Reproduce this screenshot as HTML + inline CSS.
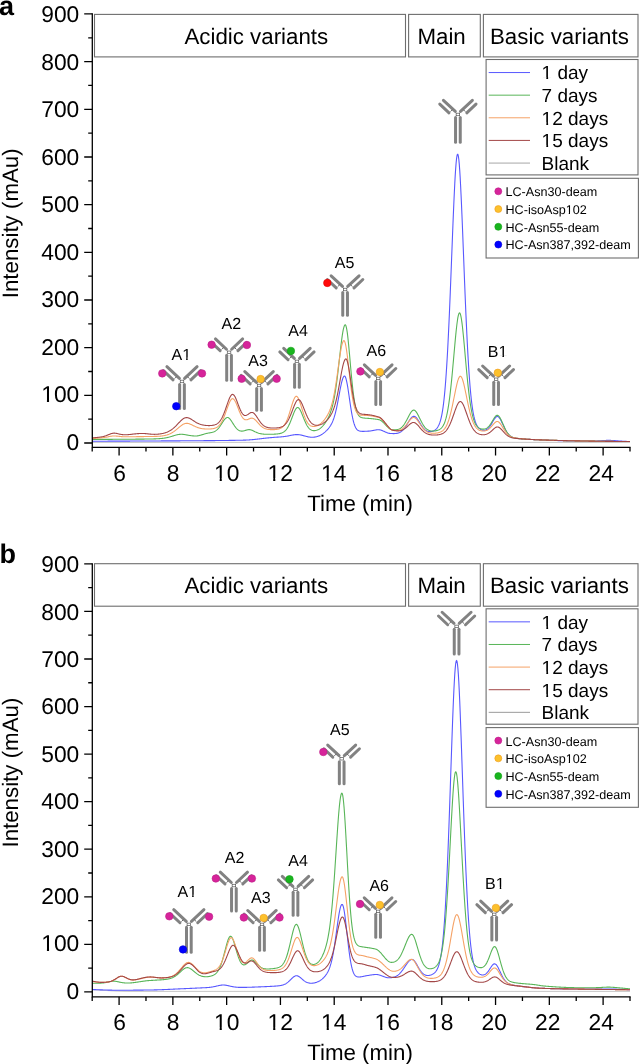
<!DOCTYPE html>
<html><head><meta charset="utf-8"><title>Chromatogram</title>
<style>html,body{margin:0;padding:0;background:#fff;}body{width:640px;height:1064px;overflow:hidden;font-family:"Liberation Sans", sans-serif;}svg{display:block;will-change:transform;}text{text-rendering:geometricPrecision;}</style>
</head><body>
<svg width="640" height="1064" viewBox="0 0 640 1064" font-family='"Liberation Sans", sans-serif'>
<rect width="640" height="1064" fill="#fff"/>
<polyline fill="none" stroke="#b4b4b4" stroke-width="1.0" stroke-linejoin="round" points="92.20,442.38 92.65,442.38 93.10,442.38 93.54,442.38 93.99,442.38 94.44,442.38 94.89,442.38 95.34,442.38 95.79,442.38 96.23,442.38 96.68,442.38 97.13,442.38 97.58,442.38 98.03,442.38 98.47,442.38 98.92,442.38 99.37,442.38 99.82,442.38 100.27,442.38 100.72,442.38 101.16,442.38 101.61,442.38 102.06,442.38 102.51,442.38 102.96,442.38 103.40,442.38 103.85,442.38 104.30,442.38 104.75,442.38 105.20,442.38 105.65,442.38 106.09,442.38 106.54,442.38 106.99,442.38 107.44,442.38 107.89,442.38 108.33,442.38 108.78,442.38 109.23,442.38 109.68,442.38 110.13,442.38 110.57,442.38 111.02,442.38 111.47,442.38 111.92,442.38 112.37,442.38 112.82,442.38 113.26,442.38 113.71,442.38 114.16,442.38 114.61,442.38 115.06,442.38 115.50,442.38 115.95,442.38 116.40,442.38 116.85,442.38 117.30,442.38 117.75,442.38 118.19,442.38 118.64,442.38 119.09,442.38 119.54,442.38 119.99,442.38 120.43,442.38 120.88,442.38 121.33,442.38 121.78,442.38 122.23,442.38 122.68,442.38 123.12,442.38 123.57,442.38 124.02,442.38 124.47,442.38 124.92,442.38 125.36,442.38 125.81,442.38 126.26,442.38 126.71,442.38 127.16,442.38 127.61,442.38 128.05,442.38 128.50,442.38 128.95,442.38 129.40,442.38 129.85,442.38 130.29,442.38 130.74,442.38 131.19,442.38 131.64,442.38 132.09,442.38 132.53,442.38 132.98,442.38 133.43,442.38 133.88,442.38 134.33,442.38 134.78,442.38 135.22,442.38 135.67,442.38 136.12,442.38 136.57,442.38 137.02,442.38 137.46,442.38 137.91,442.38 138.36,442.38 138.81,442.38 139.26,442.38 139.71,442.38 140.15,442.38 140.60,442.38 141.05,442.38 141.50,442.38 141.95,442.38 142.39,442.38 142.84,442.38 143.29,442.38 143.74,442.38 144.19,442.38 144.64,442.38 145.08,442.38 145.53,442.38 145.98,442.38 146.43,442.38 146.88,442.38 147.32,442.38 147.77,442.38 148.22,442.38 148.67,442.38 149.12,442.38 149.57,442.38 150.01,442.38 150.46,442.38 150.91,442.38 151.36,442.38 151.81,442.38 152.25,442.38 152.70,442.38 153.15,442.38 153.60,442.38 154.05,442.38 154.50,442.38 154.94,442.38 155.39,442.38 155.84,442.38 156.29,442.38 156.74,442.38 157.18,442.38 157.63,442.38 158.08,442.38 158.53,442.38 158.98,442.38 159.43,442.38 159.87,442.38 160.32,442.38 160.77,442.38 161.22,442.38 161.67,442.38 162.11,442.38 162.56,442.38 163.01,442.38 163.46,442.38 163.91,442.38 164.35,442.38 164.80,442.38 165.25,442.38 165.70,442.38 166.15,442.38 166.60,442.38 167.04,442.38 167.49,442.38 167.94,442.38 168.39,442.38 168.84,442.38 169.28,442.38 169.73,442.38 170.18,442.38 170.63,442.38 171.08,442.38 171.53,442.38 171.97,442.38 172.42,442.38 172.87,442.38 173.32,442.38 173.77,442.38 174.21,442.38 174.66,442.38 175.11,442.38 175.56,442.38 176.01,442.38 176.46,442.38 176.90,442.38 177.35,442.38 177.80,442.38 178.25,442.38 178.70,442.38 179.14,442.38 179.59,442.38 180.04,442.38 180.49,442.38 180.94,442.38 181.39,442.38 181.83,442.38 182.28,442.38 182.73,442.38 183.18,442.38 183.63,442.38 184.07,442.38 184.52,442.38 184.97,442.38 185.42,442.38 185.87,442.38 186.31,442.38 186.76,442.38 187.21,442.38 187.66,442.38 188.11,442.38 188.56,442.38 189.00,442.38 189.45,442.38 189.90,442.38 190.35,442.38 190.80,442.38 191.24,442.38 191.69,442.38 192.14,442.38 192.59,442.38 193.04,442.38 193.49,442.38 193.93,442.38 194.38,442.38 194.83,442.38 195.28,442.38 195.73,442.38 196.17,442.38 196.62,442.38 197.07,442.38 197.52,442.38 197.97,442.38 198.42,442.38 198.86,442.38 199.31,442.38 199.76,442.38 200.21,442.38 200.66,442.38 201.10,442.38 201.55,442.38 202.00,442.38 202.45,442.38 202.90,442.38 203.35,442.38 203.79,442.38 204.24,442.38 204.69,442.38 205.14,442.38 205.59,442.38 206.03,442.38 206.48,442.38 206.93,442.38 207.38,442.38 207.83,442.38 208.28,442.38 208.72,442.38 209.17,442.38 209.62,442.38 210.07,442.38 210.52,442.38 210.96,442.38 211.41,442.38 211.86,442.38 212.31,442.38 212.76,442.38 213.20,442.38 213.65,442.38 214.10,442.38 214.55,442.38 215.00,442.38 215.45,442.38 215.89,442.38 216.34,442.38 216.79,442.38 217.24,442.38 217.69,442.38 218.13,442.38 218.58,442.38 219.03,442.38 219.48,442.38 219.93,442.38 220.38,442.38 220.82,442.38 221.27,442.38 221.72,442.38 222.17,442.38 222.62,442.38 223.06,442.38 223.51,442.38 223.96,442.38 224.41,442.38 224.86,442.38 225.31,442.38 225.75,442.38 226.20,442.38 226.65,442.38 227.10,442.38 227.55,442.38 227.99,442.38 228.44,442.38 228.89,442.38 229.34,442.38 229.79,442.38 230.24,442.38 230.68,442.38 231.13,442.38 231.58,442.38 232.03,442.38 232.48,442.38 232.92,442.38 233.37,442.38 233.82,442.38 234.27,442.38 234.72,442.38 235.17,442.38 235.61,442.38 236.06,442.38 236.51,442.38 236.96,442.38 237.41,442.38 237.85,442.38 238.30,442.38 238.75,442.38 239.20,442.38 239.65,442.38 240.10,442.38 240.54,442.38 240.99,442.38 241.44,442.38 241.89,442.38 242.34,442.38 242.78,442.38 243.23,442.38 243.68,442.38 244.13,442.38 244.58,442.38 245.02,442.38 245.47,442.38 245.92,442.38 246.37,442.38 246.82,442.38 247.27,442.38 247.71,442.38 248.16,442.38 248.61,442.38 249.06,442.38 249.51,442.38 249.95,442.38 250.40,442.38 250.85,442.38 251.30,442.38 251.75,442.38 252.20,442.38 252.64,442.38 253.09,442.38 253.54,442.38 253.99,442.38 254.44,442.38 254.88,442.38 255.33,442.38 255.78,442.38 256.23,442.38 256.68,442.38 257.13,442.38 257.57,442.38 258.02,442.38 258.47,442.38 258.92,442.38 259.37,442.38 259.81,442.38 260.26,442.38 260.71,442.38 261.16,442.38 261.61,442.38 262.06,442.38 262.50,442.38 262.95,442.38 263.40,442.38 263.85,442.38 264.30,442.38 264.74,442.38 265.19,442.38 265.64,442.38 266.09,442.38 266.54,442.38 266.99,442.38 267.43,442.38 267.88,442.38 268.33,442.38 268.78,442.38 269.23,442.38 269.67,442.38 270.12,442.38 270.57,442.38 271.02,442.38 271.47,442.38 271.91,442.38 272.36,442.38 272.81,442.38 273.26,442.38 273.71,442.38 274.16,442.38 274.60,442.38 275.05,442.38 275.50,442.38 275.95,442.38 276.40,442.38 276.84,442.38 277.29,442.38 277.74,442.38 278.19,442.38 278.64,442.38 279.09,442.38 279.53,442.38 279.98,442.38 280.43,442.38 280.88,442.38 281.33,442.38 281.77,442.38 282.22,442.38 282.67,442.38 283.12,442.38 283.57,442.38 284.02,442.38 284.46,442.38 284.91,442.38 285.36,442.38 285.81,442.38 286.26,442.38 286.70,442.38 287.15,442.38 287.60,442.38 288.05,442.38 288.50,442.38 288.95,442.38 289.39,442.38 289.84,442.38 290.29,442.38 290.74,442.38 291.19,442.38 291.63,442.38 292.08,442.38 292.53,442.38 292.98,442.38 293.43,442.38 293.88,442.38 294.32,442.38 294.77,442.38 295.22,442.38 295.67,442.38 296.12,442.38 296.56,442.38 297.01,442.38 297.46,442.38 297.91,442.38 298.36,442.38 298.80,442.38 299.25,442.38 299.70,442.38 300.15,442.38 300.60,442.38 301.05,442.38 301.49,442.38 301.94,442.38 302.39,442.38 302.84,442.38 303.29,442.38 303.73,442.38 304.18,442.38 304.63,442.38 305.08,442.38 305.53,442.38 305.98,442.38 306.42,442.38 306.87,442.38 307.32,442.38 307.77,442.38 308.22,442.38 308.66,442.38 309.11,442.38 309.56,442.38 310.01,442.38 310.46,442.38 310.91,442.38 311.35,442.38 311.80,442.38 312.25,442.38 312.70,442.38 313.15,442.38 313.59,442.38 314.04,442.38 314.49,442.38 314.94,442.38 315.39,442.38 315.84,442.38 316.28,442.38 316.73,442.38 317.18,442.38 317.63,442.38 318.08,442.38 318.52,442.38 318.97,442.38 319.42,442.38 319.87,442.38 320.32,442.38 320.76,442.38 321.21,442.38 321.66,442.38 322.11,442.38 322.56,442.38 323.01,442.38 323.45,442.38 323.90,442.38 324.35,442.38 324.80,442.38 325.25,442.38 325.69,442.38 326.14,442.38 326.59,442.38 327.04,442.38 327.49,442.38 327.94,442.38 328.38,442.38 328.83,442.38 329.28,442.38 329.73,442.38 330.18,442.38 330.62,442.38 331.07,442.38 331.52,442.38 331.97,442.38 332.42,442.38 332.87,442.38 333.31,442.38 333.76,442.38 334.21,442.38 334.66,442.38 335.11,442.38 335.55,442.38 336.00,442.38 336.45,442.38 336.90,442.38 337.35,442.38 337.80,442.38 338.24,442.38 338.69,442.38 339.14,442.38 339.59,442.38 340.04,442.38 340.48,442.38 340.93,442.38 341.38,442.38 341.83,442.38 342.28,442.38 342.73,442.38 343.17,442.38 343.62,442.38 344.07,442.38 344.52,442.38 344.97,442.38 345.41,442.38 345.86,442.38 346.31,442.38 346.76,442.38 347.21,442.38 347.66,442.38 348.10,442.38 348.55,442.38 349.00,442.38 349.45,442.38 349.90,442.38 350.34,442.38 350.79,442.38 351.24,442.38 351.69,442.38 352.14,442.38 352.58,442.38 353.03,442.38 353.48,442.38 353.93,442.38 354.38,442.38 354.83,442.38 355.27,442.38 355.72,442.38 356.17,442.38 356.62,442.38 357.07,442.38 357.51,442.38 357.96,442.38 358.41,442.38 358.86,442.38 359.31,442.38 359.76,442.38 360.20,442.38 360.65,442.38 361.10,442.38 361.55,442.38 362.00,442.38 362.44,442.38 362.89,442.38 363.34,442.38 363.79,442.38 364.24,442.38 364.69,442.38 365.13,442.38 365.58,442.38 366.03,442.38 366.48,442.38 366.93,442.38 367.37,442.38 367.82,442.38 368.27,442.38 368.72,442.38 369.17,442.38 369.62,442.38 370.06,442.38 370.51,442.38 370.96,442.38 371.41,442.38 371.86,442.38 372.30,442.38 372.75,442.38 373.20,442.38 373.65,442.38 374.10,442.38 374.55,442.38 374.99,442.38 375.44,442.38 375.89,442.38 376.34,442.38 376.79,442.38 377.23,442.38 377.68,442.38 378.13,442.38 378.58,442.38 379.03,442.38 379.47,442.38 379.92,442.38 380.37,442.38 380.82,442.38 381.27,442.38 381.72,442.38 382.16,442.38 382.61,442.38 383.06,442.38 383.51,442.38 383.96,442.38 384.40,442.38 384.85,442.38 385.30,442.38 385.75,442.38 386.20,442.38 386.65,442.38 387.09,442.38 387.54,442.38 387.99,442.38 388.44,442.38 388.89,442.38 389.33,442.38 389.78,442.38 390.23,442.38 390.68,442.38 391.13,442.38 391.58,442.38 392.02,442.38 392.47,442.38 392.92,442.38 393.37,442.38 393.82,442.38 394.26,442.38 394.71,442.38 395.16,442.38 395.61,442.38 396.06,442.38 396.51,442.38 396.95,442.38 397.40,442.38 397.85,442.38 398.30,442.38 398.75,442.38 399.19,442.38 399.64,442.38 400.09,442.38 400.54,442.38 400.99,442.38 401.44,442.38 401.88,442.38 402.33,442.38 402.78,442.38 403.23,442.38 403.68,442.38 404.12,442.38 404.57,442.38 405.02,442.38 405.47,442.38 405.92,442.38 406.36,442.38 406.81,442.38 407.26,442.38 407.71,442.38 408.16,442.38 408.61,442.38 409.05,442.38 409.50,442.38 409.95,442.38 410.40,442.38 410.85,442.38 411.29,442.38 411.74,442.38 412.19,442.38 412.64,442.38 413.09,442.38 413.54,442.38 413.98,442.38 414.43,442.38 414.88,442.38 415.33,442.38 415.78,442.38 416.22,442.38 416.67,442.38 417.12,442.38 417.57,442.38 418.02,442.38 418.47,442.38 418.91,442.38 419.36,442.38 419.81,442.38 420.26,442.38 420.71,442.38 421.15,442.38 421.60,442.38 422.05,442.38 422.50,442.38 422.95,442.38 423.40,442.38 423.84,442.38 424.29,442.38 424.74,442.38 425.19,442.38 425.64,442.38 426.08,442.38 426.53,442.38 426.98,442.38 427.43,442.38 427.88,442.38 428.32,442.38 428.77,442.38 429.22,442.38 429.67,442.38 430.12,442.38 430.57,442.38 431.01,442.38 431.46,442.38 431.91,442.38 432.36,442.38 432.81,442.38 433.25,442.38 433.70,442.38 434.15,442.38 434.60,442.38 435.05,442.38 435.50,442.38 435.94,442.38 436.39,442.38 436.84,442.38 437.29,442.38 437.74,442.38 438.18,442.38 438.63,442.38 439.08,442.38 439.53,442.38 439.98,442.38 440.43,442.38 440.87,442.38 441.32,442.38 441.77,442.38 442.22,442.38 442.67,442.38 443.11,442.38 443.56,442.38 444.01,442.38 444.46,442.38 444.91,442.38 445.36,442.38 445.80,442.38 446.25,442.38 446.70,442.38 447.15,442.38 447.60,442.38 448.04,442.38 448.49,442.38 448.94,442.38 449.39,442.38 449.84,442.38 450.29,442.38 450.73,442.38 451.18,442.38 451.63,442.38 452.08,442.38 452.53,442.38 452.97,442.38 453.42,442.38 453.87,442.38 454.32,442.38 454.77,442.38 455.21,442.38 455.66,442.38 456.11,442.38 456.56,442.38 457.01,442.38 457.46,442.38 457.90,442.38 458.35,442.38 458.80,442.38 459.25,442.38 459.70,442.38 460.14,442.38 460.59,442.38 461.04,442.38 461.49,442.38 461.94,442.38 462.39,442.38 462.83,442.38 463.28,442.38 463.73,442.38 464.18,442.38 464.63,442.38 465.07,442.38 465.52,442.38 465.97,442.38 466.42,442.38 466.87,442.38 467.32,442.38 467.76,442.38 468.21,442.38 468.66,442.38 469.11,442.38 469.56,442.38 470.00,442.38 470.45,442.38 470.90,442.38 471.35,442.38 471.80,442.38 472.25,442.38 472.69,442.38 473.14,442.38 473.59,442.38 474.04,442.38 474.49,442.38 474.93,442.38 475.38,442.38 475.83,442.38 476.28,442.38 476.73,442.38 477.18,442.38 477.62,442.38 478.07,442.38 478.52,442.38 478.97,442.38 479.42,442.38 479.86,442.38 480.31,442.38 480.76,442.38 481.21,442.38 481.66,442.38 482.11,442.38 482.55,442.38 483.00,442.38 483.45,442.38 483.90,442.38 484.35,442.38 484.79,442.38 485.24,442.38 485.69,442.38 486.14,442.38 486.59,442.38 487.03,442.38 487.48,442.38 487.93,442.38 488.38,442.38 488.83,442.38 489.28,442.38 489.72,442.38 490.17,442.38 490.62,442.38 491.07,442.38 491.52,442.38 491.96,442.38 492.41,442.38 492.86,442.38 493.31,442.38 493.76,442.38 494.21,442.38 494.65,442.38 495.10,442.38 495.55,442.38 496.00,442.38 496.45,442.38 496.89,442.38 497.34,442.38 497.79,442.38 498.24,442.38 498.69,442.38 499.14,442.38 499.58,442.38 500.03,442.38 500.48,442.38 500.93,442.38 501.38,442.38 501.82,442.38 502.27,442.38 502.72,442.38 503.17,442.38 503.62,442.38 504.07,442.38 504.51,442.38 504.96,442.38 505.41,442.38 505.86,442.38 506.31,442.38 506.75,442.38 507.20,442.38 507.65,442.38 508.10,442.38 508.55,442.38 509.00,442.38 509.44,442.38 509.89,442.38 510.34,442.38 510.79,442.38 511.24,442.38 511.68,442.38 512.13,442.38 512.58,442.38 513.03,442.38 513.48,442.38 513.92,442.38 514.37,442.38 514.82,442.38 515.27,442.38 515.72,442.38 516.17,442.38 516.61,442.38 517.06,442.38 517.51,442.38 517.96,442.38 518.41,442.38 518.85,442.38 519.30,442.38 519.75,442.38 520.20,442.38 520.65,442.38 521.10,442.38 521.54,442.38 521.99,442.38 522.44,442.38 522.89,442.38 523.34,442.38 523.78,442.38 524.23,442.38 524.68,442.38 525.13,442.38 525.58,442.38 526.03,442.38 526.47,442.38 526.92,442.38 527.37,442.38 527.82,442.38 528.27,442.38 528.71,442.38 529.16,442.38 529.61,442.38 530.06,442.38 530.51,442.38 530.96,442.38 531.40,442.38 531.85,442.38 532.30,442.38 532.75,442.38 533.20,442.38 533.64,442.38 534.09,442.38 534.54,442.38 534.99,442.38 535.44,442.38 535.88,442.38 536.33,442.38 536.78,442.38 537.23,442.38 537.68,442.38 538.13,442.38 538.57,442.38 539.02,442.38 539.47,442.38 539.92,442.38 540.37,442.38 540.81,442.38 541.26,442.38 541.71,442.38 542.16,442.38 542.61,442.38 543.06,442.38 543.50,442.38 543.95,442.38 544.40,442.38 544.85,442.38 545.30,442.38 545.74,442.38 546.19,442.38 546.64,442.38 547.09,442.38 547.54,442.38 547.99,442.38 548.43,442.38 548.88,442.38 549.33,442.38 549.78,442.38 550.23,442.38 550.67,442.38 551.12,442.38 551.57,442.38 552.02,442.38 552.47,442.38 552.92,442.38 553.36,442.38 553.81,442.38 554.26,442.38 554.71,442.38 555.16,442.38 555.60,442.38 556.05,442.38 556.50,442.38 556.95,442.38 557.40,442.38 557.85,442.38 558.29,442.38 558.74,442.38 559.19,442.38 559.64,442.38 560.09,442.38 560.53,442.38 560.98,442.38 561.43,442.38 561.88,442.38 562.33,442.38 562.77,442.38 563.22,442.38 563.67,442.38 564.12,442.38 564.57,442.38 565.02,442.38 565.46,442.38 565.91,442.38 566.36,442.38 566.81,442.38 567.26,442.38 567.70,442.38 568.15,442.38 568.60,442.38 569.05,442.38 569.50,442.38 569.95,442.38 570.39,442.38 570.84,442.38 571.29,442.38 571.74,442.38 572.19,442.38 572.63,442.38 573.08,442.38 573.53,442.38 573.98,442.38 574.43,442.38 574.88,442.38 575.32,442.38 575.77,442.38 576.22,442.38 576.67,442.38 577.12,442.38 577.56,442.38 578.01,442.38 578.46,442.38 578.91,442.38 579.36,442.38 579.81,442.38 580.25,442.38 580.70,442.38 581.15,442.38 581.60,442.38 582.05,442.38 582.49,442.38 582.94,442.38 583.39,442.38 583.84,442.38 584.29,442.38 584.74,442.38 585.18,442.38 585.63,442.38 586.08,442.38 586.53,442.38 586.98,442.38 587.42,442.38 587.87,442.38 588.32,442.38 588.77,442.38 589.22,442.38 589.67,442.38 590.11,442.38 590.56,442.38 591.01,442.38 591.46,442.38 591.91,442.38 592.35,442.38 592.80,442.38 593.25,442.38 593.70,442.38 594.15,442.38 594.59,442.38 595.04,442.38 595.49,442.38 595.94,442.38 596.39,442.38 596.84,442.38 597.28,442.38 597.73,442.38 598.18,442.38 598.63,442.38 599.08,442.38 599.52,442.38 599.97,442.38 600.42,442.38 600.87,442.38 601.32,442.38 601.77,442.38 602.21,442.38 602.66,442.38 603.11,442.38 603.56,442.38 604.01,442.38 604.45,442.38 604.90,442.38 605.35,442.38 605.80,442.38 606.25,442.38 606.70,442.38 607.14,442.38 607.59,442.38 608.04,442.38 608.49,442.38 608.94,442.38 609.38,442.38 609.83,442.38 610.28,442.38 610.73,442.38 611.18,442.38 611.63,442.38 612.07,442.38 612.52,442.38 612.97,442.38 613.42,442.38 613.87,442.38 614.31,442.38 614.76,442.38 615.21,442.38 615.66,442.38 616.11,442.38 616.56,442.38 617.00,442.38 617.45,442.38 617.90,442.38 618.35,442.38 618.80,442.38 619.24,442.38 619.69,442.38 620.14,442.38 620.59,442.38 621.04,442.38 621.48,442.38 621.93,442.38 622.38,442.38 622.83,442.38 623.28,442.38 623.73,442.38 624.17,442.38 624.62,442.38 625.07,442.38 625.52,442.38 625.97,442.38 626.41,442.38 626.86,442.38 627.31,442.38 627.76,442.38 628.21,442.38 628.66,442.38 629.10,442.38 629.55,442.38 630.00,442.38"/>
<polyline fill="none" stroke="#5858ff" stroke-width="1.1" stroke-linejoin="round" points="92.20,441.24 92.65,441.23 93.10,441.23 93.54,441.23 93.99,441.23 94.44,441.23 94.89,441.23 95.34,441.22 95.79,441.22 96.23,441.22 96.68,441.22 97.13,441.22 97.58,441.22 98.03,441.21 98.47,441.21 98.92,441.21 99.37,441.21 99.82,441.21 100.27,441.20 100.72,441.20 101.16,441.20 101.61,441.20 102.06,441.20 102.51,441.20 102.96,441.19 103.40,441.19 103.85,441.19 104.30,441.19 104.75,441.19 105.20,441.18 105.65,441.18 106.09,441.18 106.54,441.18 106.99,441.18 107.44,441.18 107.89,441.17 108.33,441.17 108.78,441.17 109.23,441.17 109.68,441.17 110.13,441.16 110.57,441.16 111.02,441.16 111.47,441.16 111.92,441.16 112.37,441.15 112.82,441.15 113.26,441.15 113.71,441.15 114.16,441.15 114.61,441.14 115.06,441.14 115.50,441.14 115.95,441.14 116.40,441.14 116.85,441.13 117.30,441.13 117.75,441.13 118.19,441.13 118.64,441.13 119.09,441.13 119.54,441.12 119.99,441.12 120.43,441.12 120.88,441.12 121.33,441.12 121.78,441.11 122.23,441.11 122.68,441.11 123.12,441.11 123.57,441.10 124.02,441.10 124.47,441.10 124.92,441.10 125.36,441.10 125.81,441.09 126.26,441.09 126.71,441.09 127.16,441.09 127.61,441.09 128.05,441.08 128.50,441.08 128.95,441.08 129.40,441.08 129.85,441.08 130.29,441.07 130.74,441.07 131.19,441.07 131.64,441.07 132.09,441.07 132.53,441.06 132.98,441.06 133.43,441.06 133.88,441.06 134.33,441.05 134.78,441.05 135.22,441.05 135.67,441.05 136.12,441.05 136.57,441.04 137.02,441.04 137.46,441.04 137.91,441.04 138.36,441.04 138.81,441.03 139.26,441.03 139.71,441.03 140.15,441.03 140.60,441.02 141.05,441.02 141.50,441.02 141.95,441.02 142.39,441.02 142.84,441.01 143.29,441.01 143.74,441.01 144.19,441.01 144.64,441.00 145.08,441.00 145.53,441.00 145.98,441.00 146.43,441.00 146.88,440.99 147.32,440.99 147.77,440.99 148.22,440.99 148.67,440.98 149.12,440.98 149.57,440.98 150.01,440.98 150.46,440.98 150.91,440.97 151.36,440.97 151.81,440.97 152.25,440.97 152.70,440.96 153.15,440.96 153.60,440.96 154.05,440.96 154.50,440.96 154.94,440.95 155.39,440.95 155.84,440.95 156.29,440.95 156.74,440.95 157.18,440.94 157.63,440.94 158.08,440.94 158.53,440.94 158.98,440.93 159.43,440.93 159.87,440.93 160.32,440.93 160.77,440.93 161.22,440.92 161.67,440.92 162.11,440.92 162.56,440.92 163.01,440.91 163.46,440.91 163.91,440.91 164.35,440.91 164.80,440.91 165.25,440.90 165.70,440.90 166.15,440.90 166.60,440.90 167.04,440.89 167.49,440.89 167.94,440.89 168.39,440.89 168.84,440.89 169.28,440.88 169.73,440.88 170.18,440.88 170.63,440.88 171.08,440.87 171.53,440.87 171.97,440.87 172.42,440.87 172.87,440.87 173.32,440.86 173.77,440.86 174.21,440.86 174.66,440.86 175.11,440.85 175.56,440.85 176.01,440.85 176.46,440.85 176.90,440.84 177.35,440.84 177.80,440.84 178.25,440.84 178.70,440.83 179.14,440.83 179.59,440.83 180.04,440.83 180.49,440.82 180.94,440.82 181.39,440.82 181.83,440.82 182.28,440.81 182.73,440.81 183.18,440.81 183.63,440.81 184.07,440.80 184.52,440.80 184.97,440.80 185.42,440.80 185.87,440.79 186.31,440.79 186.76,440.79 187.21,440.79 187.66,440.78 188.11,440.78 188.56,440.78 189.00,440.77 189.45,440.77 189.90,440.77 190.35,440.77 190.80,440.76 191.24,440.76 191.69,440.76 192.14,440.75 192.59,440.75 193.04,440.75 193.49,440.75 193.93,440.74 194.38,440.74 194.83,440.74 195.28,440.73 195.73,440.73 196.17,440.73 196.62,440.72 197.07,440.72 197.52,440.72 197.97,440.72 198.42,440.71 198.86,440.71 199.31,440.71 199.76,440.70 200.21,440.70 200.66,440.70 201.10,440.69 201.55,440.69 202.00,440.69 202.45,440.68 202.90,440.68 203.35,440.68 203.79,440.67 204.24,440.67 204.69,440.67 205.14,440.66 205.59,440.66 206.03,440.65 206.48,440.65 206.93,440.65 207.38,440.64 207.83,440.64 208.28,440.64 208.72,440.63 209.17,440.63 209.62,440.62 210.07,440.62 210.52,440.62 210.96,440.61 211.41,440.61 211.86,440.60 212.31,440.60 212.76,440.60 213.20,440.59 213.65,440.59 214.10,440.58 214.55,440.58 215.00,440.58 215.45,440.57 215.89,440.57 216.34,440.56 216.79,440.56 217.24,440.56 217.69,440.55 218.13,440.55 218.58,440.54 219.03,440.54 219.48,440.53 219.93,440.53 220.38,440.52 220.82,440.52 221.27,440.51 221.72,440.51 222.17,440.51 222.62,440.50 223.06,440.50 223.51,440.49 223.96,440.48 224.41,440.48 224.86,440.47 225.31,440.47 225.75,440.46 226.20,440.46 226.65,440.45 227.10,440.45 227.55,440.44 227.99,440.44 228.44,440.43 228.89,440.42 229.34,440.42 229.79,440.41 230.24,440.40 230.68,440.40 231.13,440.39 231.58,440.38 232.03,440.38 232.48,440.37 232.92,440.36 233.37,440.36 233.82,440.35 234.27,440.34 234.72,440.34 235.17,440.33 235.61,440.32 236.06,440.31 236.51,440.30 236.96,440.30 237.41,440.29 237.85,440.28 238.30,440.27 238.75,440.26 239.20,440.25 239.65,440.24 240.10,440.24 240.54,440.23 240.99,440.22 241.44,440.21 241.89,440.20 242.34,440.19 242.78,440.18 243.23,440.17 243.68,440.16 244.13,440.15 244.58,440.14 245.02,440.12 245.47,440.11 245.92,440.09 246.37,440.07 246.82,440.05 247.27,440.03 247.71,440.00 248.16,439.98 248.61,439.95 249.06,439.92 249.51,439.88 249.95,439.85 250.40,439.82 250.85,439.78 251.30,439.74 251.75,439.70 252.20,439.66 252.64,439.62 253.09,439.58 253.54,439.53 253.99,439.49 254.44,439.44 254.88,439.40 255.33,439.35 255.78,439.30 256.23,439.25 256.68,439.20 257.13,439.15 257.57,439.10 258.02,439.05 258.47,439.00 258.92,438.94 259.37,438.89 259.81,438.84 260.26,438.79 260.71,438.73 261.16,438.68 261.61,438.63 262.06,438.57 262.50,438.52 262.95,438.47 263.40,438.42 263.85,438.36 264.30,438.31 264.74,438.26 265.19,438.21 265.64,438.16 266.09,438.11 266.54,438.06 266.99,438.01 267.43,437.97 267.88,437.92 268.33,437.87 268.78,437.83 269.23,437.78 269.67,437.74 270.12,437.70 270.57,437.66 271.02,437.61 271.47,437.58 271.91,437.54 272.36,437.50 272.81,437.46 273.26,437.43 273.71,437.39 274.16,437.36 274.60,437.32 275.05,437.29 275.50,437.26 275.95,437.23 276.40,437.20 276.84,437.17 277.29,437.14 277.74,437.11 278.19,437.08 278.64,437.05 279.09,437.02 279.53,436.99 279.98,436.96 280.43,436.93 280.88,436.89 281.33,436.85 281.77,436.81 282.22,436.77 282.67,436.73 283.12,436.68 283.57,436.63 284.02,436.57 284.46,436.51 284.91,436.45 285.36,436.39 285.81,436.32 286.26,436.25 286.70,436.17 287.15,436.09 287.60,436.01 288.05,435.93 288.50,435.84 288.95,435.75 289.39,435.67 289.84,435.58 290.29,435.48 290.74,435.39 291.19,435.30 291.63,435.22 292.08,435.13 292.53,435.05 292.98,434.97 293.43,434.89 293.88,434.83 294.32,434.77 294.77,434.71 295.22,434.67 295.67,434.63 296.12,434.60 296.56,434.59 297.01,434.58 297.46,434.59 297.91,434.61 298.36,434.64 298.80,434.68 299.25,434.74 299.70,434.80 300.15,434.88 300.60,434.96 301.05,435.05 301.49,435.15 301.94,435.26 302.39,435.37 302.84,435.49 303.29,435.61 303.73,435.73 304.18,435.85 304.63,435.97 305.08,436.09 305.53,436.21 305.98,436.33 306.42,436.44 306.87,436.55 307.32,436.65 307.77,436.75 308.22,436.84 308.66,436.92 309.11,437.00 309.56,437.07 310.01,437.13 310.46,437.18 310.91,437.22 311.35,437.24 311.80,437.26 312.25,437.27 312.70,437.26 313.15,437.25 313.59,437.22 314.04,437.17 314.49,437.12 314.94,437.05 315.39,436.98 315.84,436.88 316.28,436.78 316.73,436.66 317.18,436.53 317.63,436.39 318.08,436.23 318.52,436.06 318.97,435.87 319.42,435.67 319.87,435.46 320.32,435.24 320.76,435.00 321.21,434.74 321.66,434.47 322.11,434.19 322.56,433.89 323.01,433.58 323.45,433.26 323.90,432.91 324.35,432.56 324.80,432.19 325.25,431.80 325.69,431.40 326.14,430.97 326.59,430.54 327.04,430.08 327.49,429.60 327.94,429.10 328.38,428.57 328.83,428.01 329.28,427.42 329.73,426.80 330.18,426.13 330.62,425.42 331.07,424.65 331.52,423.82 331.97,422.93 332.42,421.96 332.87,420.90 333.31,419.74 333.76,418.49 334.21,417.13 334.66,415.65 335.11,414.05 335.55,412.32 336.00,410.48 336.45,408.51 336.90,406.43 337.35,404.24 337.80,401.96 338.24,399.62 338.69,397.22 339.14,394.80 339.59,392.39 340.04,390.01 340.48,387.72 340.93,385.53 341.38,383.49 341.83,381.64 342.28,380.01 342.73,378.62 343.17,377.51 343.62,376.70 344.07,376.19 344.52,376.02 344.97,376.27 345.41,377.00 345.86,378.18 346.31,379.78 346.76,381.77 347.21,384.08 347.66,386.68 348.10,389.49 348.55,392.46 349.00,395.53 349.45,398.63 349.90,401.73 350.34,404.76 350.79,407.68 351.24,410.46 351.69,413.08 352.14,415.50 352.58,417.72 353.03,419.74 353.48,421.54 353.93,423.14 354.38,424.55 354.83,425.76 355.27,426.81 355.72,427.69 356.17,428.44 356.62,429.06 357.07,429.57 357.51,429.98 357.96,430.31 358.41,430.58 358.86,430.79 359.31,430.95 359.76,431.07 360.20,431.16 360.65,431.23 361.10,431.28 361.55,431.31 362.00,431.33 362.44,431.34 362.89,431.35 363.34,431.35 363.79,431.34 364.24,431.33 364.69,431.32 365.13,431.30 365.58,431.29 366.03,431.27 366.48,431.25 366.93,431.23 367.37,431.20 367.82,431.17 368.27,431.15 368.72,431.12 369.17,431.08 369.62,431.04 370.06,430.99 370.51,430.93 370.96,430.86 371.41,430.79 371.86,430.71 372.30,430.62 372.75,430.53 373.20,430.44 373.65,430.35 374.10,430.26 374.55,430.17 374.99,430.09 375.44,430.01 375.89,429.94 376.34,429.87 376.79,429.81 377.23,429.77 377.68,429.73 378.13,429.71 378.58,429.70 379.03,429.72 379.47,429.77 379.92,429.85 380.37,429.95 380.82,430.07 381.27,430.21 381.72,430.37 382.16,430.55 382.61,430.73 383.06,430.93 383.51,431.13 383.96,431.34 384.40,431.55 384.85,431.76 385.30,431.97 385.75,432.17 386.20,432.37 386.65,432.56 387.09,432.73 387.54,432.90 387.99,433.04 388.44,433.17 388.89,433.27 389.33,433.36 389.78,433.41 390.23,433.45 390.68,433.48 391.13,433.51 391.58,433.53 392.02,433.55 392.47,433.57 392.92,433.58 393.37,433.59 393.82,433.59 394.26,433.58 394.71,433.57 395.16,433.55 395.61,433.51 396.06,433.47 396.51,433.41 396.95,433.34 397.40,433.25 397.85,433.14 398.30,433.01 398.75,432.86 399.19,432.69 399.64,432.49 400.09,432.26 400.54,432.00 400.99,431.71 401.44,431.39 401.88,431.03 402.33,430.64 402.78,430.21 403.23,429.74 403.68,429.23 404.12,428.68 404.57,428.10 405.02,427.49 405.47,426.84 405.92,426.17 406.36,425.47 406.81,424.74 407.26,424.00 407.71,423.25 408.16,422.50 408.61,421.75 409.05,421.02 409.50,420.30 409.95,419.62 410.40,418.97 410.85,418.37 411.29,417.83 411.74,417.36 412.19,416.97 412.64,416.66 413.09,416.45 413.54,416.33 413.98,416.31 414.43,416.39 414.88,416.57 415.33,416.84 415.78,417.20 416.22,417.63 416.67,418.14 417.12,418.71 417.57,419.33 418.02,419.98 418.47,420.67 418.91,421.38 419.36,422.10 419.81,422.83 420.26,423.55 420.71,424.27 421.15,424.96 421.60,425.63 422.05,426.28 422.50,426.90 422.95,427.48 423.40,428.03 423.84,428.54 424.29,429.00 424.74,429.43 425.19,429.82 425.64,430.16 426.08,430.47 426.53,430.74 426.98,430.97 427.43,431.16 427.88,431.32 428.32,431.44 428.77,431.53 429.22,431.59 429.67,431.62 430.12,431.63 430.57,431.61 431.01,431.56 431.46,431.48 431.91,431.39 432.36,431.26 432.81,431.12 433.25,430.94 433.70,430.74 434.15,430.51 434.60,430.24 435.05,429.95 435.50,429.61 435.94,429.22 436.39,428.78 436.84,428.29 437.29,427.72 437.74,427.07 438.18,426.34 438.63,425.49 439.08,424.53 439.53,423.42 439.98,422.16 440.43,420.71 440.87,419.07 441.32,417.19 441.77,415.05 442.22,412.63 442.67,409.90 443.11,406.82 443.56,403.36 444.01,399.49 444.46,395.18 444.91,390.41 445.36,385.14 445.80,379.35 446.25,373.03 446.70,366.16 447.15,358.73 447.60,350.75 448.04,342.21 448.49,333.14 448.94,323.55 449.39,313.49 449.84,303.00 450.29,292.14 450.73,280.97 451.18,269.59 451.63,258.06 452.08,246.51 452.53,235.05 452.97,223.79 453.42,212.88 453.87,202.46 454.32,192.67 454.77,183.67 455.21,175.62 455.66,168.67 456.11,162.95 456.56,158.57 457.01,155.65 457.46,154.25 457.90,154.39 458.35,156.08 458.80,159.28 459.25,163.91 459.70,169.87 460.14,177.04 460.59,185.27 461.04,194.42 461.49,204.32 461.94,214.83 462.39,225.81 462.83,237.10 463.28,248.57 463.73,260.10 464.18,271.59 464.63,282.92 465.07,294.01 465.52,304.79 465.97,315.18 466.42,325.13 466.87,334.59 467.32,343.54 467.76,351.96 468.21,359.81 468.66,367.11 469.11,373.86 469.56,380.05 470.00,385.72 470.45,390.87 470.90,395.53 471.35,399.73 471.80,403.50 472.25,406.87 472.69,409.87 473.14,412.52 473.59,414.87 474.04,416.94 474.49,418.75 474.93,420.35 475.38,421.74 475.83,422.96 476.28,424.02 476.73,424.95 477.18,425.76 477.62,426.46 478.07,427.08 478.52,427.61 478.97,428.08 479.42,428.49 479.86,428.84 480.31,429.15 480.76,429.41 481.21,429.64 481.66,429.83 482.11,429.99 482.55,430.11 483.00,430.20 483.45,430.26 483.90,430.28 484.35,430.27 484.79,430.22 485.24,430.13 485.69,430.00 486.14,429.82 486.59,429.60 487.03,429.32 487.48,429.00 487.93,428.63 488.38,428.20 488.83,427.72 489.28,427.19 489.72,426.61 490.17,425.98 490.62,425.31 491.07,424.61 491.52,423.87 491.96,423.11 492.41,422.33 492.86,421.56 493.31,420.79 493.76,420.04 494.21,419.32 494.65,418.65 495.10,418.05 495.55,417.53 496.00,417.10 496.45,416.78 496.89,416.58 497.34,416.51 497.79,416.57 498.24,416.76 498.69,417.09 499.14,417.54 499.58,418.11 500.03,418.78 500.48,419.54 500.93,420.37 501.38,421.26 501.82,422.19 502.27,423.16 502.72,424.14 503.17,425.12 503.62,426.09 504.07,427.05 504.51,427.98 504.96,428.88 505.41,429.74 505.86,430.55 506.31,431.32 506.75,432.04 507.20,432.71 507.65,433.33 508.10,433.90 508.55,434.41 509.00,434.89 509.44,435.31 509.89,435.69 510.34,436.04 510.79,436.34 511.24,436.62 511.68,436.86 512.13,437.07 512.58,437.26 513.03,437.43 513.48,437.57 513.92,437.71 514.37,437.82 514.82,437.93 515.27,438.02 515.72,438.11 516.17,438.19 516.61,438.26 517.06,438.33 517.51,438.39 517.96,438.44 518.41,438.50 518.85,438.55 519.30,438.60 519.75,438.65 520.20,438.69 520.65,438.73 521.10,438.77 521.54,438.81 521.99,438.85 522.44,438.89 522.89,438.92 523.34,438.96 523.78,438.99 524.23,439.03 524.68,439.06 525.13,439.09 525.58,439.12 526.03,439.15 526.47,439.18 526.92,439.21 527.37,439.24 527.82,439.26 528.27,439.29 528.71,439.32 529.16,439.34 529.61,439.37 530.06,439.39 530.51,439.42 530.96,439.44 531.40,439.46 531.85,439.49 532.30,439.51 532.75,439.53 533.20,439.56 533.64,439.58 534.09,439.60 534.54,439.62 534.99,439.64 535.44,439.66 535.88,439.68 536.33,439.71 536.78,439.73 537.23,439.75 537.68,439.77 538.13,439.79 538.57,439.81 539.02,439.83 539.47,439.85 539.92,439.87 540.37,439.89 540.81,439.90 541.26,439.92 541.71,439.94 542.16,439.96 542.61,439.98 543.06,440.00 543.50,440.02 543.95,440.04 544.40,440.06 544.85,440.08 545.30,440.10 545.74,440.12 546.19,440.14 546.64,440.15 547.09,440.17 547.54,440.19 547.99,440.21 548.43,440.23 548.88,440.25 549.33,440.26 549.78,440.28 550.23,440.30 550.67,440.32 551.12,440.34 551.57,440.35 552.02,440.37 552.47,440.39 552.92,440.40 553.36,440.42 553.81,440.44 554.26,440.46 554.71,440.47 555.16,440.49 555.60,440.50 556.05,440.52 556.50,440.54 556.95,440.55 557.40,440.57 557.85,440.58 558.29,440.60 558.74,440.61 559.19,440.63 559.64,440.64 560.09,440.66 560.53,440.67 560.98,440.69 561.43,440.70 561.88,440.71 562.33,440.73 562.77,440.74 563.22,440.75 563.67,440.76 564.12,440.78 564.57,440.79 565.02,440.80 565.46,440.81 565.91,440.82 566.36,440.83 566.81,440.85 567.26,440.86 567.70,440.87 568.15,440.88 568.60,440.89 569.05,440.90 569.50,440.90 569.95,440.91 570.39,440.92 570.84,440.93 571.29,440.94 571.74,440.94 572.19,440.95 572.63,440.96 573.08,440.96 573.53,440.97 573.98,440.98 574.43,440.98 574.88,440.99 575.32,440.99 575.77,440.99 576.22,441.00 576.67,441.00 577.12,441.00 577.56,441.01 578.01,441.01 578.46,441.01 578.91,441.02 579.36,441.02 579.81,441.02 580.25,441.03 580.70,441.03 581.15,441.03 581.60,441.04 582.05,441.04 582.49,441.04 582.94,441.05 583.39,441.05 583.84,441.05 584.29,441.05 584.74,441.06 585.18,441.06 585.63,441.06 586.08,441.06 586.53,441.07 586.98,441.07 587.42,441.07 587.87,441.07 588.32,441.08 588.77,441.08 589.22,441.08 589.67,441.08 590.11,441.08 590.56,441.09 591.01,441.09 591.46,441.09 591.91,441.09 592.35,441.09 592.80,441.09 593.25,441.09 593.70,441.08 594.15,441.07 594.59,441.06 595.04,441.05 595.49,441.03 595.94,441.01 596.39,440.99 596.84,440.96 597.28,440.94 597.73,440.91 598.18,440.89 598.63,440.86 599.08,440.83 599.52,440.80 599.97,440.77 600.42,440.74 600.87,440.71 601.32,440.68 601.77,440.65 602.21,440.62 602.66,440.59 603.11,440.56 603.56,440.54 604.01,440.51 604.45,440.49 604.90,440.46 605.35,440.45 605.80,440.43 606.25,440.41 606.70,440.40 607.14,440.39 607.59,440.38 608.04,440.38 608.49,440.38 608.94,440.38 609.38,440.39 609.83,440.39 610.28,440.41 610.73,440.42 611.18,440.44 611.63,440.45 612.07,440.47 612.52,440.50 612.97,440.52 613.42,440.55 613.87,440.57 614.31,440.60 614.76,440.63 615.21,440.66 615.66,440.69 616.11,440.73 616.56,440.76 617.00,440.79 617.45,440.83 617.90,440.86 618.35,440.90 618.80,440.93 619.24,440.97 619.69,441.00 620.14,441.04 620.59,441.07 621.04,441.11 621.48,441.14 621.93,441.17 622.38,441.20 622.83,441.23 623.28,441.26 623.73,441.28 624.17,441.31 624.62,441.33 625.07,441.35 625.52,441.37 625.97,441.40 626.41,441.42 626.86,441.44 627.31,441.46 627.76,441.48 628.21,441.50 628.66,441.51 629.10,441.53 629.55,441.55 630.00,441.57"/>
<polyline fill="none" stroke="#58b558" stroke-width="1.1" stroke-linejoin="round" points="92.20,439.38 92.65,439.38 93.10,439.38 93.54,439.38 93.99,439.38 94.44,439.38 94.89,439.37 95.34,439.37 95.79,439.37 96.23,439.37 96.68,439.37 97.13,439.37 97.58,439.37 98.03,439.37 98.47,439.37 98.92,439.37 99.37,439.37 99.82,439.37 100.27,439.37 100.72,439.36 101.16,439.36 101.61,439.36 102.06,439.36 102.51,439.36 102.96,439.36 103.40,439.36 103.85,439.36 104.30,439.36 104.75,439.35 105.20,439.35 105.65,439.35 106.09,439.35 106.54,439.35 106.99,439.35 107.44,439.35 107.89,439.34 108.33,439.34 108.78,439.34 109.23,439.34 109.68,439.34 110.13,439.34 110.57,439.33 111.02,439.33 111.47,439.33 111.92,439.33 112.37,439.33 112.82,439.32 113.26,439.32 113.71,439.32 114.16,439.32 114.61,439.32 115.06,439.31 115.50,439.31 115.95,439.31 116.40,439.31 116.85,439.31 117.30,439.30 117.75,439.30 118.19,439.30 118.64,439.30 119.09,439.29 119.54,439.29 119.99,439.29 120.43,439.29 120.88,439.28 121.33,439.28 121.78,439.28 122.23,439.27 122.68,439.27 123.12,439.27 123.57,439.27 124.02,439.26 124.47,439.26 124.92,439.26 125.36,439.25 125.81,439.25 126.26,439.25 126.71,439.24 127.16,439.24 127.61,439.24 128.05,439.23 128.50,439.23 128.95,439.23 129.40,439.22 129.85,439.22 130.29,439.22 130.74,439.21 131.19,439.21 131.64,439.21 132.09,439.20 132.53,439.20 132.98,439.20 133.43,439.19 133.88,439.19 134.33,439.18 134.78,439.18 135.22,439.18 135.67,439.17 136.12,439.17 136.57,439.16 137.02,439.16 137.46,439.15 137.91,439.15 138.36,439.14 138.81,439.14 139.26,439.14 139.71,439.13 140.15,439.13 140.60,439.12 141.05,439.12 141.50,439.11 141.95,439.11 142.39,439.10 142.84,439.10 143.29,439.09 143.74,439.08 144.19,439.08 144.64,439.07 145.08,439.07 145.53,439.06 145.98,439.06 146.43,439.05 146.88,439.04 147.32,439.04 147.77,439.03 148.22,439.02 148.67,439.02 149.12,439.01 149.57,439.00 150.01,439.00 150.46,438.99 150.91,438.98 151.36,438.97 151.81,438.96 152.25,438.95 152.70,438.94 153.15,438.93 153.60,438.92 154.05,438.90 154.50,438.89 154.94,438.87 155.39,438.86 155.84,438.84 156.29,438.82 156.74,438.80 157.18,438.78 157.63,438.75 158.08,438.73 158.53,438.70 158.98,438.67 159.43,438.64 159.87,438.61 160.32,438.57 160.77,438.54 161.22,438.49 161.67,438.45 162.11,438.40 162.56,438.35 163.01,438.30 163.46,438.24 163.91,438.17 164.35,438.11 164.80,438.04 165.25,437.96 165.70,437.88 166.15,437.79 166.60,437.70 167.04,437.61 167.49,437.51 167.94,437.41 168.39,437.30 168.84,437.18 169.28,437.07 169.73,436.94 170.18,436.82 170.63,436.69 171.08,436.56 171.53,436.42 171.97,436.28 172.42,436.15 172.87,436.01 173.32,435.87 173.77,435.73 174.21,435.59 174.66,435.45 175.11,435.32 175.56,435.19 176.01,435.06 176.46,434.95 176.90,434.83 177.35,434.73 177.80,434.64 178.25,434.55 178.70,434.48 179.14,434.42 179.59,434.37 180.04,434.33 180.49,434.30 180.94,434.29 181.39,434.29 181.83,434.30 182.28,434.32 182.73,434.36 183.18,434.40 183.63,434.45 184.07,434.50 184.52,434.57 184.97,434.64 185.42,434.71 185.87,434.79 186.31,434.87 186.76,434.95 187.21,435.03 187.66,435.11 188.11,435.19 188.56,435.27 189.00,435.34 189.45,435.42 189.90,435.49 190.35,435.56 190.80,435.62 191.24,435.68 191.69,435.74 192.14,435.79 192.59,435.83 193.04,435.87 193.49,435.91 193.93,435.94 194.38,435.97 194.83,435.99 195.28,436.00 195.73,436.00 196.17,435.98 196.62,435.94 197.07,435.90 197.52,435.84 197.97,435.77 198.42,435.68 198.86,435.59 199.31,435.49 199.76,435.38 200.21,435.27 200.66,435.15 201.10,435.02 201.55,434.89 202.00,434.76 202.45,434.63 202.90,434.49 203.35,434.36 203.79,434.22 204.24,434.09 204.69,433.96 205.14,433.83 205.59,433.71 206.03,433.59 206.48,433.47 206.93,433.36 207.38,433.26 207.83,433.17 208.28,433.08 208.72,432.99 209.17,432.92 209.62,432.85 210.07,432.79 210.52,432.72 210.96,432.64 211.41,432.56 211.86,432.46 212.31,432.34 212.76,432.21 213.20,432.06 213.65,431.89 214.10,431.70 214.55,431.48 215.00,431.24 215.45,430.97 215.89,430.66 216.34,430.32 216.79,429.95 217.24,429.55 217.69,429.10 218.13,428.63 218.58,428.11 219.03,427.56 219.48,426.98 219.93,426.36 220.38,425.72 220.82,425.06 221.27,424.37 221.72,423.67 222.17,422.97 222.62,422.27 223.06,421.57 223.51,420.90 223.96,420.26 224.41,419.66 224.86,419.11 225.31,418.62 225.75,418.21 226.20,417.89 226.65,417.66 227.10,417.53 227.55,417.50 227.99,417.58 228.44,417.76 228.89,418.05 229.34,418.42 229.79,418.87 230.24,419.40 230.68,419.98 231.13,420.61 231.58,421.27 232.03,421.96 232.48,422.67 232.92,423.38 233.37,424.08 233.82,424.77 234.27,425.45 234.72,426.10 235.17,426.72 235.61,427.31 236.06,427.86 236.51,428.37 236.96,428.83 237.41,429.26 237.85,429.64 238.30,429.97 238.75,430.26 239.20,430.50 239.65,430.71 240.10,430.87 240.54,430.99 240.99,431.07 241.44,431.11 241.89,431.13 242.34,431.11 242.78,431.06 243.23,430.99 243.68,430.90 244.13,430.79 244.58,430.67 245.02,430.53 245.47,430.39 245.92,430.25 246.37,430.12 246.82,429.99 247.27,429.88 247.71,429.78 248.16,429.71 248.61,429.66 249.06,429.64 249.51,429.65 249.95,429.70 250.40,429.77 250.85,429.88 251.30,430.02 251.75,430.18 252.20,430.36 252.64,430.56 253.09,430.77 253.54,430.98 253.99,431.21 254.44,431.43 254.88,431.66 255.33,431.88 255.78,432.09 256.23,432.30 256.68,432.50 257.13,432.69 257.57,432.86 258.02,433.03 258.47,433.18 258.92,433.32 259.37,433.44 259.81,433.56 260.26,433.66 260.71,433.75 261.16,433.83 261.61,433.90 262.06,433.97 262.50,434.02 262.95,434.07 263.40,434.11 263.85,434.15 264.30,434.18 264.74,434.20 265.19,434.22 265.64,434.24 266.09,434.25 266.54,434.27 266.99,434.27 267.43,434.28 267.88,434.28 268.33,434.29 268.78,434.29 269.23,434.29 269.67,434.28 270.12,434.28 270.57,434.27 271.02,434.26 271.47,434.25 271.91,434.24 272.36,434.23 272.81,434.21 273.26,434.20 273.71,434.18 274.16,434.16 274.60,434.13 275.05,434.11 275.50,434.08 275.95,434.05 276.40,434.01 276.84,433.97 277.29,433.93 277.74,433.88 278.19,433.82 278.64,433.76 279.09,433.68 279.53,433.60 279.98,433.51 280.43,433.40 280.88,433.28 281.33,433.13 281.77,432.97 282.22,432.79 282.67,432.58 283.12,432.34 283.57,432.07 284.02,431.76 284.46,431.42 284.91,431.03 285.36,430.59 285.81,430.11 286.26,429.57 286.70,428.97 287.15,428.32 287.60,427.61 288.05,426.84 288.50,426.01 288.95,425.12 289.39,424.17 289.84,423.16 290.29,422.11 290.74,421.02 291.19,419.88 291.63,418.72 292.08,417.54 292.53,416.36 292.98,415.18 293.43,414.02 293.88,412.91 294.32,411.85 294.77,410.86 295.22,409.97 295.67,409.18 296.12,408.53 296.56,408.03 297.01,407.68 297.46,407.51 297.91,407.50 298.36,407.67 298.80,408.01 299.25,408.51 299.70,409.14 300.15,409.91 300.60,410.78 301.05,411.74 301.49,412.77 301.94,413.85 302.39,414.97 302.84,416.10 303.29,417.24 303.73,418.37 304.18,419.48 304.63,420.55 305.08,421.59 305.53,422.58 305.98,423.52 306.42,424.40 306.87,425.22 307.32,425.97 307.77,426.67 308.22,427.30 308.66,427.87 309.11,428.37 309.56,428.82 310.01,429.21 310.46,429.55 310.91,429.83 311.35,430.07 311.80,430.27 312.25,430.42 312.70,430.53 313.15,430.61 313.59,430.65 314.04,430.67 314.49,430.65 314.94,430.61 315.39,430.54 315.84,430.45 316.28,430.34 316.73,430.20 317.18,430.05 317.63,429.87 318.08,429.67 318.52,429.45 318.97,429.20 319.42,428.92 319.87,428.62 320.32,428.29 320.76,427.93 321.21,427.55 321.66,427.14 322.11,426.70 322.56,426.24 323.01,425.75 323.45,425.23 323.90,424.68 324.35,424.11 324.80,423.50 325.25,422.86 325.69,422.20 326.14,421.50 326.59,420.76 327.04,419.99 327.49,419.18 327.94,418.32 328.38,417.42 328.83,416.47 329.28,415.46 329.73,414.38 330.18,413.23 330.62,412.01 331.07,410.69 331.52,409.28 331.97,407.75 332.42,406.10 332.87,404.32 333.31,402.39 333.76,400.30 334.21,398.04 334.66,395.60 335.11,392.98 335.55,390.16 336.00,387.15 336.45,383.95 336.90,380.56 337.35,377.01 337.80,373.30 338.24,369.45 338.69,365.51 339.14,361.50 339.59,357.47 340.04,353.45 340.48,349.50 340.93,345.66 341.38,342.00 341.83,338.57 342.28,335.42 342.73,332.60 343.17,330.15 343.62,328.13 344.07,326.56 344.52,325.46 344.97,324.86 345.41,324.83 345.86,325.57 346.31,327.07 346.76,329.29 347.21,332.16 347.66,335.63 348.10,339.59 348.55,343.98 349.00,348.68 349.45,353.60 349.90,358.64 350.34,363.73 350.79,368.76 351.24,373.68 351.69,378.41 352.14,382.91 352.58,387.13 353.03,391.05 353.48,394.64 353.93,397.91 354.38,400.84 354.83,403.46 355.27,405.76 355.72,407.78 356.17,409.52 356.62,411.02 357.07,412.29 357.51,413.37 357.96,414.27 358.41,415.02 358.86,415.64 359.31,416.15 359.76,416.56 360.20,416.90 360.65,417.16 361.10,417.38 361.55,417.55 362.00,417.69 362.44,417.80 362.89,417.88 363.34,417.96 363.79,418.02 364.24,418.07 364.69,418.12 365.13,418.16 365.58,418.19 366.03,418.22 366.48,418.25 366.93,418.28 367.37,418.31 367.82,418.34 368.27,418.37 368.72,418.40 369.17,418.44 369.62,418.47 370.06,418.51 370.51,418.55 370.96,418.59 371.41,418.63 371.86,418.68 372.30,418.73 372.75,418.78 373.20,418.83 373.65,418.88 374.10,418.94 374.55,419.00 374.99,419.06 375.44,419.12 375.89,419.18 376.34,419.25 376.79,419.31 377.23,419.38 377.68,419.45 378.13,419.52 378.58,419.60 379.03,419.68 379.47,419.80 379.92,419.97 380.37,420.19 380.82,420.46 381.27,420.76 381.72,421.10 382.16,421.47 382.61,421.87 383.06,422.29 383.51,422.73 383.96,423.19 384.40,423.66 384.85,424.14 385.30,424.62 385.75,425.10 386.20,425.58 386.65,426.05 387.09,426.51 387.54,426.96 387.99,427.39 388.44,427.79 388.89,428.16 389.33,428.51 389.78,428.82 390.23,429.09 390.68,429.32 391.13,429.50 391.58,429.63 392.02,429.70 392.47,429.74 392.92,429.77 393.37,429.80 393.82,429.82 394.26,429.83 394.71,429.83 395.16,429.82 395.61,429.80 396.06,429.76 396.51,429.71 396.95,429.64 397.40,429.56 397.85,429.45 398.30,429.31 398.75,429.15 399.19,428.97 399.64,428.75 400.09,428.50 400.54,428.21 400.99,427.89 401.44,427.53 401.88,427.12 402.33,426.68 402.78,426.19 403.23,425.65 403.68,425.08 404.12,424.45 404.57,423.79 405.02,423.08 405.47,422.34 405.92,421.55 406.36,420.74 406.81,419.90 407.26,419.05 407.71,418.17 408.16,417.29 408.61,416.42 409.05,415.56 409.50,414.72 409.95,413.91 410.40,413.15 410.85,412.45 411.29,411.81 411.74,411.27 412.19,410.81 412.64,410.47 413.09,410.23 413.54,410.12 413.98,410.13 414.43,410.26 414.88,410.51 415.33,410.88 415.78,411.36 416.22,411.93 416.67,412.59 417.12,413.32 417.57,414.11 418.02,414.95 418.47,415.82 418.91,416.72 419.36,417.64 419.81,418.56 420.26,419.47 420.71,420.37 421.15,421.25 421.60,422.11 422.05,422.93 422.50,423.72 422.95,424.47 423.40,425.18 423.84,425.84 424.29,426.46 424.74,427.04 425.19,427.57 425.64,428.05 426.08,428.49 426.53,428.89 426.98,429.25 427.43,429.57 427.88,429.85 428.32,430.09 428.77,430.30 429.22,430.49 429.67,430.64 430.12,430.77 430.57,430.87 431.01,430.95 431.46,431.01 431.91,431.05 432.36,431.08 432.81,431.08 433.25,431.08 433.70,431.06 434.15,431.02 434.60,430.97 435.05,430.91 435.50,430.84 435.94,430.75 436.39,430.65 436.84,430.54 437.29,430.40 437.74,430.25 438.18,430.09 438.63,429.89 439.08,429.67 439.53,429.43 439.98,429.15 440.43,428.82 440.87,428.46 441.32,428.04 441.77,427.57 442.22,427.02 442.67,426.40 443.11,425.70 443.56,424.89 444.01,423.98 444.46,422.94 444.91,421.76 445.36,420.44 445.80,418.95 446.25,417.28 446.70,415.43 447.15,413.36 447.60,411.09 448.04,408.58 448.49,405.83 448.94,402.85 449.39,399.61 449.84,396.13 450.29,392.40 450.73,388.43 451.18,384.24 451.63,379.83 452.08,375.23 452.53,370.47 452.97,365.57 453.42,360.58 453.87,355.53 454.32,350.48 454.77,345.48 455.21,340.59 455.66,335.87 456.11,331.40 456.56,327.25 457.01,323.49 457.46,320.20 457.90,317.44 458.35,315.29 458.80,313.80 459.25,313.00 459.70,312.91 460.14,313.54 460.59,314.87 461.04,316.87 461.49,319.48 461.94,322.64 462.39,326.29 462.83,330.34 463.28,334.73 463.73,339.37 464.18,344.21 464.63,349.17 465.07,354.19 465.52,359.21 465.97,364.19 466.42,369.09 466.87,373.85 467.32,378.46 467.76,382.88 468.21,387.10 468.66,391.09 469.11,394.84 469.56,398.35 470.00,401.61 470.45,404.62 470.90,407.39 471.35,409.92 471.80,412.22 472.25,414.30 472.69,416.18 473.14,417.86 473.59,419.36 474.04,420.69 474.49,421.87 474.93,422.92 475.38,423.83 475.83,424.64 476.28,425.34 476.73,425.95 477.18,426.49 477.62,426.95 478.07,427.35 478.52,427.69 478.97,427.99 479.42,428.24 479.86,428.46 480.31,428.64 480.76,428.78 481.21,428.90 481.66,429.00 482.11,429.07 482.55,429.12 483.00,429.14 483.45,429.14 483.90,429.10 484.35,429.04 484.79,428.95 485.24,428.82 485.69,428.66 486.14,428.46 486.59,428.21 487.03,427.92 487.48,427.58 487.93,427.20 488.38,426.77 488.83,426.29 489.28,425.76 489.72,425.18 490.17,424.56 490.62,423.90 491.07,423.21 491.52,422.48 491.96,421.73 492.41,420.96 492.86,420.20 493.31,419.44 493.76,418.69 494.21,417.99 494.65,417.33 495.10,416.74 495.55,416.23 496.00,415.81 496.45,415.51 496.89,415.33 497.34,415.29 497.79,415.38 498.24,415.62 498.69,415.99 499.14,416.50 499.58,417.12 500.03,417.85 500.48,418.67 500.93,419.56 501.38,420.51 501.82,421.50 502.27,422.51 502.72,423.54 503.17,424.57 503.62,425.59 504.07,426.59 504.51,427.56 504.96,428.50 505.41,429.39 505.86,430.24 506.31,431.04 506.75,431.79 507.20,432.48 507.65,433.13 508.10,433.72 508.55,434.26 509.00,434.76 509.44,435.20 509.89,435.61 510.34,435.97 510.79,436.29 511.24,436.58 511.68,436.83 512.13,437.06 512.58,437.25 513.03,437.43 513.48,437.58 513.92,437.71 514.37,437.83 514.82,437.94 515.27,438.03 515.72,438.12 516.17,438.20 516.61,438.28 517.06,438.35 517.51,438.41 517.96,438.47 518.41,438.53 518.85,438.58 519.30,438.63 519.75,438.68 520.20,438.72 520.65,438.77 521.10,438.81 521.54,438.85 521.99,438.89 522.44,438.93 522.89,438.96 523.34,439.00 523.78,439.03 524.23,439.06 524.68,439.09 525.13,439.13 525.58,439.16 526.03,439.19 526.47,439.21 526.92,439.24 527.37,439.27 527.82,439.30 528.27,439.32 528.71,439.35 529.16,439.37 529.61,439.40 530.06,439.42 530.51,439.44 530.96,439.47 531.40,439.49 531.85,439.51 532.30,439.53 532.75,439.55 533.20,439.57 533.64,439.59 534.09,439.61 534.54,439.63 534.99,439.65 535.44,439.67 535.88,439.69 536.33,439.71 536.78,439.73 537.23,439.75 537.68,439.77 538.13,439.79 538.57,439.81 539.02,439.82 539.47,439.84 539.92,439.86 540.37,439.88 540.81,439.90 541.26,439.91 541.71,439.93 542.16,439.95 542.61,439.96 543.06,439.98 543.50,440.00 543.95,440.01 544.40,440.03 544.85,440.04 545.30,440.06 545.74,440.08 546.19,440.09 546.64,440.11 547.09,440.12 547.54,440.14 547.99,440.15 548.43,440.17 548.88,440.18 549.33,440.19 549.78,440.21 550.23,440.22 550.67,440.24 551.12,440.25 551.57,440.26 552.02,440.28 552.47,440.29 552.92,440.30 553.36,440.32 553.81,440.33 554.26,440.34 554.71,440.36 555.16,440.37 555.60,440.38 556.05,440.39 556.50,440.41 556.95,440.42 557.40,440.43 557.85,440.44 558.29,440.46 558.74,440.47 559.19,440.48 559.64,440.49 560.09,440.50 560.53,440.51 560.98,440.53 561.43,440.54 561.88,440.55 562.33,440.56 562.77,440.57 563.22,440.58 563.67,440.59 564.12,440.60 564.57,440.61 565.02,440.62 565.46,440.63 565.91,440.64 566.36,440.65 566.81,440.66 567.26,440.67 567.70,440.68 568.15,440.69 568.60,440.70 569.05,440.71 569.50,440.72 569.95,440.73 570.39,440.74 570.84,440.75 571.29,440.76 571.74,440.77 572.19,440.78 572.63,440.79 573.08,440.80 573.53,440.80 573.98,440.81 574.43,440.82 574.88,440.83 575.32,440.84 575.77,440.85 576.22,440.85 576.67,440.86 577.12,440.87 577.56,440.88 578.01,440.89 578.46,440.90 578.91,440.90 579.36,440.91 579.81,440.92 580.25,440.93 580.70,440.94 581.15,440.94 581.60,440.95 582.05,440.96 582.49,440.97 582.94,440.97 583.39,440.98 583.84,440.99 584.29,441.00 584.74,441.01 585.18,441.01 585.63,441.02 586.08,441.03 586.53,441.04 586.98,441.04 587.42,441.05 587.87,441.06 588.32,441.07 588.77,441.07 589.22,441.08 589.67,441.09 590.11,441.09 590.56,441.10 591.01,441.11 591.46,441.12 591.91,441.12 592.35,441.13 592.80,441.14 593.25,441.14 593.70,441.15 594.15,441.16 594.59,441.16 595.04,441.17 595.49,441.18 595.94,441.18 596.39,441.19 596.84,441.20 597.28,441.20 597.73,441.21 598.18,441.22 598.63,441.22 599.08,441.23 599.52,441.24 599.97,441.24 600.42,441.25 600.87,441.26 601.32,441.26 601.77,441.27 602.21,441.27 602.66,441.28 603.11,441.29 603.56,441.29 604.01,441.30 604.45,441.31 604.90,441.31 605.35,441.32 605.80,441.32 606.25,441.33 606.70,441.33 607.14,441.34 607.59,441.35 608.04,441.35 608.49,441.36 608.94,441.36 609.38,441.37 609.83,441.37 610.28,441.38 610.73,441.38 611.18,441.39 611.63,441.40 612.07,441.40 612.52,441.41 612.97,441.41 613.42,441.42 613.87,441.42 614.31,441.43 614.76,441.43 615.21,441.44 615.66,441.44 616.11,441.45 616.56,441.45 617.00,441.46 617.45,441.46 617.90,441.46 618.35,441.47 618.80,441.47 619.24,441.48 619.69,441.48 620.14,441.49 620.59,441.49 621.04,441.50 621.48,441.50 621.93,441.50 622.38,441.51 622.83,441.51 623.28,441.52 623.73,441.52 624.17,441.52 624.62,441.53 625.07,441.53 625.52,441.54 625.97,441.54 626.41,441.54 626.86,441.55 627.31,441.55 627.76,441.55 628.21,441.56 628.66,441.56 629.10,441.56 629.55,441.57 630.00,441.57"/>
<polyline fill="none" stroke="#f5a266" stroke-width="1.1" stroke-linejoin="round" points="92.20,438.47 92.65,438.44 93.10,438.41 93.54,438.39 93.99,438.36 94.44,438.33 94.89,438.30 95.34,438.27 95.79,438.24 96.23,438.21 96.68,438.18 97.13,438.15 97.58,438.12 98.03,438.09 98.47,438.06 98.92,438.02 99.37,437.99 99.82,437.95 100.27,437.92 100.72,437.88 101.16,437.83 101.61,437.79 102.06,437.74 102.51,437.69 102.96,437.64 103.40,437.58 103.85,437.52 104.30,437.46 104.75,437.39 105.20,437.32 105.65,437.25 106.09,437.17 106.54,437.09 106.99,437.01 107.44,436.92 107.89,436.84 108.33,436.75 108.78,436.66 109.23,436.57 109.68,436.48 110.13,436.40 110.57,436.32 111.02,436.25 111.47,436.18 111.92,436.12 112.37,436.07 112.82,436.03 113.26,436.00 113.71,435.98 114.16,435.98 114.61,435.98 115.06,435.99 115.50,436.02 115.95,436.05 116.40,436.09 116.85,436.13 117.30,436.17 117.75,436.22 118.19,436.27 118.64,436.32 119.09,436.37 119.54,436.42 119.99,436.47 120.43,436.52 120.88,436.56 121.33,436.60 121.78,436.63 122.23,436.66 122.68,436.69 123.12,436.72 123.57,436.74 124.02,436.76 124.47,436.77 124.92,436.78 125.36,436.79 125.81,436.80 126.26,436.80 126.71,436.80 127.16,436.80 127.61,436.80 128.05,436.80 128.50,436.80 128.95,436.79 129.40,436.79 129.85,436.78 130.29,436.77 130.74,436.77 131.19,436.76 131.64,436.75 132.09,436.74 132.53,436.74 132.98,436.73 133.43,436.72 133.88,436.71 134.33,436.70 134.78,436.70 135.22,436.69 135.67,436.68 136.12,436.68 136.57,436.67 137.02,436.66 137.46,436.65 137.91,436.65 138.36,436.64 138.81,436.64 139.26,436.63 139.71,436.62 140.15,436.62 140.60,436.61 141.05,436.61 141.50,436.60 141.95,436.60 142.39,436.59 142.84,436.59 143.29,436.58 143.74,436.58 144.19,436.57 144.64,436.57 145.08,436.56 145.53,436.55 145.98,436.55 146.43,436.54 146.88,436.54 147.32,436.53 147.77,436.53 148.22,436.52 148.67,436.52 149.12,436.51 149.57,436.50 150.01,436.50 150.46,436.49 150.91,436.48 151.36,436.47 151.81,436.47 152.25,436.46 152.70,436.45 153.15,436.44 153.60,436.43 154.05,436.42 154.50,436.41 154.94,436.40 155.39,436.39 155.84,436.38 156.29,436.37 156.74,436.35 157.18,436.34 157.63,436.32 158.08,436.30 158.53,436.28 158.98,436.26 159.43,436.23 159.87,436.19 160.32,436.15 160.77,436.11 161.22,436.06 161.67,436.01 162.11,435.95 162.56,435.89 163.01,435.82 163.46,435.75 163.91,435.67 164.35,435.58 164.80,435.49 165.25,435.39 165.70,435.28 166.15,435.16 166.60,435.04 167.04,434.91 167.49,434.76 167.94,434.61 168.39,434.45 168.84,434.28 169.28,434.10 169.73,433.90 170.18,433.70 170.63,433.48 171.08,433.25 171.53,433.01 171.97,432.75 172.42,432.48 172.87,432.20 173.32,431.91 173.77,431.61 174.21,431.29 174.66,430.97 175.11,430.63 175.56,430.28 176.01,429.93 176.46,429.56 176.90,429.19 177.35,428.82 177.80,428.44 178.25,428.06 178.70,427.67 179.14,427.29 179.59,426.92 180.04,426.55 180.49,426.19 180.94,425.83 181.39,425.50 181.83,425.17 182.28,424.87 182.73,424.59 183.18,424.33 183.63,424.10 184.07,423.90 184.52,423.72 184.97,423.58 185.42,423.47 185.87,423.40 186.31,423.35 186.76,423.34 187.21,423.36 187.66,423.41 188.11,423.48 188.56,423.59 189.00,423.71 189.45,423.86 189.90,424.02 190.35,424.20 190.80,424.39 191.24,424.59 191.69,424.80 192.14,425.01 192.59,425.23 193.04,425.46 193.49,425.68 193.93,425.90 194.38,426.11 194.83,426.33 195.28,426.53 195.73,426.74 196.17,426.93 196.62,427.11 197.07,427.29 197.52,427.46 197.97,427.62 198.42,427.77 198.86,427.91 199.31,428.04 199.76,428.15 200.21,428.27 200.66,428.37 201.10,428.46 201.55,428.54 202.00,428.62 202.45,428.68 202.90,428.74 203.35,428.79 203.79,428.84 204.24,428.88 204.69,428.92 205.14,428.94 205.59,428.97 206.03,428.99 206.48,429.01 206.93,429.02 207.38,429.03 207.83,429.04 208.28,429.04 208.72,429.03 209.17,429.02 209.62,429.00 210.07,428.98 210.52,428.95 210.96,428.91 211.41,428.87 211.86,428.82 212.31,428.76 212.76,428.68 213.20,428.60 213.65,428.50 214.10,428.39 214.55,428.26 215.00,428.11 215.45,427.94 215.89,427.75 216.34,427.53 216.79,427.28 217.24,427.00 217.69,426.68 218.13,426.33 218.58,425.93 219.03,425.49 219.48,425.00 219.93,424.46 220.38,423.86 220.82,423.21 221.27,422.51 221.72,421.74 222.17,420.91 222.62,420.03 223.06,419.09 223.51,418.08 223.96,417.03 224.41,415.93 224.86,414.78 225.31,413.59 225.75,412.37 226.20,411.13 226.65,409.87 227.10,408.61 227.55,407.37 227.99,406.14 228.44,404.96 228.89,403.82 229.34,402.76 229.79,401.79 230.24,400.92 230.68,400.18 231.13,399.57 231.58,399.11 232.03,398.81 232.48,398.67 232.92,398.71 233.37,398.91 233.82,399.28 234.27,399.79 234.72,400.45 235.17,401.23 235.61,402.12 236.06,403.09 236.51,404.14 236.96,405.23 237.41,406.37 237.85,407.52 238.30,408.67 238.75,409.81 239.20,410.93 239.65,412.01 240.10,413.05 240.54,414.03 240.99,414.94 241.44,415.78 241.89,416.55 242.34,417.24 242.78,417.84 243.23,418.37 243.68,418.80 244.13,419.16 244.58,419.43 245.02,419.63 245.47,419.75 245.92,419.81 246.37,419.80 246.82,419.74 247.27,419.64 247.71,419.49 248.16,419.32 248.61,419.13 249.06,418.93 249.51,418.73 249.95,418.55 250.40,418.39 250.85,418.26 251.30,418.18 251.75,418.15 252.20,418.17 252.64,418.25 253.09,418.40 253.54,418.60 253.99,418.87 254.44,419.19 254.88,419.56 255.33,419.97 255.78,420.41 256.23,420.89 256.68,421.38 257.13,421.88 257.57,422.40 258.02,422.91 258.47,423.42 258.92,423.92 259.37,424.40 259.81,424.87 260.26,425.32 260.71,425.75 261.16,426.15 261.61,426.53 262.06,426.88 262.50,427.21 262.95,427.51 263.40,427.78 263.85,428.03 264.30,428.26 264.74,428.46 265.19,428.64 265.64,428.80 266.09,428.94 266.54,429.06 266.99,429.17 267.43,429.26 267.88,429.34 268.33,429.41 268.78,429.47 269.23,429.52 269.67,429.56 270.12,429.59 270.57,429.61 271.02,429.63 271.47,429.64 271.91,429.65 272.36,429.65 272.81,429.65 273.26,429.64 273.71,429.63 274.16,429.61 274.60,429.58 275.05,429.56 275.50,429.52 275.95,429.48 276.40,429.43 276.84,429.37 277.29,429.30 277.74,429.21 278.19,429.12 278.64,429.01 279.09,428.88 279.53,428.74 279.98,428.57 280.43,428.37 280.88,428.15 281.33,427.89 281.77,427.60 282.22,427.26 282.67,426.88 283.12,426.45 283.57,425.96 284.02,425.42 284.46,424.81 284.91,424.13 285.36,423.39 285.81,422.57 286.26,421.67 286.70,420.70 287.15,419.65 287.60,418.53 288.05,417.33 288.50,416.06 288.95,414.73 289.39,413.35 289.84,411.92 290.29,410.45 290.74,408.96 291.19,407.47 291.63,405.98 292.08,404.52 292.53,403.11 292.98,401.77 293.43,400.52 293.88,399.40 294.32,398.41 294.77,397.59 295.22,396.96 295.67,396.53 296.12,396.31 296.56,396.31 297.01,396.53 297.46,396.96 297.91,397.60 298.36,398.41 298.80,399.39 299.25,400.50 299.70,401.72 300.15,403.04 300.60,404.42 301.05,405.84 301.49,407.29 301.94,408.74 302.39,410.18 302.84,411.60 303.29,412.97 303.73,414.30 304.18,415.57 304.63,416.77 305.08,417.90 305.53,418.95 305.98,419.93 306.42,420.83 306.87,421.65 307.32,422.39 307.77,423.06 308.22,423.65 308.66,424.18 309.11,424.64 309.56,425.03 310.01,425.37 310.46,425.65 310.91,425.89 311.35,426.08 311.80,426.23 312.25,426.34 312.70,426.41 313.15,426.45 313.59,426.47 314.04,426.45 314.49,426.41 314.94,426.35 315.39,426.27 315.84,426.16 316.28,426.03 316.73,425.87 317.18,425.69 317.63,425.49 318.08,425.27 318.52,425.02 318.97,424.75 319.42,424.46 319.87,424.15 320.32,423.81 320.76,423.46 321.21,423.08 321.66,422.68 322.11,422.25 322.56,421.81 323.01,421.34 323.45,420.84 323.90,420.32 324.35,419.78 324.80,419.21 325.25,418.61 325.69,417.98 326.14,417.32 326.59,416.63 327.04,415.90 327.49,415.12 327.94,414.31 328.38,413.44 328.83,412.51 329.28,411.52 329.73,410.46 330.18,409.32 330.62,408.09 331.07,406.76 331.52,405.33 331.97,403.77 332.42,402.09 332.87,400.28 333.31,398.31 333.76,396.20 334.21,393.94 334.66,391.51 335.11,388.93 335.55,386.21 336.00,383.34 336.45,380.35 336.90,377.24 337.35,374.06 337.80,370.81 338.24,367.54 338.69,364.28 339.14,361.06 339.59,357.94 340.04,354.96 340.48,352.15 340.93,349.56 341.38,347.24 341.83,345.21 342.28,343.52 342.73,342.20 343.17,341.25 343.62,340.71 344.07,340.61 344.52,341.10 344.97,342.17 345.41,343.81 345.86,345.97 346.31,348.60 346.76,351.64 347.21,355.02 347.66,358.67 348.10,362.52 348.55,366.48 349.00,370.50 349.45,374.51 349.90,378.45 350.34,382.27 350.79,385.91 351.24,389.36 351.69,392.58 352.14,395.56 352.58,398.28 353.03,400.74 353.48,402.94 353.93,404.89 354.38,406.61 354.83,408.11 355.27,409.40 355.72,410.50 356.17,411.43 356.62,412.21 357.07,412.86 357.51,413.40 357.96,413.83 358.41,414.19 358.86,414.47 359.31,414.69 359.76,414.86 360.20,414.99 360.65,415.09 361.10,415.16 361.55,415.21 362.00,415.25 362.44,415.28 362.89,415.30 363.34,415.31 363.79,415.32 364.24,415.34 364.69,415.35 365.13,415.36 365.58,415.37 366.03,415.39 366.48,415.41 366.93,415.44 367.37,415.47 367.82,415.50 368.27,415.54 368.72,415.58 369.17,415.63 369.62,415.68 370.06,415.74 370.51,415.79 370.96,415.86 371.41,415.92 371.86,415.99 372.30,416.07 372.75,416.15 373.20,416.23 373.65,416.31 374.10,416.40 374.55,416.49 374.99,416.59 375.44,416.68 375.89,416.78 376.34,416.88 376.79,416.99 377.23,417.10 377.68,417.20 378.13,417.32 378.58,417.43 379.03,417.55 379.47,417.71 379.92,417.93 380.37,418.20 380.82,418.52 381.27,418.88 381.72,419.27 382.16,419.70 382.61,420.17 383.06,420.65 383.51,421.16 383.96,421.69 384.40,422.24 384.85,422.79 385.30,423.36 385.75,423.92 386.20,424.49 386.65,425.05 387.09,425.61 387.54,426.15 387.99,426.67 388.44,427.18 388.89,427.66 389.33,428.11 389.78,428.53 390.23,428.92 390.68,429.26 391.13,429.56 391.58,429.81 392.02,430.01 392.47,430.15 392.92,430.24 393.37,430.30 393.82,430.35 394.26,430.39 394.71,430.43 395.16,430.46 395.61,430.48 396.06,430.49 396.51,430.49 396.95,430.48 397.40,430.45 397.85,430.41 398.30,430.34 398.75,430.26 399.19,430.16 399.64,430.04 400.09,429.89 400.54,429.72 400.99,429.52 401.44,429.29 401.88,429.03 402.33,428.74 402.78,428.42 403.23,428.07 403.68,427.68 404.12,427.26 404.57,426.81 405.02,426.33 405.47,425.83 405.92,425.29 406.36,424.74 406.81,424.16 407.26,423.57 407.71,422.97 408.16,422.37 408.61,421.76 409.05,421.17 409.50,420.59 409.95,420.03 410.40,419.51 410.85,419.03 411.29,418.60 411.74,418.23 412.19,417.93 412.64,417.70 413.09,417.55 413.54,417.49 413.98,417.52 414.43,417.63 414.88,417.84 415.33,418.12 415.78,418.48 416.22,418.91 416.67,419.40 417.12,419.94 417.57,420.53 418.02,421.15 418.47,421.80 418.91,422.46 419.36,423.13 419.81,423.81 420.26,424.48 420.71,425.15 421.15,425.80 421.60,426.42 422.05,427.03 422.50,427.61 422.95,428.17 423.40,428.69 423.84,429.18 424.29,429.64 424.74,430.07 425.19,430.47 425.64,430.83 426.08,431.16 426.53,431.46 426.98,431.73 427.43,431.97 427.88,432.19 428.32,432.38 428.77,432.54 429.22,432.69 429.67,432.81 430.12,432.92 430.57,433.01 431.01,433.08 431.46,433.14 431.91,433.18 432.36,433.21 432.81,433.23 433.25,433.25 433.70,433.25 434.15,433.24 434.60,433.22 435.05,433.19 435.50,433.16 435.94,433.12 436.39,433.06 436.84,433.00 437.29,432.93 437.74,432.85 438.18,432.75 438.63,432.64 439.08,432.52 439.53,432.38 439.98,432.22 440.43,432.04 440.87,431.83 441.32,431.60 441.77,431.34 442.22,431.05 442.67,430.71 443.11,430.34 443.56,429.91 444.01,429.44 444.46,428.91 444.91,428.32 445.36,427.66 445.80,426.93 446.25,426.13 446.70,425.24 447.15,424.26 447.60,423.19 448.04,422.03 448.49,420.77 448.94,419.42 449.39,417.96 449.84,416.39 450.29,414.73 450.73,412.98 451.18,411.12 451.63,409.19 452.08,407.17 452.53,405.08 452.97,402.93 453.42,400.73 453.87,398.50 454.32,396.26 454.77,394.02 455.21,391.80 455.66,389.63 456.11,387.54 456.56,385.54 457.01,383.67 457.46,381.95 457.90,380.41 458.35,379.08 458.80,377.98 459.25,377.14 459.70,376.57 460.14,376.29 460.59,376.30 461.04,376.60 461.49,377.19 461.94,378.04 462.39,379.15 462.83,380.48 463.28,382.02 463.73,383.73 464.18,385.60 464.63,387.58 465.07,389.66 465.52,391.80 465.97,393.98 466.42,396.19 466.87,398.39 467.32,400.58 467.76,402.73 468.21,404.84 468.66,406.88 469.11,408.85 469.56,410.74 470.00,412.53 470.45,414.24 470.90,415.85 471.35,417.36 471.80,418.76 472.25,420.07 472.69,421.28 473.14,422.39 473.59,423.41 474.04,424.34 474.49,425.18 474.93,425.94 475.38,426.63 475.83,427.24 476.28,427.79 476.73,428.28 477.18,428.71 477.62,429.10 478.07,429.43 478.52,429.73 478.97,429.98 479.42,430.20 479.86,430.39 480.31,430.55 480.76,430.68 481.21,430.79 481.66,430.88 482.11,430.95 482.55,430.99 483.00,431.02 483.45,431.03 483.90,431.01 484.35,430.98 484.79,430.92 485.24,430.83 485.69,430.72 486.14,430.58 486.59,430.41 487.03,430.21 487.48,429.97 487.93,429.71 488.38,429.41 488.83,429.07 489.28,428.71 489.72,428.31 490.17,427.88 490.62,427.42 491.07,426.94 491.52,426.43 491.96,425.91 492.41,425.38 492.86,424.85 493.31,424.32 493.76,423.81 494.21,423.33 494.65,422.87 495.10,422.47 495.55,422.12 496.00,421.84 496.45,421.63 496.89,421.52 497.34,421.50 497.79,421.57 498.24,421.75 498.69,422.02 499.14,422.38 499.58,422.83 500.03,423.35 500.48,423.93 500.93,424.57 501.38,425.24 501.82,425.95 502.27,426.67 502.72,427.40 503.17,428.14 503.62,428.86 504.07,429.57 504.51,430.27 504.96,430.93 505.41,431.57 505.86,432.18 506.31,432.75 506.75,433.29 507.20,433.79 507.65,434.26 508.10,434.69 508.55,435.08 509.00,435.44 509.44,435.77 509.89,436.07 510.34,436.33 510.79,436.57 511.24,436.79 511.68,436.98 512.13,437.15 512.58,437.31 513.03,437.44 513.48,437.56 513.92,437.67 514.37,437.77 514.82,437.86 515.27,437.95 515.72,438.02 516.17,438.10 516.61,438.16 517.06,438.23 517.51,438.29 517.96,438.34 518.41,438.40 518.85,438.45 519.30,438.50 519.75,438.55 520.20,438.59 520.65,438.64 521.10,438.68 521.54,438.72 521.99,438.77 522.44,438.81 522.89,438.84 523.34,438.88 523.78,438.92 524.23,438.96 524.68,438.99 525.13,439.03 525.58,439.06 526.03,439.10 526.47,439.13 526.92,439.16 527.37,439.19 527.82,439.22 528.27,439.25 528.71,439.28 529.16,439.31 529.61,439.34 530.06,439.37 530.51,439.39 530.96,439.42 531.40,439.45 531.85,439.47 532.30,439.50 532.75,439.52 533.20,439.55 533.64,439.57 534.09,439.60 534.54,439.62 534.99,439.64 535.44,439.66 535.88,439.68 536.33,439.71 536.78,439.73 537.23,439.75 537.68,439.77 538.13,439.79 538.57,439.81 539.02,439.83 539.47,439.84 539.92,439.86 540.37,439.88 540.81,439.90 541.26,439.92 541.71,439.93 542.16,439.95 542.61,439.97 543.06,439.99 543.50,440.00 543.95,440.02 544.40,440.04 544.85,440.05 545.30,440.07 545.74,440.08 546.19,440.10 546.64,440.12 547.09,440.13 547.54,440.15 547.99,440.16 548.43,440.18 548.88,440.19 549.33,440.21 549.78,440.22 550.23,440.23 550.67,440.25 551.12,440.26 551.57,440.28 552.02,440.29 552.47,440.30 552.92,440.32 553.36,440.33 553.81,440.34 554.26,440.35 554.71,440.37 555.16,440.38 555.60,440.39 556.05,440.40 556.50,440.42 556.95,440.43 557.40,440.44 557.85,440.45 558.29,440.46 558.74,440.48 559.19,440.49 559.64,440.50 560.09,440.51 560.53,440.52 560.98,440.53 561.43,440.54 561.88,440.55 562.33,440.57 562.77,440.58 563.22,440.59 563.67,440.60 564.12,440.61 564.57,440.62 565.02,440.63 565.46,440.64 565.91,440.65 566.36,440.66 566.81,440.67 567.26,440.68 567.70,440.69 568.15,440.70 568.60,440.71 569.05,440.71 569.50,440.72 569.95,440.73 570.39,440.74 570.84,440.75 571.29,440.76 571.74,440.77 572.19,440.78 572.63,440.79 573.08,440.80 573.53,440.80 573.98,440.81 574.43,440.82 574.88,440.83 575.32,440.84 575.77,440.85 576.22,440.85 576.67,440.86 577.12,440.87 577.56,440.88 578.01,440.89 578.46,440.90 578.91,440.90 579.36,440.91 579.81,440.92 580.25,440.93 580.70,440.94 581.15,440.94 581.60,440.95 582.05,440.96 582.49,440.97 582.94,440.98 583.39,440.98 583.84,440.99 584.29,441.00 584.74,441.01 585.18,441.01 585.63,441.02 586.08,441.03 586.53,441.04 586.98,441.04 587.42,441.05 587.87,441.06 588.32,441.07 588.77,441.07 589.22,441.08 589.67,441.09 590.11,441.10 590.56,441.10 591.01,441.11 591.46,441.12 591.91,441.13 592.35,441.13 592.80,441.14 593.25,441.15 593.70,441.15 594.15,441.16 594.59,441.17 595.04,441.18 595.49,441.18 595.94,441.19 596.39,441.20 596.84,441.20 597.28,441.21 597.73,441.22 598.18,441.22 598.63,441.23 599.08,441.24 599.52,441.24 599.97,441.25 600.42,441.26 600.87,441.26 601.32,441.27 601.77,441.27 602.21,441.28 602.66,441.29 603.11,441.29 603.56,441.30 604.01,441.31 604.45,441.31 604.90,441.32 605.35,441.32 605.80,441.33 606.25,441.34 606.70,441.34 607.14,441.35 607.59,441.35 608.04,441.36 608.49,441.36 608.94,441.37 609.38,441.38 609.83,441.38 610.28,441.39 610.73,441.39 611.18,441.40 611.63,441.40 612.07,441.41 612.52,441.41 612.97,441.42 613.42,441.42 613.87,441.43 614.31,441.43 614.76,441.44 615.21,441.44 615.66,441.45 616.11,441.45 616.56,441.46 617.00,441.46 617.45,441.47 617.90,441.47 618.35,441.48 618.80,441.48 619.24,441.48 619.69,441.49 620.14,441.49 620.59,441.50 621.04,441.50 621.48,441.50 621.93,441.51 622.38,441.51 622.83,441.52 623.28,441.52 623.73,441.52 624.17,441.53 624.62,441.53 625.07,441.54 625.52,441.54 625.97,441.54 626.41,441.55 626.86,441.55 627.31,441.55 627.76,441.56 628.21,441.56 628.66,441.56 629.10,441.56 629.55,441.57 630.00,441.57"/>
<polyline fill="none" stroke="#a34747" stroke-width="1.1" stroke-linejoin="round" points="92.20,437.90 92.65,437.86 93.10,437.83 93.54,437.79 93.99,437.75 94.44,437.71 94.89,437.67 95.34,437.63 95.79,437.59 96.23,437.55 96.68,437.51 97.13,437.46 97.58,437.42 98.03,437.37 98.47,437.32 98.92,437.26 99.37,437.21 99.82,437.15 100.27,437.08 100.72,437.01 101.16,436.94 101.61,436.86 102.06,436.77 102.51,436.68 102.96,436.58 103.40,436.47 103.85,436.36 104.30,436.23 104.75,436.10 105.20,435.96 105.65,435.81 106.09,435.65 106.54,435.48 106.99,435.31 107.44,435.13 107.89,434.95 108.33,434.77 108.78,434.58 109.23,434.40 109.68,434.22 110.13,434.04 110.57,433.87 111.02,433.71 111.47,433.57 111.92,433.45 112.37,433.34 112.82,433.26 113.26,433.20 113.71,433.16 114.16,433.15 114.61,433.16 115.06,433.19 115.50,433.24 115.95,433.31 116.40,433.39 116.85,433.48 117.30,433.58 117.75,433.69 118.19,433.80 118.64,433.91 119.09,434.01 119.54,434.12 119.99,434.21 120.43,434.31 120.88,434.39 121.33,434.47 121.78,434.54 122.23,434.61 122.68,434.66 123.12,434.71 123.57,434.74 124.02,434.77 124.47,434.78 124.92,434.79 125.36,434.79 125.81,434.78 126.26,434.77 126.71,434.75 127.16,434.72 127.61,434.69 128.05,434.65 128.50,434.61 128.95,434.57 129.40,434.52 129.85,434.48 130.29,434.43 130.74,434.38 131.19,434.33 131.64,434.27 132.09,434.22 132.53,434.17 132.98,434.12 133.43,434.07 133.88,434.02 134.33,433.97 134.78,433.92 135.22,433.88 135.67,433.83 136.12,433.79 136.57,433.75 137.02,433.71 137.46,433.67 137.91,433.64 138.36,433.60 138.81,433.58 139.26,433.55 139.71,433.53 140.15,433.51 140.60,433.49 141.05,433.48 141.50,433.47 141.95,433.47 142.39,433.47 142.84,433.47 143.29,433.49 143.74,433.51 144.19,433.53 144.64,433.56 145.08,433.59 145.53,433.63 145.98,433.67 146.43,433.71 146.88,433.76 147.32,433.81 147.77,433.85 148.22,433.90 148.67,433.95 149.12,434.00 149.57,434.04 150.01,434.09 150.46,434.13 150.91,434.17 151.36,434.21 151.81,434.24 152.25,434.27 152.70,434.29 153.15,434.31 153.60,434.32 154.05,434.33 154.50,434.33 154.94,434.32 155.39,434.31 155.84,434.29 156.29,434.27 156.74,434.24 157.18,434.21 157.63,434.18 158.08,434.14 158.53,434.10 158.98,434.05 159.43,434.00 159.87,433.94 160.32,433.88 160.77,433.81 161.22,433.74 161.67,433.66 162.11,433.57 162.56,433.48 163.01,433.39 163.46,433.28 163.91,433.17 164.35,433.05 164.80,432.93 165.25,432.79 165.70,432.65 166.15,432.49 166.60,432.33 167.04,432.15 167.49,431.97 167.94,431.77 168.39,431.56 168.84,431.34 169.28,431.10 169.73,430.85 170.18,430.59 170.63,430.31 171.08,430.01 171.53,429.70 171.97,429.38 172.42,429.04 172.87,428.69 173.32,428.32 173.77,427.93 174.21,427.53 174.66,427.12 175.11,426.69 175.56,426.25 176.01,425.81 176.46,425.35 176.90,424.88 177.35,424.41 177.80,423.93 178.25,423.45 178.70,422.97 179.14,422.50 179.59,422.03 180.04,421.56 180.49,421.11 180.94,420.67 181.39,420.25 181.83,419.85 182.28,419.47 182.73,419.12 183.18,418.80 183.63,418.52 184.07,418.27 184.52,418.06 184.97,417.89 185.42,417.76 185.87,417.67 186.31,417.62 186.76,417.62 187.21,417.65 187.66,417.72 188.11,417.83 188.56,417.97 189.00,418.13 189.45,418.33 189.90,418.55 190.35,418.78 190.80,419.04 191.24,419.30 191.69,419.58 192.14,419.87 192.59,420.16 193.04,420.45 193.49,420.75 193.93,421.04 194.38,421.33 194.83,421.61 195.28,421.89 195.73,422.16 196.17,422.42 196.62,422.67 197.07,422.91 197.52,423.14 197.97,423.36 198.42,423.56 198.86,423.76 199.31,423.94 199.76,424.11 200.21,424.27 200.66,424.41 201.10,424.55 201.55,424.68 202.00,424.79 202.45,424.90 202.90,424.99 203.35,425.08 203.79,425.16 204.24,425.23 204.69,425.30 205.14,425.36 205.59,425.42 206.03,425.46 206.48,425.50 206.93,425.53 207.38,425.56 207.83,425.57 208.28,425.59 208.72,425.59 209.17,425.59 209.62,425.58 210.07,425.57 210.52,425.55 210.96,425.52 211.41,425.48 211.86,425.44 212.31,425.38 212.76,425.31 213.20,425.24 213.65,425.14 214.10,425.04 214.55,424.91 215.00,424.77 215.45,424.60 215.89,424.41 216.34,424.19 216.79,423.94 217.24,423.65 217.69,423.33 218.13,422.97 218.58,422.57 219.03,422.12 219.48,421.61 219.93,421.06 220.38,420.45 220.82,419.78 221.27,419.05 221.72,418.26 222.17,417.40 222.62,416.49 223.06,415.51 223.51,414.48 223.96,413.38 224.41,412.24 224.86,411.05 225.31,409.82 225.75,408.55 226.20,407.26 226.65,405.96 227.10,404.65 227.55,403.36 227.99,402.09 228.44,400.86 228.89,399.68 229.34,398.58 229.79,397.58 230.24,396.68 230.68,395.91 231.13,395.28 231.58,394.81 232.03,394.51 232.48,394.38 232.92,394.43 233.37,394.65 233.82,395.04 234.27,395.59 234.72,396.29 235.17,397.11 235.61,398.04 236.06,399.07 236.51,400.16 236.96,401.31 237.41,402.49 237.85,403.69 238.30,404.88 238.75,406.06 239.20,407.21 239.65,408.32 240.10,409.37 240.54,410.36 240.99,411.27 241.44,412.10 241.89,412.85 242.34,413.51 242.78,414.07 243.23,414.54 243.68,414.91 244.13,415.18 244.58,415.37 245.02,415.47 245.47,415.49 245.92,415.43 246.37,415.30 246.82,415.11 247.27,414.88 247.71,414.60 248.16,414.30 248.61,413.98 249.06,413.66 249.51,413.36 249.95,413.07 250.40,412.82 250.85,412.63 251.30,412.49 251.75,412.43 252.20,412.44 252.64,412.54 253.09,412.73 253.54,413.00 253.99,413.35 254.44,413.77 254.88,414.26 255.33,414.81 255.78,415.41 256.23,416.04 256.68,416.70 257.13,417.38 257.57,418.07 258.02,418.76 258.47,419.44 258.92,420.12 259.37,420.77 259.81,421.41 260.26,422.01 260.71,422.59 261.16,423.14 261.61,423.65 262.06,424.13 262.50,424.57 262.95,424.98 263.40,425.35 263.85,425.69 264.30,426.00 264.74,426.28 265.19,426.53 265.64,426.75 266.09,426.94 266.54,427.12 266.99,427.27 267.43,427.40 267.88,427.52 268.33,427.62 268.78,427.70 269.23,427.78 269.67,427.84 270.12,427.89 270.57,427.93 271.02,427.97 271.47,427.99 271.91,428.02 272.36,428.03 272.81,428.04 273.26,428.05 273.71,428.05 274.16,428.04 274.60,428.03 275.05,428.02 275.50,428.00 275.95,427.98 276.40,427.95 276.84,427.91 277.29,427.87 277.74,427.82 278.19,427.76 278.64,427.69 279.09,427.61 279.53,427.52 279.98,427.41 280.43,427.29 280.88,427.15 281.33,427.00 281.77,426.81 282.22,426.61 282.67,426.37 283.12,426.11 283.57,425.81 284.02,425.48 284.46,425.11 284.91,424.69 285.36,424.23 285.81,423.73 286.26,423.17 286.70,422.56 287.15,421.90 287.60,421.18 288.05,420.41 288.50,419.58 288.95,418.70 289.39,417.77 289.84,416.78 290.29,415.75 290.74,414.68 291.19,413.57 291.63,412.43 292.08,411.27 292.53,410.09 292.98,408.92 293.43,407.75 293.88,406.61 294.32,405.50 294.77,404.44 295.22,403.45 295.67,402.54 296.12,401.73 296.56,401.03 297.01,400.46 297.46,400.03 297.91,399.75 298.36,399.63 298.80,399.66 299.25,399.85 299.70,400.19 300.15,400.68 300.60,401.30 301.05,402.04 301.49,402.88 301.94,403.81 302.39,404.82 302.84,405.87 303.29,406.97 303.73,408.10 304.18,409.24 304.63,410.38 305.08,411.52 305.53,412.63 305.98,413.72 306.42,414.77 306.87,415.78 307.32,416.75 307.77,417.66 308.22,418.52 308.66,419.33 309.11,420.08 309.56,420.77 310.01,421.41 310.46,421.98 310.91,422.51 311.35,422.97 311.80,423.39 312.25,423.76 312.70,424.08 313.15,424.36 313.59,424.59 314.04,424.79 314.49,424.95 314.94,425.07 315.39,425.17 315.84,425.23 316.28,425.27 316.73,425.28 317.18,425.28 317.63,425.24 318.08,425.19 318.52,425.12 318.97,425.03 319.42,424.92 319.87,424.80 320.32,424.66 320.76,424.50 321.21,424.33 321.66,424.13 322.11,423.91 322.56,423.67 323.01,423.41 323.45,423.13 323.90,422.83 324.35,422.50 324.80,422.16 325.25,421.79 325.69,421.40 326.14,420.99 326.59,420.56 327.04,420.10 327.49,419.62 327.94,419.11 328.38,418.57 328.83,418.00 329.28,417.40 329.73,416.76 330.18,416.09 330.62,415.37 331.07,414.59 331.52,413.77 331.97,412.88 332.42,411.93 332.87,410.89 333.31,409.78 333.76,408.58 334.21,407.28 334.66,405.88 335.11,404.36 335.55,402.74 336.00,400.99 336.45,399.12 336.90,397.14 337.35,395.04 337.80,392.83 338.24,390.52 338.69,388.12 339.14,385.66 339.59,383.14 340.04,380.60 340.48,378.07 340.93,375.56 341.38,373.11 341.83,370.76 342.28,368.54 342.73,366.48 343.17,364.61 343.62,362.97 344.07,361.57 344.52,360.45 344.97,359.62 345.41,359.09 345.86,358.87 346.31,359.11 346.76,359.82 347.21,360.98 347.66,362.56 348.10,364.51 348.55,366.80 349.00,369.35 349.45,372.12 349.90,375.05 350.34,378.07 350.79,381.13 351.24,384.18 351.69,387.18 352.14,390.07 352.58,392.82 353.03,395.42 353.48,397.84 353.93,400.06 354.38,402.08 354.83,403.90 355.27,405.52 355.72,406.95 356.17,408.19 356.62,409.27 357.07,410.20 357.51,410.98 357.96,411.64 358.41,412.19 358.86,412.65 359.31,413.02 359.76,413.32 360.20,413.56 360.65,413.75 361.10,413.90 361.55,414.02 362.00,414.12 362.44,414.19 362.89,414.24 363.34,414.29 363.79,414.32 364.24,414.36 364.69,414.39 365.13,414.42 365.58,414.45 366.03,414.48 366.48,414.51 366.93,414.55 367.37,414.59 367.82,414.63 368.27,414.68 368.72,414.74 369.17,414.79 369.62,414.86 370.06,414.92 370.51,415.00 370.96,415.07 371.41,415.15 371.86,415.24 372.30,415.33 372.75,415.42 373.20,415.52 373.65,415.62 374.10,415.73 374.55,415.83 374.99,415.95 375.44,416.06 375.89,416.18 376.34,416.30 376.79,416.42 377.23,416.55 377.68,416.68 378.13,416.81 378.58,416.94 379.03,417.08 379.47,417.26 379.92,417.50 380.37,417.78 380.82,418.11 381.27,418.48 381.72,418.89 382.16,419.33 382.61,419.81 383.06,420.30 383.51,420.82 383.96,421.36 384.40,421.92 384.85,422.48 385.30,423.05 385.75,423.63 386.20,424.20 386.65,424.78 387.09,425.34 387.54,425.89 387.99,426.43 388.44,426.95 388.89,427.44 389.33,427.91 389.78,428.35 390.23,428.76 390.68,429.12 391.13,429.45 391.58,429.72 392.02,429.95 392.47,430.13 392.92,430.24 393.37,430.34 393.82,430.43 394.26,430.51 394.71,430.59 395.16,430.66 395.61,430.73 396.06,430.78 396.51,430.83 396.95,430.86 397.40,430.89 397.85,430.90 398.30,430.90 398.75,430.88 399.19,430.85 399.64,430.80 400.09,430.73 400.54,430.65 400.99,430.54 401.44,430.41 401.88,430.25 402.33,430.08 402.78,429.87 403.23,429.65 403.68,429.40 404.12,429.12 404.57,428.82 405.02,428.50 405.47,428.16 405.92,427.80 406.36,427.41 406.81,427.02 407.26,426.61 407.71,426.19 408.16,425.77 408.61,425.36 409.05,424.94 409.50,424.54 409.95,424.16 410.40,423.80 410.85,423.47 411.29,423.17 411.74,422.92 412.19,422.73 412.64,422.58 413.09,422.50 413.54,422.48 413.98,422.53 414.43,422.64 414.88,422.82 415.33,423.05 415.78,423.35 416.22,423.69 416.67,424.08 417.12,424.51 417.57,424.97 418.02,425.46 418.47,425.97 418.91,426.48 419.36,427.01 419.81,427.53 420.26,428.06 420.71,428.57 421.15,429.08 421.60,429.57 422.05,430.04 422.50,430.49 422.95,430.92 423.40,431.33 423.84,431.72 424.29,432.08 424.74,432.41 425.19,432.72 425.64,433.01 426.08,433.27 426.53,433.51 426.98,433.73 427.43,433.92 427.88,434.09 428.32,434.25 428.77,434.39 429.22,434.51 429.67,434.61 430.12,434.70 430.57,434.78 431.01,434.84 431.46,434.90 431.91,434.94 432.36,434.98 432.81,435.00 433.25,435.02 433.70,435.03 434.15,435.03 434.60,435.03 435.05,435.02 435.50,435.01 435.94,434.99 436.39,434.96 436.84,434.93 437.29,434.89 437.74,434.84 438.18,434.78 438.63,434.71 439.08,434.64 439.53,434.55 439.98,434.45 440.43,434.33 440.87,434.20 441.32,434.05 441.77,433.87 442.22,433.68 442.67,433.46 443.11,433.22 443.56,432.94 444.01,432.63 444.46,432.29 444.91,431.91 445.36,431.48 445.80,431.02 446.25,430.50 446.70,429.94 447.15,429.33 447.60,428.66 448.04,427.94 448.49,427.17 448.94,426.33 449.39,425.44 449.84,424.50 450.29,423.50 450.73,422.45 451.18,421.35 451.63,420.21 452.08,419.02 452.53,417.80 452.97,416.55 453.42,415.27 453.87,413.99 454.32,412.70 454.77,411.42 455.21,410.16 455.66,408.94 456.11,407.76 456.56,406.63 457.01,405.59 457.46,404.63 457.90,403.78 458.35,403.04 458.80,402.44 459.25,401.99 459.70,401.68 460.14,401.54 460.59,401.56 461.04,401.74 461.49,402.07 461.94,402.56 462.39,403.19 462.83,403.96 463.28,404.83 463.73,405.81 464.18,406.88 464.63,408.01 465.07,409.21 465.52,410.45 465.97,411.72 466.42,413.00 466.87,414.29 467.32,415.58 467.76,416.85 468.21,418.10 468.66,419.31 469.11,420.50 469.56,421.64 470.00,422.73 470.45,423.77 470.90,424.77 471.35,425.70 471.80,426.58 472.25,427.41 472.69,428.17 473.14,428.89 473.59,429.55 474.04,430.15 474.49,430.71 474.93,431.21 475.38,431.67 475.83,432.09 476.28,432.46 476.73,432.80 477.18,433.10 477.62,433.37 478.07,433.61 478.52,433.82 478.97,434.01 479.42,434.17 479.86,434.30 480.31,434.42 480.76,434.52 481.21,434.60 481.66,434.66 482.11,434.70 482.55,434.73 483.00,434.74 483.45,434.74 483.90,434.72 484.35,434.68 484.79,434.62 485.24,434.54 485.69,434.44 486.14,434.32 486.59,434.18 487.03,434.01 487.48,433.82 487.93,433.60 488.38,433.36 488.83,433.09 489.28,432.80 489.72,432.48 490.17,432.14 490.62,431.77 491.07,431.39 491.52,430.99 491.96,430.58 492.41,430.16 492.86,429.74 493.31,429.33 493.76,428.92 494.21,428.53 494.65,428.17 495.10,427.84 495.55,427.55 496.00,427.31 496.45,427.13 496.89,427.02 497.34,426.97 497.79,426.99 498.24,427.09 498.69,427.26 499.14,427.50 499.58,427.79 500.03,428.15 500.48,428.55 500.93,428.98 501.38,429.45 501.82,429.94 502.27,430.44 502.72,430.96 503.17,431.47 503.62,431.97 504.07,432.47 504.51,432.96 504.96,433.42 505.41,433.87 505.86,434.29 506.31,434.69 506.75,435.07 507.20,435.41 507.65,435.74 508.10,436.03 508.55,436.31 509.00,436.56 509.44,436.78 509.89,436.99 510.34,437.17 510.79,437.34 511.24,437.49 511.68,437.62 512.13,437.74 512.58,437.85 513.03,437.94 513.48,438.03 513.92,438.11 514.37,438.18 514.82,438.24 515.27,438.30 515.72,438.36 516.17,438.41 516.61,438.46 517.06,438.51 517.51,438.55 517.96,438.59 518.41,438.63 518.85,438.67 519.30,438.71 519.75,438.75 520.20,438.78 520.65,438.82 521.10,438.85 521.54,438.88 521.99,438.91 522.44,438.95 522.89,438.98 523.34,439.01 523.78,439.04 524.23,439.07 524.68,439.10 525.13,439.12 525.58,439.15 526.03,439.18 526.47,439.21 526.92,439.23 527.37,439.26 527.82,439.29 528.27,439.31 528.71,439.34 529.16,439.36 529.61,439.39 530.06,439.41 530.51,439.44 530.96,439.46 531.40,439.48 531.85,439.51 532.30,439.53 532.75,439.55 533.20,439.57 533.64,439.59 534.09,439.61 534.54,439.63 534.99,439.66 535.44,439.68 535.88,439.69 536.33,439.71 536.78,439.73 537.23,439.75 537.68,439.77 538.13,439.79 538.57,439.81 539.02,439.82 539.47,439.84 539.92,439.86 540.37,439.87 540.81,439.89 541.26,439.91 541.71,439.92 542.16,439.94 542.61,439.96 543.06,439.97 543.50,439.99 543.95,440.01 544.40,440.02 544.85,440.04 545.30,440.05 545.74,440.07 546.19,440.08 546.64,440.10 547.09,440.11 547.54,440.13 547.99,440.14 548.43,440.16 548.88,440.17 549.33,440.19 549.78,440.20 550.23,440.21 550.67,440.23 551.12,440.24 551.57,440.26 552.02,440.27 552.47,440.28 552.92,440.30 553.36,440.31 553.81,440.32 554.26,440.34 554.71,440.35 555.16,440.36 555.60,440.37 556.05,440.39 556.50,440.40 556.95,440.41 557.40,440.42 557.85,440.44 558.29,440.45 558.74,440.46 559.19,440.47 559.64,440.49 560.09,440.50 560.53,440.51 560.98,440.52 561.43,440.53 561.88,440.54 562.33,440.55 562.77,440.57 563.22,440.58 563.67,440.59 564.12,440.60 564.57,440.61 565.02,440.62 565.46,440.63 565.91,440.64 566.36,440.65 566.81,440.66 567.26,440.67 567.70,440.68 568.15,440.69 568.60,440.70 569.05,440.71 569.50,440.72 569.95,440.73 570.39,440.74 570.84,440.75 571.29,440.76 571.74,440.77 572.19,440.78 572.63,440.79 573.08,440.79 573.53,440.80 573.98,440.81 574.43,440.82 574.88,440.83 575.32,440.84 575.77,440.85 576.22,440.85 576.67,440.86 577.12,440.87 577.56,440.88 578.01,440.89 578.46,440.90 578.91,440.90 579.36,440.91 579.81,440.92 580.25,440.93 580.70,440.94 581.15,440.94 581.60,440.95 582.05,440.96 582.49,440.97 582.94,440.98 583.39,440.98 583.84,440.99 584.29,441.00 584.74,441.01 585.18,441.01 585.63,441.02 586.08,441.03 586.53,441.04 586.98,441.05 587.42,441.05 587.87,441.06 588.32,441.07 588.77,441.08 589.22,441.08 589.67,441.09 590.11,441.10 590.56,441.11 591.01,441.11 591.46,441.12 591.91,441.13 592.35,441.13 592.80,441.14 593.25,441.15 593.70,441.16 594.15,441.16 594.59,441.17 595.04,441.18 595.49,441.18 595.94,441.19 596.39,441.20 596.84,441.20 597.28,441.21 597.73,441.22 598.18,441.23 598.63,441.23 599.08,441.24 599.52,441.25 599.97,441.25 600.42,441.26 600.87,441.26 601.32,441.27 601.77,441.28 602.21,441.28 602.66,441.29 603.11,441.30 603.56,441.30 604.01,441.31 604.45,441.32 604.90,441.32 605.35,441.33 605.80,441.33 606.25,441.34 606.70,441.34 607.14,441.35 607.59,441.36 608.04,441.36 608.49,441.37 608.94,441.37 609.38,441.38 609.83,441.38 610.28,441.39 610.73,441.40 611.18,441.40 611.63,441.41 612.07,441.41 612.52,441.42 612.97,441.42 613.42,441.43 613.87,441.43 614.31,441.44 614.76,441.44 615.21,441.45 615.66,441.45 616.11,441.46 616.56,441.46 617.00,441.47 617.45,441.47 617.90,441.47 618.35,441.48 618.80,441.48 619.24,441.49 619.69,441.49 620.14,441.50 620.59,441.50 621.04,441.50 621.48,441.51 621.93,441.51 622.38,441.52 622.83,441.52 623.28,441.52 623.73,441.53 624.17,441.53 624.62,441.53 625.07,441.54 625.52,441.54 625.97,441.54 626.41,441.55 626.86,441.55 627.31,441.55 627.76,441.56 628.21,441.56 628.66,441.56 629.10,441.56 629.55,441.57 630.00,441.57"/>
<path d="M92.3,13.32 V447.40 H630.60" fill="none" stroke="#000" stroke-width="1.3"/>
<path d="M84.2,443.00H92.3 M88.2,419.17H92.3 M84.2,395.33H92.3 M88.2,371.50H92.3 M84.2,347.66H92.3 M88.2,323.82H92.3 M84.2,299.99H92.3 M88.2,276.15H92.3 M84.2,252.32H92.3 M88.2,228.48H92.3 M84.2,204.65H92.3 M88.2,180.81H92.3 M84.2,156.98H92.3 M88.2,133.14H92.3 M84.2,109.31H92.3 M88.2,85.47H92.3 M84.2,61.64H92.3 M88.2,37.81H92.3 M84.2,13.97H92.3 M92.20,447.40V451.60 M119.09,447.40V455.60 M145.98,447.40V451.60 M172.87,447.40V455.60 M199.76,447.40V451.60 M226.65,447.40V455.60 M253.54,447.40V451.60 M280.43,447.40V455.60 M307.32,447.40V451.60 M334.21,447.40V455.60 M361.10,447.40V451.60 M387.99,447.40V455.60 M414.88,447.40V451.60 M441.77,447.40V455.60 M468.66,447.40V451.60 M495.55,447.40V455.60 M522.44,447.40V451.60 M549.33,447.40V455.60 M576.22,447.40V451.60 M603.11,447.40V455.60 M630.00,447.40V451.60" stroke="#000" stroke-width="1.3" fill="none"/>
<text x="79.3" y="449.85" text-anchor="end" font-size="22.8">0</text>
<text x="79.3" y="402.35" text-anchor="end" font-size="22.8">100</text>
<text x="79.3" y="354.85" text-anchor="end" font-size="22.8">200</text>
<text x="79.3" y="307.35" text-anchor="end" font-size="22.8">300</text>
<text x="79.3" y="259.85" text-anchor="end" font-size="22.8">400</text>
<text x="79.3" y="212.35" text-anchor="end" font-size="22.8">500</text>
<text x="79.3" y="164.85" text-anchor="end" font-size="22.8">600</text>
<text x="79.3" y="117.35" text-anchor="end" font-size="22.8">700</text>
<text x="79.3" y="69.85" text-anchor="end" font-size="22.8">800</text>
<text x="79.3" y="22.35" text-anchor="end" font-size="22.8">900</text>
<text x="119.65" y="480.70" text-anchor="middle" font-size="22.8">6</text>
<text x="173.16" y="480.70" text-anchor="middle" font-size="22.8">8</text>
<text x="226.67" y="480.70" text-anchor="middle" font-size="22.8">10</text>
<text x="280.19" y="480.70" text-anchor="middle" font-size="22.8">12</text>
<text x="333.70" y="480.70" text-anchor="middle" font-size="22.8">14</text>
<text x="387.21" y="480.70" text-anchor="middle" font-size="22.8">16</text>
<text x="440.72" y="480.70" text-anchor="middle" font-size="22.8">18</text>
<text x="494.23" y="480.70" text-anchor="middle" font-size="22.8">20</text>
<text x="547.75" y="480.70" text-anchor="middle" font-size="22.8">22</text>
<text x="601.26" y="480.70" text-anchor="middle" font-size="22.8">24</text>
<text x="360" y="510.80" text-anchor="middle" font-size="22.3">Time (min)</text>
<text transform="translate(18.0,223.30) rotate(-90)" text-anchor="middle" font-size="22.3">Intensity (mAu)</text>
<text x="-0.9" y="14.8" font-size="27" font-weight="bold">a</text>
<rect x="94.5" y="14.40" width="311.00" height="42.5" fill="none" stroke="#6e6e6e" stroke-width="1.1"/>
<text x="256.3" y="43.80" text-anchor="middle" font-size="22.3">Acidic variants</text>
<rect x="408.6" y="14.40" width="71.70" height="42.5" fill="none" stroke="#6e6e6e" stroke-width="1.1"/>
<text x="441.6" y="43.80" text-anchor="middle" font-size="22.3">Main</text>
<rect x="483.4" y="14.40" width="154.60" height="42.5" fill="none" stroke="#6e6e6e" stroke-width="1.1"/>
<text x="559.4" y="43.80" text-anchor="middle" font-size="22.3">Basic variants</text>
<rect x="486.1" y="59.50" width="151.9" height="115.4" fill="none" stroke="#6e6e6e" stroke-width="1.1"/>
<line x1="488.7" y1="72.55" x2="530" y2="72.55" stroke="#5858ff" stroke-width="1.0"/>
<text x="541.6" y="79.35" font-size="19">1 day</text>
<line x1="488.7" y1="95.17" x2="530" y2="95.17" stroke="#58b558" stroke-width="1.0"/>
<text x="541.6" y="101.97" font-size="19">7 days</text>
<line x1="488.7" y1="117.79" x2="530" y2="117.79" stroke="#f5a266" stroke-width="1.0"/>
<text x="541.6" y="124.59" font-size="19">12 days</text>
<line x1="488.7" y1="140.41" x2="530" y2="140.41" stroke="#a34747" stroke-width="1.0"/>
<text x="541.6" y="147.21" font-size="19">15 days</text>
<line x1="488.7" y1="163.03" x2="530" y2="163.03" stroke="#cccccc" stroke-width="1.8"/>
<text x="541.6" y="169.83" font-size="19">Blank</text>
<rect x="486.1" y="178.30" width="152.3" height="79.7" fill="none" stroke="#6e6e6e" stroke-width="1.1"/>
<circle cx="498.3" cy="191.30" r="3.5" fill="#d6249a" stroke="#c01f8a" stroke-width="0.6"/>
<text x="505.5" y="196.20" font-size="12.6">LC-Asn30-deam</text>
<circle cx="498.3" cy="209.05" r="3.5" fill="#fcc12c" stroke="#ee9a1e" stroke-width="0.6"/>
<text x="505.5" y="213.95" font-size="12.6">HC-isoAsp102</text>
<circle cx="498.3" cy="226.80" r="3.5" fill="#19b51e" stroke="#14a018" stroke-width="0.6"/>
<text x="505.5" y="231.70" font-size="12.6">HC-Asn55-deam</text>
<circle cx="498.3" cy="244.55" r="3.5" fill="#0000ff" stroke="#0000d8" stroke-width="0.6"/>
<text x="505.5" y="249.45" font-size="12.6">HC-Asn387,392-deam</text>
<line x1="179.65" y1="384.40" x2="179.65" y2="408.60" stroke="#828282" stroke-width="3.0" stroke-linecap="round"/>
<line x1="184.35" y1="384.40" x2="184.35" y2="408.60" stroke="#828282" stroke-width="3.0" stroke-linecap="round"/>
<line x1="166.90" y1="366.70" x2="179.40" y2="378.40" stroke="#828282" stroke-width="3.0" stroke-linecap="round"/>
<line x1="163.40" y1="370.60" x2="173.10" y2="379.80" stroke="#828282" stroke-width="3.0" stroke-linecap="round"/>
<line x1="174.60" y1="378.60" x2="176.40" y2="376.80" stroke="#444" stroke-width="0.8" stroke-linecap="butt"/>
<line x1="197.10" y1="366.70" x2="184.60" y2="378.40" stroke="#828282" stroke-width="3.0" stroke-linecap="round"/>
<line x1="200.60" y1="370.60" x2="190.90" y2="379.80" stroke="#828282" stroke-width="3.0" stroke-linecap="round"/>
<line x1="189.40" y1="378.60" x2="187.60" y2="376.80" stroke="#444" stroke-width="0.8" stroke-linecap="butt"/>
<rect x="180.25" y="380.20" width="3.5" height="2.5" fill="#fff" stroke="#555" stroke-width="0.7"/>
<circle cx="162.25" cy="373.40" r="3.75" fill="#d6249a" stroke="#c01f8a" stroke-width="0.6"/>
<circle cx="202.00" cy="373.40" r="3.75" fill="#d6249a" stroke="#c01f8a" stroke-width="0.6"/>
<circle cx="176.25" cy="406.20" r="3.75" fill="#0000ff" stroke="#0000d8" stroke-width="0.6"/>
<text x="181.30" y="359.50" text-anchor="middle" font-size="16">A1</text>
<line x1="226.70" y1="355.25" x2="226.70" y2="380.20" stroke="#828282" stroke-width="3.0" stroke-linecap="round"/>
<line x1="231.40" y1="355.25" x2="231.40" y2="380.20" stroke="#828282" stroke-width="3.0" stroke-linecap="round"/>
<line x1="215.45" y1="338.95" x2="226.45" y2="349.25" stroke="#828282" stroke-width="3.0" stroke-linecap="round"/>
<line x1="211.61" y1="342.55" x2="220.15" y2="350.65" stroke="#828282" stroke-width="3.0" stroke-linecap="round"/>
<line x1="221.65" y1="349.45" x2="223.45" y2="347.65" stroke="#444" stroke-width="0.8" stroke-linecap="butt"/>
<line x1="242.65" y1="338.95" x2="231.65" y2="349.25" stroke="#828282" stroke-width="3.0" stroke-linecap="round"/>
<line x1="246.49" y1="342.55" x2="237.95" y2="350.65" stroke="#828282" stroke-width="3.0" stroke-linecap="round"/>
<line x1="236.45" y1="349.45" x2="234.65" y2="347.65" stroke="#444" stroke-width="0.8" stroke-linecap="butt"/>
<rect x="227.30" y="351.05" width="3.5" height="2.5" fill="#fff" stroke="#555" stroke-width="0.7"/>
<circle cx="211.60" cy="344.70" r="3.75" fill="#d6249a" stroke="#c01f8a" stroke-width="0.6"/>
<circle cx="246.90" cy="345.00" r="3.75" fill="#d6249a" stroke="#c01f8a" stroke-width="0.6"/>
<text x="231.40" y="328.50" text-anchor="middle" font-size="16">A2</text>
<line x1="256.70" y1="388.45" x2="256.70" y2="410.25" stroke="#828282" stroke-width="3.0" stroke-linecap="round"/>
<line x1="261.40" y1="388.45" x2="261.40" y2="410.25" stroke="#828282" stroke-width="3.0" stroke-linecap="round"/>
<line x1="244.83" y1="371.57" x2="256.45" y2="382.45" stroke="#828282" stroke-width="3.0" stroke-linecap="round"/>
<line x1="241.13" y1="375.29" x2="250.15" y2="383.85" stroke="#828282" stroke-width="3.0" stroke-linecap="round"/>
<line x1="251.65" y1="382.65" x2="253.45" y2="380.85" stroke="#444" stroke-width="0.8" stroke-linecap="butt"/>
<line x1="273.28" y1="371.57" x2="261.65" y2="382.45" stroke="#828282" stroke-width="3.0" stroke-linecap="round"/>
<line x1="276.97" y1="375.29" x2="267.95" y2="383.85" stroke="#828282" stroke-width="3.0" stroke-linecap="round"/>
<line x1="266.45" y1="382.65" x2="264.65" y2="380.85" stroke="#444" stroke-width="0.8" stroke-linecap="butt"/>
<rect x="257.30" y="384.25" width="3.5" height="2.5" fill="#fff" stroke="#555" stroke-width="0.7"/>
<circle cx="241.65" cy="378.75" r="3.75" fill="#d6249a" stroke="#c01f8a" stroke-width="0.6"/>
<circle cx="276.65" cy="378.75" r="3.75" fill="#d6249a" stroke="#c01f8a" stroke-width="0.6"/>
<circle cx="260.60" cy="379.10" r="3.75" fill="#fcc12c" stroke="#ee9a1e" stroke-width="0.6"/>
<text x="258.10" y="365.50" text-anchor="middle" font-size="16">A3</text>
<line x1="294.60" y1="364.35" x2="294.60" y2="387.30" stroke="#828282" stroke-width="3.0" stroke-linecap="round"/>
<line x1="299.30" y1="364.35" x2="299.30" y2="387.30" stroke="#828282" stroke-width="3.0" stroke-linecap="round"/>
<line x1="283.72" y1="348.40" x2="294.35" y2="358.35" stroke="#828282" stroke-width="3.0" stroke-linecap="round"/>
<line x1="279.81" y1="351.93" x2="288.05" y2="359.75" stroke="#828282" stroke-width="3.0" stroke-linecap="round"/>
<line x1="289.55" y1="358.55" x2="291.35" y2="356.75" stroke="#444" stroke-width="0.8" stroke-linecap="butt"/>
<line x1="310.18" y1="348.40" x2="299.55" y2="358.35" stroke="#828282" stroke-width="3.0" stroke-linecap="round"/>
<line x1="314.09" y1="351.93" x2="305.85" y2="359.75" stroke="#828282" stroke-width="3.0" stroke-linecap="round"/>
<line x1="304.35" y1="358.55" x2="302.55" y2="356.75" stroke="#444" stroke-width="0.8" stroke-linecap="butt"/>
<rect x="295.20" y="360.15" width="3.5" height="2.5" fill="#fff" stroke="#555" stroke-width="0.7"/>
<circle cx="290.90" cy="350.90" r="3.75" fill="#19b51e" stroke="#14a018" stroke-width="0.6"/>
<text x="298.00" y="336.00" text-anchor="middle" font-size="16">A4</text>
<line x1="342.75" y1="292.45" x2="342.75" y2="315.30" stroke="#828282" stroke-width="3.0" stroke-linecap="round"/>
<line x1="347.45" y1="292.45" x2="347.45" y2="315.30" stroke="#828282" stroke-width="3.0" stroke-linecap="round"/>
<line x1="331.12" y1="275.80" x2="342.50" y2="286.45" stroke="#828282" stroke-width="3.0" stroke-linecap="round"/>
<line x1="327.37" y1="279.48" x2="336.20" y2="287.85" stroke="#828282" stroke-width="3.0" stroke-linecap="round"/>
<line x1="337.70" y1="286.65" x2="339.50" y2="284.85" stroke="#444" stroke-width="0.8" stroke-linecap="butt"/>
<line x1="359.08" y1="275.80" x2="347.70" y2="286.45" stroke="#828282" stroke-width="3.0" stroke-linecap="round"/>
<line x1="362.83" y1="279.48" x2="354.00" y2="287.85" stroke="#828282" stroke-width="3.0" stroke-linecap="round"/>
<line x1="352.50" y1="286.65" x2="350.70" y2="284.85" stroke="#444" stroke-width="0.8" stroke-linecap="butt"/>
<rect x="343.35" y="288.25" width="3.5" height="2.5" fill="#fff" stroke="#555" stroke-width="0.7"/>
<circle cx="327.30" cy="282.90" r="3.75" fill="#ff0a0a" stroke="#e00000" stroke-width="0.6"/>
<text x="344.60" y="268.00" text-anchor="middle" font-size="16">A5</text>
<line x1="375.85" y1="381.40" x2="375.85" y2="404.40" stroke="#828282" stroke-width="3.0" stroke-linecap="round"/>
<line x1="380.55" y1="381.40" x2="380.55" y2="404.40" stroke="#828282" stroke-width="3.0" stroke-linecap="round"/>
<line x1="364.35" y1="364.87" x2="375.60" y2="375.40" stroke="#828282" stroke-width="3.0" stroke-linecap="round"/>
<line x1="360.57" y1="368.52" x2="369.30" y2="376.80" stroke="#828282" stroke-width="3.0" stroke-linecap="round"/>
<line x1="370.80" y1="375.60" x2="372.60" y2="373.80" stroke="#444" stroke-width="0.8" stroke-linecap="butt"/>
<line x1="392.05" y1="364.87" x2="380.80" y2="375.40" stroke="#828282" stroke-width="3.0" stroke-linecap="round"/>
<line x1="395.83" y1="368.52" x2="387.10" y2="376.80" stroke="#828282" stroke-width="3.0" stroke-linecap="round"/>
<line x1="385.60" y1="375.60" x2="383.80" y2="373.80" stroke="#444" stroke-width="0.8" stroke-linecap="butt"/>
<rect x="376.45" y="377.20" width="3.5" height="2.5" fill="#fff" stroke="#555" stroke-width="0.7"/>
<circle cx="360.40" cy="371.40" r="3.75" fill="#d6249a" stroke="#c01f8a" stroke-width="0.6"/>
<circle cx="379.90" cy="372.00" r="3.75" fill="#fcc12c" stroke="#ee9a1e" stroke-width="0.6"/>
<text x="376.40" y="355.60" text-anchor="middle" font-size="16">A6</text>
<line x1="455.55" y1="117.40" x2="455.55" y2="142.20" stroke="#828282" stroke-width="3.0" stroke-linecap="round"/>
<line x1="460.25" y1="117.40" x2="460.25" y2="142.20" stroke="#828282" stroke-width="3.0" stroke-linecap="round"/>
<line x1="443.42" y1="100.28" x2="455.30" y2="111.40" stroke="#828282" stroke-width="3.0" stroke-linecap="round"/>
<line x1="439.78" y1="104.06" x2="449.00" y2="112.80" stroke="#828282" stroke-width="3.0" stroke-linecap="round"/>
<line x1="450.50" y1="111.60" x2="452.30" y2="109.80" stroke="#444" stroke-width="0.8" stroke-linecap="butt"/>
<line x1="472.38" y1="100.28" x2="460.50" y2="111.40" stroke="#828282" stroke-width="3.0" stroke-linecap="round"/>
<line x1="476.01" y1="104.06" x2="466.80" y2="112.80" stroke="#828282" stroke-width="3.0" stroke-linecap="round"/>
<line x1="465.30" y1="111.60" x2="463.50" y2="109.80" stroke="#444" stroke-width="0.8" stroke-linecap="butt"/>
<rect x="456.15" y="113.20" width="3.5" height="2.5" fill="#fff" stroke="#555" stroke-width="0.7"/>
<line x1="493.75" y1="382.20" x2="493.75" y2="404.60" stroke="#828282" stroke-width="3.0" stroke-linecap="round"/>
<line x1="498.45" y1="382.20" x2="498.45" y2="404.60" stroke="#828282" stroke-width="3.0" stroke-linecap="round"/>
<line x1="482.62" y1="366.02" x2="493.50" y2="376.20" stroke="#828282" stroke-width="3.0" stroke-linecap="round"/>
<line x1="478.76" y1="369.60" x2="487.20" y2="377.60" stroke="#828282" stroke-width="3.0" stroke-linecap="round"/>
<line x1="488.70" y1="376.40" x2="490.50" y2="374.60" stroke="#444" stroke-width="0.8" stroke-linecap="butt"/>
<line x1="509.58" y1="366.02" x2="498.70" y2="376.20" stroke="#828282" stroke-width="3.0" stroke-linecap="round"/>
<line x1="513.44" y1="369.60" x2="505.00" y2="377.60" stroke="#828282" stroke-width="3.0" stroke-linecap="round"/>
<line x1="503.50" y1="376.40" x2="501.70" y2="374.60" stroke="#444" stroke-width="0.8" stroke-linecap="butt"/>
<rect x="494.35" y="378.00" width="3.5" height="2.5" fill="#fff" stroke="#555" stroke-width="0.7"/>
<circle cx="497.80" cy="372.80" r="3.75" fill="#fcc12c" stroke="#ee9a1e" stroke-width="0.6"/>
<text x="497.60" y="357.30" text-anchor="middle" font-size="16">B1</text>
<polyline fill="none" stroke="#b4b4b4" stroke-width="1.0" stroke-linejoin="round" points="92.20,989.52 92.65,989.56 93.10,989.60 93.54,989.63 93.99,989.67 94.44,989.71 94.89,989.74 95.34,989.78 95.79,989.81 96.23,989.85 96.68,989.89 97.13,989.92 97.58,989.95 98.03,989.99 98.47,990.02 98.92,990.06 99.37,990.09 99.82,990.12 100.27,990.15 100.72,990.18 101.16,990.21 101.61,990.24 102.06,990.27 102.51,990.30 102.96,990.33 103.40,990.35 103.85,990.38 104.30,990.40 104.75,990.43 105.20,990.45 105.65,990.47 106.09,990.49 106.54,990.52 106.99,990.54 107.44,990.56 107.89,990.58 108.33,990.60 108.78,990.63 109.23,990.65 109.68,990.67 110.13,990.69 110.57,990.71 111.02,990.74 111.47,990.76 111.92,990.78 112.37,990.80 112.82,990.82 113.26,990.84 113.71,990.86 114.16,990.89 114.61,990.91 115.06,990.93 115.50,990.95 115.95,990.97 116.40,990.99 116.85,991.01 117.30,991.03 117.75,991.04 118.19,991.06 118.64,991.08 119.09,991.10 119.54,991.12 119.99,991.13 120.43,991.15 120.88,991.17 121.33,991.18 121.78,991.20 122.23,991.21 122.68,991.23 123.12,991.24 123.57,991.26 124.02,991.27 124.47,991.28 124.92,991.29 125.36,991.31 125.81,991.32 126.26,991.33 126.71,991.34 127.16,991.35 127.61,991.35 128.05,991.36 128.50,991.37 128.95,991.38 129.40,991.38 129.85,991.39 130.29,991.39 130.74,991.39 131.19,991.40 131.64,991.40 132.09,991.40 132.53,991.40 132.98,991.40 133.43,991.40 133.88,991.40 134.33,991.40 134.78,991.40 135.22,991.40 135.67,991.40 136.12,991.40 136.57,991.40 137.02,991.40 137.46,991.40 137.91,991.40 138.36,991.40 138.81,991.40 139.26,991.40 139.71,991.40 140.15,991.40 140.60,991.40 141.05,991.40 141.50,991.40 141.95,991.40 142.39,991.40 142.84,991.40 143.29,991.40 143.74,991.40 144.19,991.40 144.64,991.40 145.08,991.40 145.53,991.40 145.98,991.40 146.43,991.40 146.88,991.40 147.32,991.40 147.77,991.40 148.22,991.40 148.67,991.40 149.12,991.40 149.57,991.40 150.01,991.40 150.46,991.40 150.91,991.40 151.36,991.40 151.81,991.40 152.25,991.40 152.70,991.40 153.15,991.40 153.60,991.40 154.05,991.40 154.50,991.40 154.94,991.40 155.39,991.40 155.84,991.40 156.29,991.40 156.74,991.40 157.18,991.40 157.63,991.40 158.08,991.40 158.53,991.40 158.98,991.40 159.43,991.40 159.87,991.40 160.32,991.40 160.77,991.40 161.22,991.40 161.67,991.40 162.11,991.40 162.56,991.40 163.01,991.40 163.46,991.40 163.91,991.40 164.35,991.40 164.80,991.40 165.25,991.40 165.70,991.40 166.15,991.40 166.60,991.40 167.04,991.40 167.49,991.40 167.94,991.40 168.39,991.40 168.84,991.40 169.28,991.40 169.73,991.40 170.18,991.40 170.63,991.40 171.08,991.40 171.53,991.40 171.97,991.40 172.42,991.40 172.87,991.40 173.32,991.40 173.77,991.40 174.21,991.40 174.66,991.40 175.11,991.40 175.56,991.40 176.01,991.40 176.46,991.40 176.90,991.40 177.35,991.40 177.80,991.40 178.25,991.40 178.70,991.40 179.14,991.40 179.59,991.40 180.04,991.40 180.49,991.40 180.94,991.40 181.39,991.40 181.83,991.40 182.28,991.40 182.73,991.40 183.18,991.40 183.63,991.40 184.07,991.40 184.52,991.40 184.97,991.40 185.42,991.40 185.87,991.40 186.31,991.40 186.76,991.40 187.21,991.40 187.66,991.40 188.11,991.40 188.56,991.40 189.00,991.40 189.45,991.40 189.90,991.40 190.35,991.40 190.80,991.40 191.24,991.40 191.69,991.40 192.14,991.40 192.59,991.40 193.04,991.40 193.49,991.40 193.93,991.40 194.38,991.40 194.83,991.40 195.28,991.40 195.73,991.40 196.17,991.40 196.62,991.40 197.07,991.40 197.52,991.40 197.97,991.40 198.42,991.40 198.86,991.40 199.31,991.40 199.76,991.40 200.21,991.40 200.66,991.40 201.10,991.40 201.55,991.40 202.00,991.40 202.45,991.40 202.90,991.40 203.35,991.40 203.79,991.40 204.24,991.40 204.69,991.40 205.14,991.40 205.59,991.40 206.03,991.40 206.48,991.40 206.93,991.40 207.38,991.40 207.83,991.40 208.28,991.40 208.72,991.40 209.17,991.40 209.62,991.40 210.07,991.40 210.52,991.40 210.96,991.40 211.41,991.40 211.86,991.40 212.31,991.40 212.76,991.40 213.20,991.40 213.65,991.40 214.10,991.40 214.55,991.40 215.00,991.40 215.45,991.40 215.89,991.40 216.34,991.40 216.79,991.40 217.24,991.40 217.69,991.40 218.13,991.40 218.58,991.40 219.03,991.40 219.48,991.40 219.93,991.40 220.38,991.40 220.82,991.40 221.27,991.40 221.72,991.40 222.17,991.40 222.62,991.40 223.06,991.40 223.51,991.40 223.96,991.40 224.41,991.40 224.86,991.40 225.31,991.40 225.75,991.40 226.20,991.40 226.65,991.40 227.10,991.40 227.55,991.40 227.99,991.40 228.44,991.40 228.89,991.40 229.34,991.40 229.79,991.40 230.24,991.40 230.68,991.40 231.13,991.40 231.58,991.40 232.03,991.40 232.48,991.40 232.92,991.40 233.37,991.40 233.82,991.40 234.27,991.40 234.72,991.40 235.17,991.40 235.61,991.40 236.06,991.40 236.51,991.40 236.96,991.40 237.41,991.40 237.85,991.40 238.30,991.40 238.75,991.40 239.20,991.40 239.65,991.40 240.10,991.40 240.54,991.40 240.99,991.40 241.44,991.40 241.89,991.40 242.34,991.40 242.78,991.40 243.23,991.40 243.68,991.40 244.13,991.40 244.58,991.40 245.02,991.40 245.47,991.40 245.92,991.40 246.37,991.40 246.82,991.40 247.27,991.40 247.71,991.40 248.16,991.40 248.61,991.40 249.06,991.40 249.51,991.40 249.95,991.40 250.40,991.40 250.85,991.40 251.30,991.40 251.75,991.40 252.20,991.40 252.64,991.40 253.09,991.40 253.54,991.40 253.99,991.40 254.44,991.40 254.88,991.40 255.33,991.40 255.78,991.40 256.23,991.40 256.68,991.40 257.13,991.40 257.57,991.40 258.02,991.40 258.47,991.40 258.92,991.40 259.37,991.40 259.81,991.40 260.26,991.40 260.71,991.40 261.16,991.40 261.61,991.40 262.06,991.40 262.50,991.40 262.95,991.40 263.40,991.40 263.85,991.40 264.30,991.40 264.74,991.40 265.19,991.40 265.64,991.40 266.09,991.40 266.54,991.40 266.99,991.40 267.43,991.40 267.88,991.40 268.33,991.40 268.78,991.40 269.23,991.40 269.67,991.40 270.12,991.40 270.57,991.40 271.02,991.40 271.47,991.40 271.91,991.40 272.36,991.40 272.81,991.40 273.26,991.40 273.71,991.40 274.16,991.40 274.60,991.40 275.05,991.40 275.50,991.40 275.95,991.40 276.40,991.40 276.84,991.40 277.29,991.40 277.74,991.40 278.19,991.40 278.64,991.40 279.09,991.40 279.53,991.40 279.98,991.40 280.43,991.40 280.88,991.40 281.33,991.40 281.77,991.40 282.22,991.40 282.67,991.40 283.12,991.40 283.57,991.40 284.02,991.40 284.46,991.40 284.91,991.40 285.36,991.40 285.81,991.40 286.26,991.40 286.70,991.40 287.15,991.40 287.60,991.40 288.05,991.40 288.50,991.40 288.95,991.40 289.39,991.40 289.84,991.40 290.29,991.40 290.74,991.40 291.19,991.40 291.63,991.40 292.08,991.40 292.53,991.40 292.98,991.40 293.43,991.40 293.88,991.40 294.32,991.40 294.77,991.40 295.22,991.40 295.67,991.40 296.12,991.40 296.56,991.40 297.01,991.40 297.46,991.40 297.91,991.40 298.36,991.40 298.80,991.40 299.25,991.40 299.70,991.40 300.15,991.40 300.60,991.40 301.05,991.40 301.49,991.40 301.94,991.40 302.39,991.40 302.84,991.40 303.29,991.40 303.73,991.40 304.18,991.40 304.63,991.40 305.08,991.40 305.53,991.40 305.98,991.40 306.42,991.40 306.87,991.40 307.32,991.40 307.77,991.40 308.22,991.40 308.66,991.40 309.11,991.40 309.56,991.40 310.01,991.40 310.46,991.40 310.91,991.40 311.35,991.40 311.80,991.40 312.25,991.40 312.70,991.40 313.15,991.40 313.59,991.40 314.04,991.40 314.49,991.40 314.94,991.40 315.39,991.40 315.84,991.40 316.28,991.40 316.73,991.40 317.18,991.40 317.63,991.40 318.08,991.40 318.52,991.40 318.97,991.40 319.42,991.40 319.87,991.40 320.32,991.40 320.76,991.40 321.21,991.40 321.66,991.40 322.11,991.40 322.56,991.40 323.01,991.40 323.45,991.40 323.90,991.40 324.35,991.40 324.80,991.40 325.25,991.40 325.69,991.40 326.14,991.40 326.59,991.40 327.04,991.40 327.49,991.40 327.94,991.40 328.38,991.40 328.83,991.40 329.28,991.40 329.73,991.40 330.18,991.40 330.62,991.40 331.07,991.40 331.52,991.40 331.97,991.40 332.42,991.40 332.87,991.40 333.31,991.40 333.76,991.40 334.21,991.40 334.66,991.40 335.11,991.40 335.55,991.40 336.00,991.40 336.45,991.40 336.90,991.40 337.35,991.40 337.80,991.40 338.24,991.40 338.69,991.40 339.14,991.40 339.59,991.40 340.04,991.40 340.48,991.40 340.93,991.40 341.38,991.40 341.83,991.40 342.28,991.40 342.73,991.40 343.17,991.40 343.62,991.40 344.07,991.40 344.52,991.40 344.97,991.40 345.41,991.40 345.86,991.40 346.31,991.40 346.76,991.40 347.21,991.40 347.66,991.40 348.10,991.40 348.55,991.40 349.00,991.40 349.45,991.40 349.90,991.40 350.34,991.40 350.79,991.40 351.24,991.40 351.69,991.40 352.14,991.40 352.58,991.40 353.03,991.40 353.48,991.40 353.93,991.40 354.38,991.40 354.83,991.40 355.27,991.40 355.72,991.40 356.17,991.40 356.62,991.40 357.07,991.40 357.51,991.40 357.96,991.40 358.41,991.40 358.86,991.40 359.31,991.40 359.76,991.40 360.20,991.40 360.65,991.40 361.10,991.40 361.55,991.40 362.00,991.40 362.44,991.40 362.89,991.40 363.34,991.40 363.79,991.40 364.24,991.40 364.69,991.40 365.13,991.40 365.58,991.40 366.03,991.40 366.48,991.40 366.93,991.40 367.37,991.40 367.82,991.40 368.27,991.40 368.72,991.40 369.17,991.40 369.62,991.40 370.06,991.40 370.51,991.40 370.96,991.40 371.41,991.40 371.86,991.40 372.30,991.40 372.75,991.40 373.20,991.40 373.65,991.40 374.10,991.40 374.55,991.40 374.99,991.40 375.44,991.40 375.89,991.40 376.34,991.40 376.79,991.40 377.23,991.40 377.68,991.40 378.13,991.40 378.58,991.40 379.03,991.40 379.47,991.40 379.92,991.40 380.37,991.40 380.82,991.40 381.27,991.40 381.72,991.40 382.16,991.40 382.61,991.40 383.06,991.40 383.51,991.40 383.96,991.40 384.40,991.40 384.85,991.40 385.30,991.40 385.75,991.40 386.20,991.40 386.65,991.40 387.09,991.40 387.54,991.40 387.99,991.40 388.44,991.40 388.89,991.40 389.33,991.40 389.78,991.40 390.23,991.40 390.68,991.40 391.13,991.40 391.58,991.40 392.02,991.40 392.47,991.40 392.92,991.40 393.37,991.40 393.82,991.40 394.26,991.40 394.71,991.40 395.16,991.40 395.61,991.40 396.06,991.40 396.51,991.40 396.95,991.40 397.40,991.40 397.85,991.40 398.30,991.40 398.75,991.40 399.19,991.40 399.64,991.40 400.09,991.40 400.54,991.40 400.99,991.40 401.44,991.40 401.88,991.40 402.33,991.40 402.78,991.40 403.23,991.40 403.68,991.40 404.12,991.40 404.57,991.40 405.02,991.40 405.47,991.40 405.92,991.40 406.36,991.40 406.81,991.40 407.26,991.40 407.71,991.40 408.16,991.40 408.61,991.40 409.05,991.40 409.50,991.40 409.95,991.40 410.40,991.40 410.85,991.40 411.29,991.40 411.74,991.40 412.19,991.40 412.64,991.40 413.09,991.40 413.54,991.40 413.98,991.40 414.43,991.40 414.88,991.40 415.33,991.40 415.78,991.40 416.22,991.40 416.67,991.40 417.12,991.40 417.57,991.40 418.02,991.40 418.47,991.40 418.91,991.40 419.36,991.40 419.81,991.40 420.26,991.40 420.71,991.40 421.15,991.40 421.60,991.40 422.05,991.40 422.50,991.40 422.95,991.40 423.40,991.40 423.84,991.40 424.29,991.40 424.74,991.40 425.19,991.40 425.64,991.40 426.08,991.40 426.53,991.40 426.98,991.40 427.43,991.40 427.88,991.40 428.32,991.40 428.77,991.40 429.22,991.40 429.67,991.40 430.12,991.40 430.57,991.40 431.01,991.40 431.46,991.40 431.91,991.40 432.36,991.40 432.81,991.40 433.25,991.40 433.70,991.40 434.15,991.40 434.60,991.40 435.05,991.40 435.50,991.40 435.94,991.40 436.39,991.40 436.84,991.40 437.29,991.40 437.74,991.40 438.18,991.40 438.63,991.40 439.08,991.40 439.53,991.40 439.98,991.40 440.43,991.40 440.87,991.40 441.32,991.40 441.77,991.40 442.22,991.40 442.67,991.40 443.11,991.40 443.56,991.40 444.01,991.40 444.46,991.40 444.91,991.40 445.36,991.40 445.80,991.40 446.25,991.40 446.70,991.40 447.15,991.40 447.60,991.40 448.04,991.40 448.49,991.40 448.94,991.40 449.39,991.40 449.84,991.40 450.29,991.40 450.73,991.40 451.18,991.40 451.63,991.40 452.08,991.40 452.53,991.40 452.97,991.40 453.42,991.40 453.87,991.40 454.32,991.40 454.77,991.40 455.21,991.40 455.66,991.40 456.11,991.40 456.56,991.40 457.01,991.40 457.46,991.40 457.90,991.40 458.35,991.40 458.80,991.40 459.25,991.40 459.70,991.40 460.14,991.40 460.59,991.40 461.04,991.40 461.49,991.40 461.94,991.40 462.39,991.40 462.83,991.40 463.28,991.40 463.73,991.40 464.18,991.40 464.63,991.40 465.07,991.40 465.52,991.40 465.97,991.40 466.42,991.40 466.87,991.40 467.32,991.40 467.76,991.40 468.21,991.40 468.66,991.40 469.11,991.40 469.56,991.40 470.00,991.40 470.45,991.40 470.90,991.40 471.35,991.40 471.80,991.40 472.25,991.40 472.69,991.40 473.14,991.40 473.59,991.40 474.04,991.40 474.49,991.40 474.93,991.40 475.38,991.40 475.83,991.40 476.28,991.40 476.73,991.40 477.18,991.40 477.62,991.40 478.07,991.40 478.52,991.40 478.97,991.40 479.42,991.40 479.86,991.40 480.31,991.40 480.76,991.40 481.21,991.40 481.66,991.40 482.11,991.40 482.55,991.40 483.00,991.40 483.45,991.40 483.90,991.40 484.35,991.40 484.79,991.40 485.24,991.40 485.69,991.40 486.14,991.40 486.59,991.40 487.03,991.40 487.48,991.40 487.93,991.40 488.38,991.40 488.83,991.40 489.28,991.40 489.72,991.40 490.17,991.40 490.62,991.40 491.07,991.40 491.52,991.40 491.96,991.40 492.41,991.40 492.86,991.40 493.31,991.40 493.76,991.40 494.21,991.40 494.65,991.40 495.10,991.40 495.55,991.40 496.00,991.40 496.45,991.40 496.89,991.40 497.34,991.40 497.79,991.40 498.24,991.40 498.69,991.40 499.14,991.40 499.58,991.40 500.03,991.40 500.48,991.40 500.93,991.40 501.38,991.40 501.82,991.40 502.27,991.40 502.72,991.40 503.17,991.40 503.62,991.40 504.07,991.40 504.51,991.40 504.96,991.40 505.41,991.40 505.86,991.40 506.31,991.40 506.75,991.40 507.20,991.40 507.65,991.40 508.10,991.40 508.55,991.40 509.00,991.40 509.44,991.40 509.89,991.40 510.34,991.40 510.79,991.40 511.24,991.40 511.68,991.40 512.13,991.40 512.58,991.40 513.03,991.40 513.48,991.40 513.92,991.40 514.37,991.40 514.82,991.40 515.27,991.40 515.72,991.40 516.17,991.40 516.61,991.40 517.06,991.40 517.51,991.40 517.96,991.40 518.41,991.40 518.85,991.40 519.30,991.40 519.75,991.40 520.20,991.40 520.65,991.40 521.10,991.40 521.54,991.40 521.99,991.40 522.44,991.40 522.89,991.40 523.34,991.40 523.78,991.40 524.23,991.40 524.68,991.40 525.13,991.40 525.58,991.40 526.03,991.40 526.47,991.40 526.92,991.40 527.37,991.40 527.82,991.40 528.27,991.40 528.71,991.40 529.16,991.40 529.61,991.40 530.06,991.40 530.51,991.40 530.96,991.40 531.40,991.40 531.85,991.40 532.30,991.40 532.75,991.40 533.20,991.40 533.64,991.40 534.09,991.40 534.54,991.40 534.99,991.40 535.44,991.40 535.88,991.40 536.33,991.40 536.78,991.40 537.23,991.40 537.68,991.40 538.13,991.40 538.57,991.40 539.02,991.40 539.47,991.40 539.92,991.40 540.37,991.40 540.81,991.40 541.26,991.40 541.71,991.40 542.16,991.40 542.61,991.40 543.06,991.40 543.50,991.40 543.95,991.40 544.40,991.40 544.85,991.40 545.30,991.40 545.74,991.40 546.19,991.40 546.64,991.40 547.09,991.40 547.54,991.40 547.99,991.40 548.43,991.40 548.88,991.40 549.33,991.40 549.78,991.40 550.23,991.40 550.67,991.40 551.12,991.40 551.57,991.40 552.02,991.40 552.47,991.40 552.92,991.40 553.36,991.40 553.81,991.40 554.26,991.40 554.71,991.40 555.16,991.40 555.60,991.40 556.05,991.40 556.50,991.40 556.95,991.40 557.40,991.40 557.85,991.40 558.29,991.40 558.74,991.40 559.19,991.40 559.64,991.40 560.09,991.40 560.53,991.40 560.98,991.40 561.43,991.40 561.88,991.40 562.33,991.40 562.77,991.40 563.22,991.40 563.67,991.40 564.12,991.40 564.57,991.40 565.02,991.40 565.46,991.40 565.91,991.40 566.36,991.40 566.81,991.40 567.26,991.40 567.70,991.40 568.15,991.40 568.60,991.40 569.05,991.40 569.50,991.40 569.95,991.40 570.39,991.40 570.84,991.40 571.29,991.40 571.74,991.40 572.19,991.40 572.63,991.40 573.08,991.40 573.53,991.40 573.98,991.40 574.43,991.40 574.88,991.40 575.32,991.40 575.77,991.40 576.22,991.40 576.67,991.40 577.12,991.40 577.56,991.40 578.01,991.40 578.46,991.40 578.91,991.40 579.36,991.40 579.81,991.40 580.25,991.40 580.70,991.40 581.15,991.40 581.60,991.40 582.05,991.40 582.49,991.40 582.94,991.40 583.39,991.40 583.84,991.40 584.29,991.40 584.74,991.40 585.18,991.40 585.63,991.40 586.08,991.40 586.53,991.40 586.98,991.40 587.42,991.40 587.87,991.40 588.32,991.40 588.77,991.40 589.22,991.40 589.67,991.40 590.11,991.40 590.56,991.40 591.01,991.40 591.46,991.40 591.91,991.40 592.35,991.40 592.80,991.40 593.25,991.40 593.70,991.40 594.15,991.40 594.59,991.40 595.04,991.40 595.49,991.40 595.94,991.40 596.39,991.40 596.84,991.40 597.28,991.40 597.73,991.40 598.18,991.40 598.63,991.40 599.08,991.40 599.52,991.40 599.97,991.40 600.42,991.40 600.87,991.40 601.32,991.40 601.77,991.40 602.21,991.40 602.66,991.40 603.11,991.40 603.56,991.40 604.01,991.40 604.45,991.40 604.90,991.40 605.35,991.40 605.80,991.40 606.25,991.40 606.70,991.40 607.14,991.40 607.59,991.40 608.04,991.40 608.49,991.40 608.94,991.40 609.38,991.40 609.83,991.40 610.28,991.40 610.73,991.40 611.18,991.40 611.63,991.40 612.07,991.40 612.52,991.40 612.97,991.40 613.42,991.40 613.87,991.40 614.31,991.40 614.76,991.40 615.21,991.40 615.66,991.40 616.11,991.40 616.56,991.40 617.00,991.40 617.45,991.40 617.90,991.40 618.35,991.40 618.80,991.40 619.24,991.40 619.69,991.40 620.14,991.40 620.59,991.40 621.04,991.40 621.48,991.40 621.93,991.40 622.38,991.40 622.83,991.40 623.28,991.40 623.73,991.40 624.17,991.40 624.62,991.40 625.07,991.40 625.52,991.40 625.97,991.40 626.41,991.40 626.86,991.40 627.31,991.40 627.76,991.40 628.21,991.40 628.66,991.40 629.10,991.40 629.55,991.40 630.00,991.40"/>
<polyline fill="none" stroke="#5858ff" stroke-width="1.1" stroke-linejoin="round" points="92.20,989.52 92.65,989.54 93.10,989.56 93.54,989.58 93.99,989.60 94.44,989.62 94.89,989.63 95.34,989.65 95.79,989.67 96.23,989.69 96.68,989.71 97.13,989.72 97.58,989.74 98.03,989.76 98.47,989.78 98.92,989.79 99.37,989.81 99.82,989.83 100.27,989.84 100.72,989.86 101.16,989.88 101.61,989.89 102.06,989.91 102.51,989.92 102.96,989.94 103.40,989.95 103.85,989.97 104.30,989.98 104.75,990.00 105.20,990.01 105.65,990.02 106.09,990.04 106.54,990.05 106.99,990.06 107.44,990.07 107.89,990.08 108.33,990.10 108.78,990.11 109.23,990.12 109.68,990.13 110.13,990.14 110.57,990.15 111.02,990.15 111.47,990.16 111.92,990.17 112.37,990.18 112.82,990.19 113.26,990.19 113.71,990.20 114.16,990.20 114.61,990.21 115.06,990.21 115.50,990.22 115.95,990.22 116.40,990.23 116.85,990.23 117.30,990.23 117.75,990.23 118.19,990.23 118.64,990.24 119.09,990.24 119.54,990.24 119.99,990.23 120.43,990.23 120.88,990.23 121.33,990.23 121.78,990.23 122.23,990.23 122.68,990.23 123.12,990.23 123.57,990.23 124.02,990.23 124.47,990.22 124.92,990.22 125.36,990.22 125.81,990.22 126.26,990.22 126.71,990.22 127.16,990.21 127.61,990.21 128.05,990.21 128.50,990.21 128.95,990.20 129.40,990.20 129.85,990.20 130.29,990.20 130.74,990.19 131.19,990.19 131.64,990.19 132.09,990.18 132.53,990.18 132.98,990.18 133.43,990.17 133.88,990.17 134.33,990.17 134.78,990.16 135.22,990.16 135.67,990.15 136.12,990.15 136.57,990.15 137.02,990.14 137.46,990.14 137.91,990.13 138.36,990.13 138.81,990.12 139.26,990.12 139.71,990.12 140.15,990.11 140.60,990.11 141.05,990.10 141.50,990.10 141.95,990.09 142.39,990.09 142.84,990.08 143.29,990.08 143.74,990.07 144.19,990.07 144.64,990.06 145.08,990.06 145.53,990.05 145.98,990.05 146.43,990.04 146.88,990.04 147.32,990.03 147.77,990.03 148.22,990.02 148.67,990.01 149.12,990.01 149.57,990.00 150.01,990.00 150.46,989.99 150.91,989.99 151.36,989.98 151.81,989.97 152.25,989.96 152.70,989.95 153.15,989.94 153.60,989.93 154.05,989.92 154.50,989.91 154.94,989.90 155.39,989.89 155.84,989.88 156.29,989.87 156.74,989.85 157.18,989.84 157.63,989.82 158.08,989.81 158.53,989.80 158.98,989.78 159.43,989.76 159.87,989.75 160.32,989.73 160.77,989.72 161.22,989.70 161.67,989.68 162.11,989.66 162.56,989.65 163.01,989.63 163.46,989.61 163.91,989.59 164.35,989.57 164.80,989.55 165.25,989.53 165.70,989.51 166.15,989.49 166.60,989.47 167.04,989.45 167.49,989.43 167.94,989.41 168.39,989.39 168.84,989.37 169.28,989.35 169.73,989.33 170.18,989.31 170.63,989.29 171.08,989.27 171.53,989.24 171.97,989.22 172.42,989.20 172.87,989.18 173.32,989.16 173.77,989.14 174.21,989.12 174.66,989.09 175.11,989.07 175.56,989.05 176.01,989.03 176.46,989.01 176.90,988.99 177.35,988.96 177.80,988.94 178.25,988.92 178.70,988.90 179.14,988.88 179.59,988.86 180.04,988.84 180.49,988.82 180.94,988.80 181.39,988.78 181.83,988.76 182.28,988.74 182.73,988.72 183.18,988.70 183.63,988.68 184.07,988.66 184.52,988.64 184.97,988.62 185.42,988.61 185.87,988.59 186.31,988.57 186.76,988.55 187.21,988.53 187.66,988.52 188.11,988.50 188.56,988.48 189.00,988.46 189.45,988.44 189.90,988.42 190.35,988.40 190.80,988.38 191.24,988.35 191.69,988.33 192.14,988.31 192.59,988.29 193.04,988.27 193.49,988.25 193.93,988.22 194.38,988.20 194.83,988.18 195.28,988.16 195.73,988.14 196.17,988.12 196.62,988.09 197.07,988.07 197.52,988.05 197.97,988.03 198.42,988.01 198.86,987.99 199.31,987.97 199.76,987.95 200.21,987.93 200.66,987.91 201.10,987.89 201.55,987.86 202.00,987.84 202.45,987.82 202.90,987.80 203.35,987.78 203.79,987.76 204.24,987.74 204.69,987.72 205.14,987.69 205.59,987.67 206.03,987.64 206.48,987.62 206.93,987.59 207.38,987.56 207.83,987.52 208.28,987.49 208.72,987.45 209.17,987.41 209.62,987.36 210.07,987.31 210.52,987.26 210.96,987.20 211.41,987.14 211.86,987.07 212.31,986.99 212.76,986.92 213.20,986.83 213.65,986.75 214.10,986.66 214.55,986.56 215.00,986.46 215.45,986.36 215.89,986.25 216.34,986.15 216.79,986.04 217.24,985.93 217.69,985.83 218.13,985.72 218.58,985.62 219.03,985.52 219.48,985.42 219.93,985.34 220.38,985.26 220.82,985.19 221.27,985.13 221.72,985.08 222.17,985.04 222.62,985.02 223.06,985.00 223.51,985.01 223.96,985.02 224.41,985.05 224.86,985.09 225.31,985.15 225.75,985.21 226.20,985.28 226.65,985.36 227.10,985.45 227.55,985.54 227.99,985.64 228.44,985.74 228.89,985.85 229.34,985.95 229.79,986.05 230.24,986.16 230.68,986.26 231.13,986.36 231.58,986.45 232.03,986.54 232.48,986.63 232.92,986.71 233.37,986.79 233.82,986.87 234.27,986.94 234.72,987.00 235.17,987.06 235.61,987.11 236.06,987.16 236.51,987.21 236.96,987.24 237.41,987.28 237.85,987.31 238.30,987.33 238.75,987.35 239.20,987.37 239.65,987.38 240.10,987.40 240.54,987.40 240.99,987.41 241.44,987.41 241.89,987.41 242.34,987.41 242.78,987.41 243.23,987.41 243.68,987.40 244.13,987.40 244.58,987.39 245.02,987.38 245.47,987.37 245.92,987.36 246.37,987.35 246.82,987.34 247.27,987.32 247.71,987.31 248.16,987.30 248.61,987.28 249.06,987.27 249.51,987.25 249.95,987.24 250.40,987.22 250.85,987.21 251.30,987.19 251.75,987.18 252.20,987.16 252.64,987.15 253.09,987.13 253.54,987.11 253.99,987.10 254.44,987.08 254.88,987.06 255.33,987.04 255.78,987.03 256.23,987.01 256.68,986.99 257.13,986.98 257.57,986.96 258.02,986.94 258.47,986.92 258.92,986.91 259.37,986.89 259.81,986.87 260.26,986.85 260.71,986.84 261.16,986.82 261.61,986.80 262.06,986.78 262.50,986.76 262.95,986.74 263.40,986.73 263.85,986.71 264.30,986.69 264.74,986.67 265.19,986.65 265.64,986.63 266.09,986.61 266.54,986.59 266.99,986.57 267.43,986.55 267.88,986.53 268.33,986.51 268.78,986.48 269.23,986.46 269.67,986.44 270.12,986.42 270.57,986.40 271.02,986.37 271.47,986.35 271.91,986.32 272.36,986.30 272.81,986.27 273.26,986.25 273.71,986.22 274.16,986.19 274.60,986.16 275.05,986.13 275.50,986.10 275.95,986.07 276.40,986.03 276.84,986.00 277.29,985.96 277.74,985.91 278.19,985.87 278.64,985.82 279.09,985.76 279.53,985.70 279.98,985.63 280.43,985.56 280.88,985.48 281.33,985.38 281.77,985.28 282.22,985.17 282.67,985.04 283.12,984.89 283.57,984.74 284.02,984.56 284.46,984.37 284.91,984.15 285.36,983.92 285.81,983.66 286.26,983.38 286.70,983.08 287.15,982.76 287.60,982.42 288.05,982.06 288.50,981.67 288.95,981.27 289.39,980.85 289.84,980.43 290.29,979.99 290.74,979.54 291.19,979.10 291.63,978.66 292.08,978.22 292.53,977.81 292.98,977.41 293.43,977.04 293.88,976.71 294.32,976.41 294.77,976.16 295.22,975.97 295.67,975.83 296.12,975.75 296.56,975.72 297.01,975.76 297.46,975.86 297.91,976.02 298.36,976.22 298.80,976.47 299.25,976.76 299.70,977.08 300.15,977.43 300.60,977.79 301.05,978.17 301.49,978.56 301.94,978.95 302.39,979.34 302.84,979.72 303.29,980.09 303.73,980.44 304.18,980.78 304.63,981.10 305.08,981.40 305.53,981.68 305.98,981.93 306.42,982.16 306.87,982.37 307.32,982.55 307.77,982.71 308.22,982.84 308.66,982.96 309.11,983.05 309.56,983.12 310.01,983.18 310.46,983.21 310.91,983.23 311.35,983.24 311.80,983.22 312.25,983.20 312.70,983.15 313.15,983.10 313.59,983.03 314.04,982.95 314.49,982.86 314.94,982.75 315.39,982.63 315.84,982.50 316.28,982.36 316.73,982.20 317.18,982.03 317.63,981.84 318.08,981.64 318.52,981.43 318.97,981.19 319.42,980.94 319.87,980.68 320.32,980.39 320.76,980.09 321.21,979.77 321.66,979.43 322.11,979.07 322.56,978.69 323.01,978.28 323.45,977.85 323.90,977.40 324.35,976.92 324.80,976.40 325.25,975.86 325.69,975.28 326.14,974.66 326.59,973.99 327.04,973.27 327.49,972.50 327.94,971.65 328.38,970.74 328.83,969.74 329.28,968.65 329.73,967.46 330.18,966.15 330.62,964.71 331.07,963.13 331.52,961.40 331.97,959.52 332.42,957.46 332.87,955.24 333.31,952.84 333.76,950.27 334.21,947.53 334.66,944.63 335.11,941.60 335.55,938.45 336.00,935.21 336.45,931.91 336.90,928.60 337.35,925.32 337.80,922.11 338.24,919.03 338.69,916.11 339.14,913.43 339.59,911.02 340.04,908.93 340.48,907.19 340.93,905.85 341.38,904.94 341.83,904.46 342.28,904.45 342.73,905.05 343.17,906.23 343.62,907.98 344.07,910.25 344.52,912.99 344.97,916.12 345.41,919.59 345.86,923.31 346.31,927.22 346.76,931.23 347.21,935.27 347.66,939.28 348.10,943.20 348.55,946.98 349.00,950.57 349.45,953.94 349.90,957.06 350.34,959.92 350.79,962.51 351.24,964.83 351.69,966.89 352.14,968.69 352.58,970.25 353.03,971.58 353.48,972.72 353.93,973.66 354.38,974.45 354.83,975.08 355.27,975.60 355.72,976.00 356.17,976.32 356.62,976.55 357.07,976.72 357.51,976.84 357.96,976.92 358.41,976.96 358.86,976.98 359.31,976.97 359.76,976.94 360.20,976.90 360.65,976.85 361.10,976.78 361.55,976.71 362.00,976.63 362.44,976.54 362.89,976.45 363.34,976.36 363.79,976.26 364.24,976.17 364.69,976.07 365.13,975.98 365.58,975.89 366.03,975.80 366.48,975.72 366.93,975.64 367.37,975.56 367.82,975.49 368.27,975.42 368.72,975.36 369.17,975.28 369.62,975.21 370.06,975.14 370.51,975.07 370.96,975.01 371.41,974.94 371.86,974.87 372.30,974.81 372.75,974.75 373.20,974.70 373.65,974.65 374.10,974.61 374.55,974.57 374.99,974.54 375.44,974.51 375.89,974.49 376.34,974.49 376.79,974.51 377.23,974.56 377.68,974.62 378.13,974.70 378.58,974.80 379.03,974.91 379.47,975.04 379.92,975.18 380.37,975.33 380.82,975.48 381.27,975.65 381.72,975.82 382.16,975.99 382.61,976.17 383.06,976.34 383.51,976.52 383.96,976.69 384.40,976.85 384.85,977.01 385.30,977.16 385.75,977.30 386.20,977.43 386.65,977.54 387.09,977.64 387.54,977.72 387.99,977.78 388.44,977.81 388.89,977.82 389.33,977.81 389.78,977.80 390.23,977.77 390.68,977.73 391.13,977.69 391.58,977.64 392.02,977.57 392.47,977.50 392.92,977.41 393.37,977.30 393.82,977.18 394.26,977.04 394.71,976.89 395.16,976.71 395.61,976.52 396.06,976.30 396.51,976.05 396.95,975.79 397.40,975.49 397.85,975.18 398.30,974.83 398.75,974.45 399.19,974.05 399.64,973.62 400.09,973.15 400.54,972.66 400.99,972.14 401.44,971.60 401.88,971.03 402.33,970.43 402.78,969.82 403.23,969.18 403.68,968.53 404.12,967.86 404.57,967.19 405.02,966.51 405.47,965.83 405.92,965.15 406.36,964.48 406.81,963.83 407.26,963.20 407.71,962.60 408.16,962.03 408.61,961.50 409.05,961.02 409.50,960.59 409.95,960.22 410.40,959.92 410.85,959.68 411.29,959.52 411.74,959.43 412.19,959.42 412.64,959.53 413.09,959.74 413.54,960.06 413.98,960.47 414.43,960.97 414.88,961.55 415.33,962.19 415.78,962.88 416.22,963.61 416.67,964.37 417.12,965.14 417.57,965.93 418.02,966.71 418.47,967.49 418.91,968.24 419.36,968.98 419.81,969.68 420.26,970.36 420.71,970.99 421.15,971.58 421.60,972.13 422.05,972.64 422.50,973.10 422.95,973.52 423.40,973.89 423.84,974.22 424.29,974.51 424.74,974.75 425.19,974.96 425.64,975.13 426.08,975.26 426.53,975.36 426.98,975.43 427.43,975.47 427.88,975.48 428.32,975.47 428.77,975.43 429.22,975.37 429.67,975.29 430.12,975.19 430.57,975.06 431.01,974.91 431.46,974.74 431.91,974.55 432.36,974.33 432.81,974.08 433.25,973.81 433.70,973.50 434.15,973.15 434.60,972.76 435.05,972.32 435.50,971.82 435.94,971.25 436.39,970.60 436.84,969.86 437.29,969.02 437.74,968.06 438.18,966.95 438.63,965.68 439.08,964.23 439.53,962.57 439.98,960.67 440.43,958.51 440.87,956.04 441.32,953.24 441.77,950.08 442.22,946.51 442.67,942.50 443.11,938.01 443.56,933.01 444.01,927.47 444.46,921.35 444.91,914.63 445.36,907.28 445.80,899.31 446.25,890.68 446.70,881.41 447.15,871.51 447.60,860.99 448.04,849.90 448.49,838.26 448.94,826.15 449.39,813.62 449.84,800.77 450.29,787.68 450.73,774.48 451.18,761.27 451.63,748.21 452.08,735.44 452.53,723.11 452.97,711.41 453.42,700.50 453.87,690.56 454.32,681.78 454.77,674.32 455.21,668.34 455.66,663.96 456.11,661.30 456.56,660.41 457.01,661.31 457.46,663.98 457.90,668.36 458.35,674.35 458.80,681.82 459.25,690.61 459.70,700.56 460.14,711.47 460.59,723.19 461.04,735.52 461.49,748.30 461.94,761.38 462.39,774.59 462.83,787.80 463.28,800.90 463.73,813.76 464.18,826.29 464.63,838.42 465.07,850.06 465.52,861.17 465.97,871.69 466.42,881.61 466.87,890.89 467.32,899.52 467.76,907.51 468.21,914.86 468.66,921.59 469.11,927.72 469.56,933.28 470.00,938.29 470.45,942.79 470.90,946.81 471.35,950.39 471.80,953.57 472.25,956.38 472.69,958.85 473.14,961.03 473.59,962.94 474.04,964.61 474.49,966.07 474.93,967.35 475.38,968.47 475.83,969.44 476.28,970.29 476.73,971.03 477.18,971.67 477.62,972.24 478.07,972.73 478.52,973.16 478.97,973.54 479.42,973.87 479.86,974.15 480.31,974.39 480.76,974.59 481.21,974.74 481.66,974.86 482.11,974.94 482.55,974.98 483.00,974.97 483.45,974.92 483.90,974.83 484.35,974.68 484.79,974.49 485.24,974.24 485.69,973.94 486.14,973.59 486.59,973.18 487.03,972.72 487.48,972.21 487.93,971.65 488.38,971.06 488.83,970.42 489.28,969.76 489.72,969.07 490.17,968.38 490.62,967.69 491.07,967.00 491.52,966.35 491.96,965.74 492.41,965.19 492.86,964.71 493.31,964.32 493.76,964.04 494.21,963.87 494.65,963.83 495.10,963.92 495.55,964.14 496.00,964.49 496.45,964.97 496.89,965.56 497.34,966.25 497.79,967.02 498.24,967.86 498.69,968.75 499.14,969.69 499.58,970.64 500.03,971.60 500.48,972.56 500.93,973.51 501.38,974.43 501.82,975.33 502.27,976.18 502.72,977.00 503.17,977.77 503.62,978.49 504.07,979.16 504.51,979.78 504.96,980.36 505.41,980.88 505.86,981.36 506.31,981.79 506.75,982.19 507.20,982.54 507.65,982.86 508.10,983.15 508.55,983.42 509.00,983.65 509.44,983.87 509.89,984.06 510.34,984.24 510.79,984.40 511.24,984.55 511.68,984.69 512.13,984.81 512.58,984.93 513.03,985.04 513.48,985.15 513.92,985.25 514.37,985.34 514.82,985.43 515.27,985.52 515.72,985.60 516.17,985.68 516.61,985.75 517.06,985.83 517.51,985.89 517.96,985.96 518.41,986.03 518.85,986.09 519.30,986.15 519.75,986.22 520.20,986.28 520.65,986.34 521.10,986.40 521.54,986.46 521.99,986.52 522.44,986.58 522.89,986.64 523.34,986.70 523.78,986.75 524.23,986.81 524.68,986.87 525.13,986.92 525.58,986.97 526.03,987.03 526.47,987.08 526.92,987.13 527.37,987.18 527.82,987.23 528.27,987.28 528.71,987.33 529.16,987.38 529.61,987.43 530.06,987.47 530.51,987.52 530.96,987.56 531.40,987.60 531.85,987.65 532.30,987.69 532.75,987.73 533.20,987.77 533.64,987.81 534.09,987.84 534.54,987.88 534.99,987.92 535.44,987.95 535.88,987.98 536.33,988.02 536.78,988.05 537.23,988.08 537.68,988.10 538.13,988.13 538.57,988.16 539.02,988.18 539.47,988.21 539.92,988.23 540.37,988.25 540.81,988.27 541.26,988.29 541.71,988.30 542.16,988.32 542.61,988.34 543.06,988.35 543.50,988.37 543.95,988.38 544.40,988.40 544.85,988.42 545.30,988.43 545.74,988.45 546.19,988.46 546.64,988.48 547.09,988.49 547.54,988.51 547.99,988.52 548.43,988.53 548.88,988.55 549.33,988.56 549.78,988.57 550.23,988.59 550.67,988.60 551.12,988.61 551.57,988.63 552.02,988.64 552.47,988.65 552.92,988.66 553.36,988.67 553.81,988.69 554.26,988.70 554.71,988.71 555.16,988.72 555.60,988.73 556.05,988.74 556.50,988.75 556.95,988.76 557.40,988.77 557.85,988.78 558.29,988.79 558.74,988.80 559.19,988.81 559.64,988.82 560.09,988.83 560.53,988.84 560.98,988.85 561.43,988.86 561.88,988.87 562.33,988.88 562.77,988.88 563.22,988.89 563.67,988.90 564.12,988.91 564.57,988.92 565.02,988.92 565.46,988.93 565.91,988.94 566.36,988.94 566.81,988.95 567.26,988.96 567.70,988.96 568.15,988.97 568.60,988.97 569.05,988.98 569.50,988.99 569.95,988.99 570.39,989.00 570.84,989.00 571.29,989.01 571.74,989.01 572.19,989.01 572.63,989.02 573.08,989.02 573.53,989.03 573.98,989.03 574.43,989.03 574.88,989.04 575.32,989.04 575.77,989.04 576.22,989.05 576.67,989.05 577.12,989.05 577.56,989.05 578.01,989.06 578.46,989.06 578.91,989.06 579.36,989.06 579.81,989.06 580.25,989.06 580.70,989.06 581.15,989.07 581.60,989.07 582.05,989.07 582.49,989.07 582.94,989.07 583.39,989.07 583.84,989.07 584.29,989.07 584.74,989.07 585.18,989.07 585.63,989.07 586.08,989.07 586.53,989.07 586.98,989.07 587.42,989.07 587.87,989.07 588.32,989.07 588.77,989.07 589.22,989.06 589.67,989.06 590.11,989.06 590.56,989.06 591.01,989.06 591.46,989.06 591.91,989.06 592.35,989.06 592.80,989.06 593.25,989.06 593.70,989.06 594.15,989.05 594.59,989.05 595.04,989.05 595.49,989.05 595.94,989.05 596.39,989.05 596.84,989.05 597.28,989.05 597.73,989.05 598.18,989.05 598.63,989.05 599.08,989.04 599.52,989.04 599.97,989.04 600.42,989.04 600.87,989.04 601.32,989.04 601.77,989.04 602.21,989.04 602.66,989.04 603.11,989.04 603.56,989.04 604.01,989.04 604.45,989.04 604.90,989.04 605.35,989.04 605.80,989.04 606.25,989.04 606.70,989.04 607.14,989.04 607.59,989.04 608.04,989.05 608.49,989.05 608.94,989.05 609.38,989.05 609.83,989.05 610.28,989.06 610.73,989.06 611.18,989.07 611.63,989.07 612.07,989.08 612.52,989.09 612.97,989.10 613.42,989.11 613.87,989.12 614.31,989.13 614.76,989.14 615.21,989.15 615.66,989.16 616.11,989.17 616.56,989.18 617.00,989.20 617.45,989.21 617.90,989.22 618.35,989.24 618.80,989.25 619.24,989.27 619.69,989.29 620.14,989.30 620.59,989.32 621.04,989.33 621.48,989.35 621.93,989.37 622.38,989.39 622.83,989.41 623.28,989.42 623.73,989.44 624.17,989.46 624.62,989.48 625.07,989.50 625.52,989.52 625.97,989.54 626.41,989.56 626.86,989.58 627.31,989.59 627.76,989.61 628.21,989.63 628.66,989.65 629.10,989.67 629.55,989.69 630.00,989.71"/>
<polyline fill="none" stroke="#58b558" stroke-width="1.1" stroke-linejoin="round" points="92.20,983.24 92.65,983.24 93.10,983.24 93.54,983.24 93.99,983.24 94.44,983.24 94.89,983.23 95.34,983.23 95.79,983.23 96.23,983.22 96.68,983.22 97.13,983.21 97.58,983.20 98.03,983.20 98.47,983.19 98.92,983.18 99.37,983.16 99.82,983.15 100.27,983.13 100.72,983.11 101.16,983.08 101.61,983.05 102.06,983.02 102.51,982.98 102.96,982.94 103.40,982.90 103.85,982.84 104.30,982.79 104.75,982.72 105.20,982.65 105.65,982.58 106.09,982.50 106.54,982.41 106.99,982.32 107.44,982.22 107.89,982.12 108.33,982.02 108.78,981.92 109.23,981.82 109.68,981.71 110.13,981.61 110.57,981.52 111.02,981.43 111.47,981.35 111.92,981.28 112.37,981.23 112.82,981.19 113.26,981.16 113.71,981.15 114.16,981.16 114.61,981.18 115.06,981.22 115.50,981.28 115.95,981.34 116.40,981.42 116.85,981.51 117.30,981.60 117.75,981.70 118.19,981.80 118.64,981.90 119.09,982.00 119.54,982.10 119.99,982.20 120.43,982.29 120.88,982.38 121.33,982.47 121.78,982.54 122.23,982.62 122.68,982.69 123.12,982.75 123.57,982.80 124.02,982.86 124.47,982.90 124.92,982.94 125.36,982.98 125.81,983.01 126.26,983.03 126.71,983.05 127.16,983.06 127.61,983.06 128.05,983.05 128.50,983.04 128.95,983.03 129.40,983.01 129.85,982.98 130.29,982.95 130.74,982.92 131.19,982.88 131.64,982.84 132.09,982.79 132.53,982.74 132.98,982.69 133.43,982.64 133.88,982.59 134.33,982.53 134.78,982.47 135.22,982.41 135.67,982.35 136.12,982.28 136.57,982.22 137.02,982.15 137.46,982.09 137.91,982.02 138.36,981.95 138.81,981.88 139.26,981.81 139.71,981.74 140.15,981.68 140.60,981.61 141.05,981.54 141.50,981.47 141.95,981.40 142.39,981.34 142.84,981.27 143.29,981.21 143.74,981.15 144.19,981.08 144.64,981.03 145.08,980.97 145.53,980.91 145.98,980.86 146.43,980.80 146.88,980.76 147.32,980.71 147.77,980.66 148.22,980.62 148.67,980.58 149.12,980.55 149.57,980.51 150.01,980.49 150.46,980.46 150.91,980.43 151.36,980.40 151.81,980.38 152.25,980.35 152.70,980.33 153.15,980.30 153.60,980.27 154.05,980.25 154.50,980.22 154.94,980.20 155.39,980.17 155.84,980.15 156.29,980.12 156.74,980.10 157.18,980.07 157.63,980.05 158.08,980.02 158.53,979.99 158.98,979.97 159.43,979.94 159.87,979.91 160.32,979.88 160.77,979.86 161.22,979.83 161.67,979.79 162.11,979.76 162.56,979.73 163.01,979.69 163.46,979.65 163.91,979.61 164.35,979.57 164.80,979.52 165.25,979.48 165.70,979.42 166.15,979.36 166.60,979.30 167.04,979.23 167.49,979.16 167.94,979.08 168.39,978.99 168.84,978.89 169.28,978.79 169.73,978.67 170.18,978.54 170.63,978.41 171.08,978.26 171.53,978.10 171.97,977.92 172.42,977.73 172.87,977.53 173.32,977.31 173.77,977.07 174.21,976.82 174.66,976.55 175.11,976.27 175.56,975.97 176.01,975.65 176.46,975.32 176.90,974.98 177.35,974.62 177.80,974.24 178.25,973.86 178.70,973.46 179.14,973.06 179.59,972.64 180.04,972.23 180.49,971.81 180.94,971.39 181.39,970.98 181.83,970.58 182.28,970.18 182.73,969.80 183.18,969.44 183.63,969.10 184.07,968.79 184.52,968.51 184.97,968.26 185.42,968.05 185.87,967.88 186.31,967.76 186.76,967.68 187.21,967.64 187.66,967.65 188.11,967.71 188.56,967.82 189.00,967.96 189.45,968.15 189.90,968.37 190.35,968.63 190.80,968.91 191.24,969.22 191.69,969.55 192.14,969.89 192.59,970.25 193.04,970.62 193.49,970.99 193.93,971.36 194.38,971.74 194.83,972.11 195.28,972.47 195.73,972.83 196.17,973.17 196.62,973.51 197.07,973.83 197.52,974.14 197.97,974.43 198.42,974.70 198.86,974.96 199.31,975.20 199.76,975.42 200.21,975.62 200.66,975.81 201.10,975.97 201.55,976.12 202.00,976.25 202.45,976.36 202.90,976.46 203.35,976.54 203.79,976.61 204.24,976.66 204.69,976.70 205.14,976.73 205.59,976.74 206.03,976.74 206.48,976.73 206.93,976.71 207.38,976.68 207.83,976.64 208.28,976.59 208.72,976.53 209.17,976.46 209.62,976.38 210.07,976.29 210.52,976.19 210.96,976.07 211.41,975.95 211.86,975.80 212.31,975.64 212.76,975.47 213.20,975.27 213.65,975.05 214.10,974.80 214.55,974.52 215.00,974.21 215.45,973.86 215.89,973.47 216.34,973.03 216.79,972.54 217.24,972.00 217.69,971.39 218.13,970.71 218.58,969.97 219.03,969.14 219.48,968.24 219.93,967.26 220.38,966.19 220.82,965.03 221.27,963.79 221.72,962.46 222.17,961.05 222.62,959.56 223.06,958.01 223.51,956.39 223.96,954.71 224.41,953.00 224.86,951.26 225.31,949.52 225.75,947.78 226.20,946.08 226.65,944.43 227.10,942.86 227.55,941.40 227.99,940.07 228.44,938.90 228.89,937.92 229.34,937.15 229.79,936.61 230.24,936.31 230.68,936.25 231.13,936.44 231.58,936.87 232.03,937.53 232.48,938.39 232.92,939.43 233.37,940.62 233.82,941.94 234.27,943.36 234.72,944.86 235.17,946.40 235.61,947.96 236.06,949.52 236.51,951.07 236.96,952.58 237.41,954.04 237.85,955.44 238.30,956.77 238.75,958.00 239.20,959.15 239.65,960.19 240.10,961.14 240.54,961.97 240.99,962.70 241.44,963.32 241.89,963.83 242.34,964.24 242.78,964.54 243.23,964.74 243.68,964.85 244.13,964.87 244.58,964.81 245.02,964.67 245.47,964.46 245.92,964.20 246.37,963.88 246.82,963.53 247.27,963.14 247.71,962.73 248.16,962.32 248.61,961.90 249.06,961.50 249.51,961.13 249.95,960.79 250.40,960.50 250.85,960.28 251.30,960.12 251.75,960.04 252.20,960.04 252.64,960.12 253.09,960.28 253.54,960.51 253.99,960.80 254.44,961.15 254.88,961.55 255.33,961.98 255.78,962.44 256.23,962.91 256.68,963.39 257.13,963.87 257.57,964.35 258.02,964.82 258.47,965.27 258.92,965.69 259.37,966.10 259.81,966.47 260.26,966.82 260.71,967.14 261.16,967.43 261.61,967.69 262.06,967.92 262.50,968.12 262.95,968.30 263.40,968.45 263.85,968.57 264.30,968.68 264.74,968.77 265.19,968.84 265.64,968.89 266.09,968.93 266.54,968.96 266.99,968.97 267.43,968.98 267.88,968.98 268.33,968.97 268.78,968.95 269.23,968.93 269.67,968.91 270.12,968.88 270.57,968.85 271.02,968.81 271.47,968.77 271.91,968.73 272.36,968.68 272.81,968.64 273.26,968.58 273.71,968.53 274.16,968.47 274.60,968.40 275.05,968.33 275.50,968.25 275.95,968.17 276.40,968.08 276.84,967.97 277.29,967.86 277.74,967.73 278.19,967.59 278.64,967.42 279.09,967.24 279.53,967.03 279.98,966.79 280.43,966.52 280.88,966.21 281.33,965.86 281.77,965.47 282.22,965.02 282.67,964.51 283.12,963.93 283.57,963.29 284.02,962.56 284.46,961.76 284.91,960.87 285.36,959.88 285.81,958.80 286.26,957.62 286.70,956.34 287.15,954.96 287.60,953.49 288.05,951.91 288.50,950.25 288.95,948.51 289.39,946.69 289.84,944.81 290.29,942.89 290.74,940.93 291.19,938.97 291.63,937.02 292.08,935.11 292.53,933.26 292.98,931.50 293.43,929.87 293.88,928.40 294.32,927.12 294.77,926.05 295.22,925.23 295.67,924.67 296.12,924.39 296.56,924.41 297.01,924.71 297.46,925.29 297.91,926.14 298.36,927.22 298.80,928.52 299.25,930.00 299.70,931.62 300.15,933.36 300.60,935.20 301.05,937.08 301.49,939.00 301.94,940.93 302.39,942.84 302.84,944.72 303.29,946.55 303.73,948.31 304.18,949.99 304.63,951.59 305.08,953.09 305.53,954.50 305.98,955.80 306.42,957.00 306.87,958.09 307.32,959.08 307.77,959.97 308.22,960.76 308.66,961.46 309.11,962.08 309.56,962.60 310.01,963.05 310.46,963.43 310.91,963.74 311.35,963.99 311.80,964.18 312.25,964.31 312.70,964.40 313.15,964.44 313.59,964.43 314.04,964.39 314.49,964.30 314.94,964.18 315.39,964.02 315.84,963.83 316.28,963.60 316.73,963.33 317.18,963.02 317.63,962.66 318.08,962.26 318.52,961.81 318.97,961.31 319.42,960.77 319.87,960.18 320.32,959.55 320.76,958.86 321.21,958.12 321.66,957.33 322.11,956.48 322.56,955.57 323.01,954.60 323.45,953.56 323.90,952.45 324.35,951.26 324.80,949.98 325.25,948.62 325.69,947.15 326.14,945.57 326.59,943.86 327.04,942.01 327.49,940.00 327.94,937.82 328.38,935.45 328.83,932.87 329.28,930.05 329.73,926.98 330.18,923.64 330.62,920.00 331.07,916.06 331.52,911.79 331.97,907.18 332.42,902.23 332.87,896.95 333.31,891.34 333.76,885.41 334.21,879.20 334.66,872.74 335.11,866.07 335.55,859.26 336.00,852.36 336.45,845.45 336.90,838.61 337.35,831.94 337.80,825.51 338.24,819.43 338.69,813.79 339.14,808.68 339.59,804.17 340.04,800.36 340.48,797.29 340.93,795.03 341.38,793.61 341.83,793.07 342.28,793.64 342.73,795.44 343.17,798.42 343.62,802.49 344.07,807.57 344.52,813.53 344.97,820.23 345.41,827.54 345.86,835.30 346.31,843.36 346.76,851.57 347.21,859.81 347.66,867.93 348.10,875.84 348.55,883.43 349.00,890.62 349.45,897.37 349.90,903.62 350.34,909.36 350.79,914.56 351.24,919.24 351.69,923.40 352.14,927.06 352.58,930.27 353.03,933.04 353.48,935.42 353.93,937.45 354.38,939.16 354.83,940.59 355.27,941.78 355.72,942.76 356.17,943.56 356.62,944.21 357.07,944.73 357.51,945.16 357.96,945.50 358.41,945.77 358.86,945.99 359.31,946.16 359.76,946.31 360.20,946.43 360.65,946.54 361.10,946.63 361.55,946.71 362.00,946.79 362.44,946.86 362.89,946.93 363.34,947.00 363.79,947.07 364.24,947.14 364.69,947.21 365.13,947.28 365.58,947.34 366.03,947.41 366.48,947.48 366.93,947.54 367.37,947.61 367.82,947.67 368.27,947.73 368.72,947.79 369.17,947.85 369.62,947.91 370.06,947.98 370.51,948.04 370.96,948.11 371.41,948.19 371.86,948.26 372.30,948.35 372.75,948.43 373.20,948.52 373.65,948.62 374.10,948.72 374.55,948.83 374.99,948.94 375.44,949.06 375.89,949.19 376.34,949.35 376.79,949.55 377.23,949.80 377.68,950.09 378.13,950.41 378.58,950.77 379.03,951.16 379.47,951.58 379.92,952.03 380.37,952.49 380.82,952.98 381.27,953.48 381.72,954.00 382.16,954.53 382.61,955.07 383.06,955.61 383.51,956.15 383.96,956.69 384.40,957.23 384.85,957.75 385.30,958.27 385.75,958.77 386.20,959.25 386.65,959.71 387.09,960.15 387.54,960.56 387.99,960.93 388.44,961.27 388.89,961.57 389.33,961.83 389.78,962.03 390.23,962.19 390.68,962.29 391.13,962.33 391.58,962.34 392.02,962.34 392.47,962.31 392.92,962.26 393.37,962.19 393.82,962.09 394.26,961.95 394.71,961.79 395.16,961.58 395.61,961.35 396.06,961.07 396.51,960.75 396.95,960.38 397.40,959.97 397.85,959.51 398.30,959.00 398.75,958.44 399.19,957.83 399.64,957.17 400.09,956.45 400.54,955.69 400.99,954.87 401.44,954.00 401.88,953.09 402.33,952.13 402.78,951.13 403.23,950.09 403.68,949.02 404.12,947.93 404.57,946.81 405.02,945.69 405.47,944.56 405.92,943.44 406.36,942.33 406.81,941.24 407.26,940.19 407.71,939.20 408.16,938.26 408.61,937.39 409.05,936.61 409.50,935.93 409.95,935.35 410.40,934.90 410.85,934.57 411.29,934.38 411.74,934.33 412.19,934.44 412.64,934.75 413.09,935.27 413.54,935.98 413.98,936.87 414.43,937.92 414.88,939.11 415.33,940.42 415.78,941.81 416.22,943.28 416.67,944.79 417.12,946.34 417.57,947.90 418.02,949.45 418.47,950.98 418.91,952.48 419.36,953.93 419.81,955.33 420.26,956.67 420.71,957.94 421.15,959.14 421.60,960.26 422.05,961.30 422.50,962.27 422.95,963.15 423.40,963.96 423.84,964.69 424.29,965.34 424.74,965.93 425.19,966.44 425.64,966.90 426.08,967.29 426.53,967.63 426.98,967.91 427.43,968.15 427.88,968.35 428.32,968.50 428.77,968.61 429.22,968.69 429.67,968.74 430.12,968.76 430.57,968.75 431.01,968.71 431.46,968.65 431.91,968.56 432.36,968.44 432.81,968.30 433.25,968.13 433.70,967.93 434.15,967.71 434.60,967.45 435.05,967.16 435.50,966.82 435.94,966.44 436.39,966.00 436.84,965.50 437.29,964.93 437.74,964.27 438.18,963.51 438.63,962.65 439.08,961.66 439.53,960.52 439.98,959.23 440.43,957.74 440.87,956.05 441.32,954.14 441.77,951.96 442.22,949.51 442.67,946.75 443.11,943.67 443.56,940.23 444.01,936.42 444.46,932.21 444.91,927.59 445.36,922.54 445.80,917.07 446.25,911.16 446.70,904.82 447.15,898.06 447.60,890.91 448.04,883.38 448.49,875.52 448.94,867.38 449.39,859.00 449.84,850.46 450.29,841.84 450.73,833.22 451.18,824.70 451.63,816.40 452.08,808.42 452.53,800.90 452.97,793.97 453.42,787.76 453.87,782.40 454.32,778.02 454.77,774.73 455.21,772.61 455.66,771.72 456.11,772.09 456.56,773.70 457.01,776.51 457.46,780.44 457.90,785.40 458.35,791.26 458.80,797.90 459.25,805.18 459.70,812.97 460.14,821.14 460.59,829.57 461.04,838.14 461.49,846.75 461.94,855.31 462.39,863.74 462.83,871.97 463.28,879.93 463.73,887.57 464.18,894.86 464.63,901.76 465.07,908.25 465.52,914.32 465.97,919.95 466.42,925.15 466.87,929.92 467.32,934.27 467.76,938.23 468.21,941.80 468.66,945.00 469.11,947.87 469.56,950.43 470.00,952.70 470.45,954.70 470.90,956.47 471.35,958.02 471.80,959.37 472.25,960.56 472.69,961.59 473.14,962.49 473.59,963.28 474.04,963.96 474.49,964.55 474.93,965.07 475.38,965.52 475.83,965.91 476.28,966.24 476.73,966.53 477.18,966.78 477.62,966.99 478.07,967.17 478.52,967.32 478.97,967.44 479.42,967.54 479.86,967.61 480.31,967.65 480.76,967.66 481.21,967.64 481.66,967.59 482.11,967.49 482.55,967.34 483.00,967.14 483.45,966.89 483.90,966.57 484.35,966.19 484.79,965.73 485.24,965.20 485.69,964.60 486.14,963.91 486.59,963.14 487.03,962.29 487.48,961.36 487.93,960.36 488.38,959.30 488.83,958.18 489.28,957.01 489.72,955.81 490.17,954.59 490.62,953.37 491.07,952.18 491.52,951.04 491.96,949.96 492.41,948.99 492.86,948.15 493.31,947.47 493.76,946.97 494.21,946.67 494.65,946.60 495.10,946.77 495.55,947.17 496.00,947.81 496.45,948.66 496.89,949.71 497.34,950.93 497.79,952.30 498.24,953.78 498.69,955.35 499.14,956.97 499.58,958.63 500.03,960.30 500.48,961.96 500.93,963.60 501.38,965.19 501.82,966.72 502.27,968.19 502.72,969.58 503.17,970.89 503.62,972.11 504.07,973.25 504.51,974.30 504.96,975.26 505.41,976.13 505.86,976.93 506.31,977.64 506.75,978.29 507.20,978.86 507.65,979.37 508.10,979.83 508.55,980.23 509.00,980.58 509.44,980.89 509.89,981.16 510.34,981.39 510.79,981.59 511.24,981.76 511.68,981.92 512.13,982.06 512.58,982.19 513.03,982.30 513.48,982.41 513.92,982.50 514.37,982.59 514.82,982.67 515.27,982.75 515.72,982.82 516.17,982.89 516.61,982.95 517.06,983.02 517.51,983.07 517.96,983.13 518.41,983.18 518.85,983.23 519.30,983.28 519.75,983.33 520.20,983.37 520.65,983.42 521.10,983.46 521.54,983.50 521.99,983.54 522.44,983.58 522.89,983.62 523.34,983.66 523.78,983.69 524.23,983.73 524.68,983.77 525.13,983.80 525.58,983.84 526.03,983.87 526.47,983.91 526.92,983.94 527.37,983.98 527.82,984.01 528.27,984.05 528.71,984.09 529.16,984.12 529.61,984.16 530.06,984.20 530.51,984.23 530.96,984.27 531.40,984.31 531.85,984.35 532.30,984.39 532.75,984.44 533.20,984.48 533.64,984.53 534.09,984.58 534.54,984.63 534.99,984.69 535.44,984.76 535.88,984.82 536.33,984.89 536.78,984.96 537.23,985.04 537.68,985.11 538.13,985.18 538.57,985.26 539.02,985.33 539.47,985.41 539.92,985.48 540.37,985.55 540.81,985.62 541.26,985.68 541.71,985.75 542.16,985.81 542.61,985.86 543.06,985.91 543.50,985.96 543.95,986.00 544.40,986.04 544.85,986.08 545.30,986.12 545.74,986.15 546.19,986.19 546.64,986.23 547.09,986.26 547.54,986.30 547.99,986.33 548.43,986.37 548.88,986.40 549.33,986.44 549.78,986.47 550.23,986.50 550.67,986.54 551.12,986.57 551.57,986.60 552.02,986.63 552.47,986.67 552.92,986.70 553.36,986.73 553.81,986.76 554.26,986.79 554.71,986.82 555.16,986.85 555.60,986.87 556.05,986.90 556.50,986.93 556.95,986.96 557.40,986.99 557.85,987.01 558.29,987.04 558.74,987.06 559.19,987.09 559.64,987.11 560.09,987.14 560.53,987.16 560.98,987.19 561.43,987.21 561.88,987.23 562.33,987.25 562.77,987.28 563.22,987.30 563.67,987.32 564.12,987.34 564.57,987.36 565.02,987.38 565.46,987.40 565.91,987.42 566.36,987.44 566.81,987.45 567.26,987.47 567.70,987.49 568.15,987.50 568.60,987.52 569.05,987.54 569.50,987.55 569.95,987.57 570.39,987.58 570.84,987.59 571.29,987.61 571.74,987.62 572.19,987.63 572.63,987.64 573.08,987.65 573.53,987.66 573.98,987.67 574.43,987.68 574.88,987.69 575.32,987.70 575.77,987.71 576.22,987.71 576.67,987.72 577.12,987.73 577.56,987.73 578.01,987.74 578.46,987.75 578.91,987.75 579.36,987.76 579.81,987.76 580.25,987.77 580.70,987.77 581.15,987.78 581.60,987.78 582.05,987.78 582.49,987.79 582.94,987.79 583.39,987.79 583.84,987.80 584.29,987.80 584.74,987.80 585.18,987.80 585.63,987.80 586.08,987.81 586.53,987.81 586.98,987.81 587.42,987.81 587.87,987.81 588.32,987.81 588.77,987.80 589.22,987.80 589.67,987.80 590.11,987.80 590.56,987.79 591.01,987.79 591.46,987.79 591.91,987.78 592.35,987.77 592.80,987.77 593.25,987.76 593.70,987.75 594.15,987.74 594.59,987.73 595.04,987.71 595.49,987.70 595.94,987.69 596.39,987.67 596.84,987.65 597.28,987.64 597.73,987.62 598.18,987.60 598.63,987.57 599.08,987.55 599.52,987.53 599.97,987.50 600.42,987.48 600.87,987.45 601.32,987.43 601.77,987.40 602.21,987.38 602.66,987.35 603.11,987.32 603.56,987.30 604.01,987.27 604.45,987.25 604.90,987.23 605.35,987.21 605.80,987.19 606.25,987.18 606.70,987.16 607.14,987.15 607.59,987.14 608.04,987.14 608.49,987.14 608.94,987.14 609.38,987.15 609.83,987.15 610.28,987.17 610.73,987.18 611.18,987.20 611.63,987.23 612.07,987.25 612.52,987.28 612.97,987.31 613.42,987.35 613.87,987.38 614.31,987.42 614.76,987.46 615.21,987.50 615.66,987.54 616.11,987.58 616.56,987.62 617.00,987.66 617.45,987.70 617.90,987.74 618.35,987.79 618.80,987.83 619.24,987.87 619.69,987.91 620.14,987.95 620.59,987.98 621.04,988.02 621.48,988.06 621.93,988.10 622.38,988.13 622.83,988.17 623.28,988.21 623.73,988.25 624.17,988.30 624.62,988.34 625.07,988.39 625.52,988.44 625.97,988.48 626.41,988.53 626.86,988.58 627.31,988.63 627.76,988.67 628.21,988.72 628.66,988.77 629.10,988.81 629.55,988.86 630.00,988.90"/>
<polyline fill="none" stroke="#f5a266" stroke-width="1.1" stroke-linejoin="round" points="92.20,981.44 92.65,981.50 93.10,981.56 93.54,981.63 93.99,981.69 94.44,981.75 94.89,981.81 95.34,981.87 95.79,981.93 96.23,981.99 96.68,982.04 97.13,982.10 97.58,982.15 98.03,982.19 98.47,982.23 98.92,982.27 99.37,982.31 99.82,982.34 100.27,982.36 100.72,982.38 101.16,982.39 101.61,982.40 102.06,982.39 102.51,982.39 102.96,982.37 103.40,982.36 103.85,982.34 104.30,982.32 104.75,982.30 105.20,982.27 105.65,982.24 106.09,982.21 106.54,982.16 106.99,982.12 107.44,982.06 107.89,982.00 108.33,981.93 108.78,981.85 109.23,981.76 109.68,981.66 110.13,981.55 110.57,981.42 111.02,981.28 111.47,981.12 111.92,980.95 112.37,980.76 112.82,980.55 113.26,980.33 113.71,980.10 114.16,979.85 114.61,979.58 115.06,979.31 115.50,979.03 115.95,978.74 116.40,978.44 116.85,978.15 117.30,977.85 117.75,977.57 118.19,977.30 118.64,977.05 119.09,976.82 119.54,976.62 119.99,976.46 120.43,976.33 120.88,976.24 121.33,976.20 121.78,976.20 122.23,976.25 122.68,976.33 123.12,976.45 123.57,976.60 124.02,976.78 124.47,976.99 124.92,977.20 125.36,977.43 125.81,977.67 126.26,977.91 126.71,978.14 127.16,978.37 127.61,978.60 128.05,978.81 128.50,979.01 128.95,979.20 129.40,979.38 129.85,979.53 130.29,979.67 130.74,979.79 131.19,979.88 131.64,979.95 132.09,980.01 132.53,980.04 132.98,980.05 133.43,980.05 133.88,980.03 134.33,979.99 134.78,979.95 135.22,979.89 135.67,979.82 136.12,979.74 136.57,979.66 137.02,979.57 137.46,979.47 137.91,979.37 138.36,979.27 138.81,979.16 139.26,979.05 139.71,978.94 140.15,978.82 140.60,978.71 141.05,978.60 141.50,978.49 141.95,978.38 142.39,978.27 142.84,978.16 143.29,978.06 143.74,977.96 144.19,977.87 144.64,977.77 145.08,977.69 145.53,977.61 145.98,977.53 146.43,977.46 146.88,977.39 147.32,977.34 147.77,977.29 148.22,977.24 148.67,977.21 149.12,977.18 149.57,977.17 150.01,977.16 150.46,977.16 150.91,977.16 151.36,977.17 151.81,977.19 152.25,977.21 152.70,977.24 153.15,977.27 153.60,977.30 154.05,977.33 154.50,977.37 154.94,977.41 155.39,977.45 155.84,977.50 156.29,977.54 156.74,977.58 157.18,977.63 157.63,977.67 158.08,977.71 158.53,977.75 158.98,977.78 159.43,977.81 159.87,977.84 160.32,977.87 160.77,977.89 161.22,977.90 161.67,977.91 162.11,977.91 162.56,977.91 163.01,977.89 163.46,977.87 163.91,977.84 164.35,977.81 164.80,977.77 165.25,977.73 165.70,977.69 166.15,977.64 166.60,977.59 167.04,977.52 167.49,977.46 167.94,977.38 168.39,977.30 168.84,977.20 169.28,977.10 169.73,976.99 170.18,976.86 170.63,976.73 171.08,976.57 171.53,976.41 171.97,976.23 172.42,976.03 172.87,975.81 173.32,975.58 173.77,975.33 174.21,975.06 174.66,974.76 175.11,974.45 175.56,974.12 176.01,973.76 176.46,973.38 176.90,972.98 177.35,972.56 177.80,972.13 178.25,971.67 178.70,971.19 179.14,970.70 179.59,970.19 180.04,969.67 180.49,969.15 180.94,968.61 181.39,968.07 181.83,967.53 182.28,966.99 182.73,966.46 183.18,965.95 183.63,965.45 184.07,964.97 184.52,964.51 184.97,964.09 185.42,963.71 185.87,963.36 186.31,963.07 186.76,962.82 187.21,962.63 187.66,962.50 188.11,962.42 188.56,962.41 189.00,962.45 189.45,962.55 189.90,962.71 190.35,962.92 190.80,963.18 191.24,963.48 191.69,963.82 192.14,964.19 192.59,964.59 193.04,965.02 193.49,965.46 193.93,965.92 194.38,966.39 194.83,966.86 195.28,967.33 195.73,967.80 196.17,968.26 196.62,968.72 197.07,969.16 197.52,969.59 197.97,970.00 198.42,970.40 198.86,970.76 199.31,971.09 199.76,971.39 200.21,971.66 200.66,971.90 201.10,972.11 201.55,972.29 202.00,972.44 202.45,972.56 202.90,972.65 203.35,972.72 203.79,972.77 204.24,972.79 204.69,972.79 205.14,972.78 205.59,972.74 206.03,972.70 206.48,972.63 206.93,972.56 207.38,972.47 207.83,972.37 208.28,972.26 208.72,972.15 209.17,972.03 209.62,971.90 210.07,971.77 210.52,971.64 210.96,971.50 211.41,971.36 211.86,971.22 212.31,971.07 212.76,970.92 213.20,970.76 213.65,970.60 214.10,970.43 214.55,970.25 215.00,970.06 215.45,969.86 215.89,969.62 216.34,969.35 216.79,969.04 217.24,968.69 217.69,968.29 218.13,967.84 218.58,967.34 219.03,966.78 219.48,966.15 219.93,965.46 220.38,964.69 220.82,963.85 221.27,962.94 221.72,961.94 222.17,960.88 222.62,959.73 223.06,958.52 223.51,957.23 223.96,955.89 224.41,954.49 224.86,953.05 225.31,951.57 225.75,950.08 226.20,948.58 226.65,947.09 227.10,945.64 227.55,944.24 227.99,942.91 228.44,941.69 228.89,940.59 229.34,939.63 229.79,938.85 230.24,938.25 230.68,937.86 231.13,937.69 231.58,937.74 232.03,938.00 232.48,938.48 232.92,939.15 233.37,939.99 233.82,940.99 234.27,942.12 234.72,943.36 235.17,944.68 235.61,946.05 236.06,947.46 236.51,948.88 236.96,950.29 237.41,951.68 237.85,953.03 238.30,954.33 238.75,955.56 239.20,956.71 239.65,957.78 240.10,958.75 240.54,959.62 240.99,960.39 241.44,961.05 241.89,961.61 242.34,962.05 242.78,962.39 243.23,962.63 243.68,962.77 244.13,962.81 244.58,962.76 245.02,962.63 245.47,962.42 245.92,962.15 246.37,961.82 246.82,961.44 247.27,961.03 247.71,960.60 248.16,960.15 248.61,959.71 249.06,959.29 249.51,958.89 249.95,958.55 250.40,958.26 250.85,958.05 251.30,957.92 251.75,957.88 252.20,957.94 252.64,958.09 253.09,958.34 253.54,958.67 253.99,959.07 254.44,959.55 254.88,960.08 255.33,960.65 255.78,961.25 256.23,961.87 256.68,962.51 257.13,963.14 257.57,963.77 258.02,964.38 258.47,964.97 258.92,965.53 259.37,966.07 259.81,966.57 260.26,967.04 260.71,967.48 261.16,967.88 261.61,968.24 262.06,968.56 262.50,968.86 262.95,969.12 263.40,969.35 263.85,969.55 264.30,969.72 264.74,969.87 265.19,970.00 265.64,970.11 266.09,970.20 266.54,970.28 266.99,970.35 267.43,970.40 267.88,970.44 268.33,970.47 268.78,970.50 269.23,970.51 269.67,970.53 270.12,970.53 270.57,970.53 271.02,970.53 271.47,970.52 271.91,970.51 272.36,970.50 272.81,970.48 273.26,970.46 273.71,970.43 274.16,970.40 274.60,970.37 275.05,970.33 275.50,970.29 275.95,970.24 276.40,970.19 276.84,970.13 277.29,970.06 277.74,969.98 278.19,969.90 278.64,969.80 279.09,969.69 279.53,969.56 279.98,969.42 280.43,969.26 280.88,969.07 281.33,968.86 281.77,968.63 282.22,968.35 282.67,968.05 283.12,967.70 283.57,967.30 284.02,966.86 284.46,966.36 284.91,965.81 285.36,965.19 285.81,964.51 286.26,963.76 286.70,962.94 287.15,962.05 287.60,961.08 288.05,960.04 288.50,958.93 288.95,957.75 289.39,956.50 289.84,955.19 290.29,953.83 290.74,952.43 291.19,950.99 291.63,949.54 292.08,948.08 292.53,946.64 292.98,945.22 293.43,943.86 293.88,942.57 294.32,941.37 294.77,940.29 295.22,939.36 295.67,938.58 296.12,937.99 296.56,937.60 297.01,937.41 297.46,937.43 297.91,937.66 298.36,938.10 298.80,938.72 299.25,939.52 299.70,940.46 300.15,941.53 300.60,942.70 301.05,943.96 301.49,945.28 301.94,946.63 302.39,948.00 302.84,949.38 303.29,950.74 303.73,952.07 304.18,953.36 304.63,954.61 305.08,955.79 305.53,956.92 305.98,957.97 306.42,958.95 306.87,959.85 307.32,960.68 307.77,961.44 308.22,962.12 308.66,962.73 309.11,963.26 309.56,963.74 310.01,964.15 310.46,964.50 310.91,964.79 311.35,965.04 311.80,965.24 312.25,965.39 312.70,965.51 313.15,965.58 313.59,965.63 314.04,965.64 314.49,965.63 314.94,965.58 315.39,965.52 315.84,965.43 316.28,965.31 316.73,965.18 317.18,965.02 317.63,964.85 318.08,964.65 318.52,964.43 318.97,964.18 319.42,963.90 319.87,963.60 320.32,963.28 320.76,962.93 321.21,962.55 321.66,962.15 322.11,961.71 322.56,961.25 323.01,960.75 323.45,960.22 323.90,959.66 324.35,959.06 324.80,958.41 325.25,957.72 325.69,956.99 326.14,956.19 326.59,955.34 327.04,954.41 327.49,953.42 327.94,952.33 328.38,951.16 328.83,949.88 329.28,948.49 329.73,946.98 330.18,945.33 330.62,943.53 331.07,941.59 331.52,939.48 331.97,937.20 332.42,934.74 332.87,932.12 333.31,929.32 333.76,926.35 334.21,923.23 334.66,919.97 335.11,916.59 335.55,913.11 336.00,909.57 336.45,906.01 336.90,902.45 337.35,898.95 337.80,895.55 338.24,892.30 338.69,889.25 339.14,886.44 339.59,883.92 340.04,881.72 340.48,879.90 340.93,878.48 341.38,877.47 341.83,876.91 342.28,876.82 342.73,877.36 343.17,878.52 343.62,880.27 344.07,882.56 344.52,885.35 344.97,888.56 345.41,892.13 345.86,895.97 346.31,900.02 346.76,904.19 347.21,908.41 347.66,912.62 348.10,916.75 348.55,920.74 349.00,924.55 349.45,928.15 349.90,931.51 350.34,934.61 350.79,937.44 351.24,940.00 351.69,942.28 352.14,944.31 352.58,946.09 353.03,947.64 353.48,948.97 353.93,950.11 354.38,951.08 354.83,951.89 355.27,952.57 355.72,953.13 356.17,953.59 356.62,953.97 357.07,954.27 357.51,954.51 357.96,954.71 358.41,954.86 358.86,954.99 359.31,955.09 359.76,955.17 360.20,955.23 360.65,955.29 361.10,955.35 361.55,955.42 362.00,955.50 362.44,955.58 362.89,955.68 363.34,955.78 363.79,955.89 364.24,956.00 364.69,956.12 365.13,956.24 365.58,956.37 366.03,956.49 366.48,956.61 366.93,956.73 367.37,956.84 367.82,956.94 368.27,957.04 368.72,957.14 369.17,957.24 369.62,957.33 370.06,957.43 370.51,957.53 370.96,957.62 371.41,957.73 371.86,957.83 372.30,957.94 372.75,958.05 373.20,958.16 373.65,958.28 374.10,958.41 374.55,958.54 374.99,958.68 375.44,958.83 375.89,958.99 376.34,959.16 376.79,959.37 377.23,959.60 377.68,959.86 378.13,960.14 378.58,960.44 379.03,960.76 379.47,961.10 379.92,961.46 380.37,961.83 380.82,962.22 381.27,962.62 381.72,963.03 382.16,963.44 382.61,963.87 383.06,964.30 383.51,964.73 383.96,965.16 384.40,965.60 384.85,966.03 385.30,966.46 385.75,966.88 386.20,967.30 386.65,967.70 387.09,968.10 387.54,968.48 387.99,968.84 388.44,969.19 388.89,969.52 389.33,969.83 389.78,970.11 390.23,970.37 390.68,970.59 391.13,970.79 391.58,970.95 392.02,971.08 392.47,971.17 392.92,971.22 393.37,971.24 393.82,971.25 394.26,971.25 394.71,971.23 395.16,971.19 395.61,971.13 396.06,971.05 396.51,970.95 396.95,970.82 397.40,970.68 397.85,970.50 398.30,970.30 398.75,970.08 399.19,969.83 399.64,969.55 400.09,969.25 400.54,968.92 400.99,968.56 401.44,968.18 401.88,967.77 402.33,967.34 402.78,966.89 403.23,966.42 403.68,965.93 404.12,965.43 404.57,964.92 405.02,964.40 405.47,963.88 405.92,963.36 406.36,962.85 406.81,962.36 407.26,961.88 407.71,961.42 408.16,960.99 408.61,960.60 409.05,960.26 409.50,959.96 409.95,959.72 410.40,959.53 410.85,959.42 411.29,959.37 411.74,959.39 412.19,959.49 412.64,959.69 413.09,960.00 413.54,960.41 413.98,960.90 414.43,961.48 414.88,962.12 415.33,962.83 415.78,963.58 416.22,964.36 416.67,965.17 417.12,966.00 417.57,966.83 418.02,967.65 418.47,968.47 418.91,969.27 419.36,970.04 419.81,970.79 420.26,971.51 420.71,972.19 421.15,972.83 421.60,973.43 422.05,974.00 422.50,974.52 422.95,975.00 423.40,975.44 423.84,975.84 424.29,976.21 424.74,976.54 425.19,976.83 425.64,977.09 426.08,977.32 426.53,977.52 426.98,977.70 427.43,977.85 427.88,977.97 428.32,978.08 428.77,978.17 429.22,978.24 429.67,978.29 430.12,978.33 430.57,978.36 431.01,978.37 431.46,978.37 431.91,978.35 432.36,978.33 432.81,978.29 433.25,978.25 433.70,978.19 434.15,978.13 434.60,978.05 435.05,977.96 435.50,977.86 435.94,977.74 436.39,977.60 436.84,977.44 437.29,977.27 437.74,977.06 438.18,976.83 438.63,976.56 439.08,976.26 439.53,975.91 439.98,975.52 440.43,975.07 440.87,974.57 441.32,974.00 441.77,973.36 442.22,972.64 442.67,971.84 443.11,970.95 443.56,969.96 444.01,968.87 444.46,967.66 444.91,966.35 445.36,964.91 445.80,963.35 446.25,961.67 446.70,959.87 447.15,957.94 447.60,955.90 448.04,953.74 448.49,951.47 448.94,949.11 449.39,946.66 449.84,944.14 450.29,941.56 450.73,938.95 451.18,936.32 451.63,933.71 452.08,931.13 452.53,928.62 452.97,926.22 453.42,923.95 453.87,921.84 454.32,919.95 454.77,918.29 455.21,916.91 455.66,915.84 456.11,915.09 456.56,914.69 457.01,914.64 457.46,914.95 457.90,915.61 458.35,916.60 458.80,917.90 459.25,919.48 459.70,921.31 460.14,923.35 460.59,925.57 461.04,927.94 461.49,930.41 461.94,932.95 462.39,935.54 462.83,938.14 463.28,940.74 463.73,943.31 464.18,945.82 464.63,948.27 465.07,950.63 465.52,952.90 465.97,955.07 466.42,957.12 466.87,959.05 467.32,960.86 467.76,962.55 468.21,964.11 468.66,965.56 469.11,966.88 469.56,968.09 470.00,969.19 470.45,970.18 470.90,971.08 471.35,971.89 471.80,972.61 472.25,973.25 472.69,973.82 473.14,974.32 473.59,974.76 474.04,975.15 474.49,975.50 474.93,975.79 475.38,976.06 475.83,976.28 476.28,976.48 476.73,976.65 477.18,976.79 477.62,976.91 478.07,977.01 478.52,977.10 478.97,977.17 479.42,977.22 479.86,977.26 480.31,977.28 480.76,977.29 481.21,977.28 481.66,977.25 482.11,977.21 482.55,977.14 483.00,977.05 483.45,976.93 483.90,976.79 484.35,976.61 484.79,976.41 485.24,976.17 485.69,975.90 486.14,975.59 486.59,975.24 487.03,974.87 487.48,974.46 487.93,974.01 488.38,973.54 488.83,973.04 489.28,972.53 489.72,972.00 490.17,971.46 490.62,970.93 491.07,970.40 491.52,969.90 491.96,969.43 492.41,969.00 492.86,968.64 493.31,968.34 493.76,968.12 494.21,968.00 494.65,967.97 495.10,968.05 495.55,968.23 496.00,968.52 496.45,968.90 496.89,969.37 497.34,969.92 497.79,970.53 498.24,971.19 498.69,971.89 499.14,972.62 499.58,973.37 500.03,974.12 500.48,974.87 500.93,975.60 501.38,976.32 501.82,977.02 502.27,977.69 502.72,978.33 503.17,978.93 503.62,979.50 504.07,980.03 504.51,980.52 504.96,980.98 505.41,981.40 505.86,981.79 506.31,982.15 506.75,982.48 507.20,982.77 507.65,983.05 508.10,983.30 508.55,983.52 509.00,983.73 509.44,983.93 509.89,984.10 510.34,984.27 510.79,984.42 511.24,984.56 511.68,984.69 512.13,984.82 512.58,984.93 513.03,985.05 513.48,985.15 513.92,985.25 514.37,985.35 514.82,985.44 515.27,985.52 515.72,985.60 516.17,985.68 516.61,985.76 517.06,985.83 517.51,985.89 517.96,985.96 518.41,986.02 518.85,986.09 519.30,986.15 519.75,986.21 520.20,986.27 520.65,986.33 521.10,986.39 521.54,986.45 521.99,986.51 522.44,986.57 522.89,986.63 523.34,986.68 523.78,986.74 524.23,986.80 524.68,986.85 525.13,986.91 525.58,986.96 526.03,987.01 526.47,987.07 526.92,987.12 527.37,987.17 527.82,987.22 528.27,987.27 528.71,987.32 529.16,987.37 529.61,987.42 530.06,987.46 530.51,987.51 530.96,987.55 531.40,987.60 531.85,987.64 532.30,987.68 532.75,987.72 533.20,987.76 533.64,987.80 534.09,987.84 534.54,987.88 534.99,987.91 535.44,987.95 535.88,987.98 536.33,988.01 536.78,988.05 537.23,988.08 537.68,988.10 538.13,988.13 538.57,988.16 539.02,988.18 539.47,988.21 539.92,988.23 540.37,988.25 540.81,988.27 541.26,988.29 541.71,988.30 542.16,988.32 542.61,988.34 543.06,988.35 543.50,988.37 543.95,988.38 544.40,988.40 544.85,988.41 545.30,988.43 545.74,988.44 546.19,988.45 546.64,988.47 547.09,988.48 547.54,988.49 547.99,988.51 548.43,988.52 548.88,988.53 549.33,988.55 549.78,988.56 550.23,988.57 550.67,988.58 551.12,988.59 551.57,988.60 552.02,988.61 552.47,988.63 552.92,988.64 553.36,988.65 553.81,988.66 554.26,988.67 554.71,988.68 555.16,988.69 555.60,988.70 556.05,988.71 556.50,988.72 556.95,988.72 557.40,988.73 557.85,988.74 558.29,988.75 558.74,988.76 559.19,988.77 559.64,988.78 560.09,988.78 560.53,988.79 560.98,988.80 561.43,988.81 561.88,988.82 562.33,988.82 562.77,988.83 563.22,988.84 563.67,988.85 564.12,988.86 564.57,988.86 565.02,988.87 565.46,988.88 565.91,988.88 566.36,988.89 566.81,988.90 567.26,988.91 567.70,988.91 568.15,988.92 568.60,988.93 569.05,988.93 569.50,988.94 569.95,988.95 570.39,988.96 570.84,988.96 571.29,988.97 571.74,988.98 572.19,988.98 572.63,988.99 573.08,989.00 573.53,989.00 573.98,989.01 574.43,989.02 574.88,989.02 575.32,989.03 575.77,989.04 576.22,989.05 576.67,989.05 577.12,989.06 577.56,989.07 578.01,989.08 578.46,989.08 578.91,989.09 579.36,989.10 579.81,989.10 580.25,989.11 580.70,989.12 581.15,989.12 581.60,989.13 582.05,989.14 582.49,989.15 582.94,989.15 583.39,989.16 583.84,989.17 584.29,989.17 584.74,989.18 585.18,989.19 585.63,989.19 586.08,989.20 586.53,989.21 586.98,989.21 587.42,989.22 587.87,989.23 588.32,989.23 588.77,989.24 589.22,989.25 589.67,989.25 590.11,989.26 590.56,989.26 591.01,989.27 591.46,989.28 591.91,989.28 592.35,989.29 592.80,989.30 593.25,989.30 593.70,989.31 594.15,989.32 594.59,989.32 595.04,989.33 595.49,989.33 595.94,989.34 596.39,989.35 596.84,989.35 597.28,989.36 597.73,989.36 598.18,989.37 598.63,989.38 599.08,989.38 599.52,989.39 599.97,989.39 600.42,989.40 600.87,989.41 601.32,989.41 601.77,989.42 602.21,989.42 602.66,989.43 603.11,989.43 603.56,989.44 604.01,989.45 604.45,989.45 604.90,989.46 605.35,989.46 605.80,989.47 606.25,989.47 606.70,989.48 607.14,989.48 607.59,989.49 608.04,989.49 608.49,989.50 608.94,989.51 609.38,989.51 609.83,989.52 610.28,989.52 610.73,989.53 611.18,989.53 611.63,989.54 612.07,989.54 612.52,989.55 612.97,989.55 613.42,989.56 613.87,989.56 614.31,989.57 614.76,989.57 615.21,989.58 615.66,989.58 616.11,989.58 616.56,989.59 617.00,989.59 617.45,989.60 617.90,989.60 618.35,989.61 618.80,989.61 619.24,989.62 619.69,989.62 620.14,989.63 620.59,989.63 621.04,989.63 621.48,989.64 621.93,989.64 622.38,989.65 622.83,989.65 623.28,989.66 623.73,989.66 624.17,989.66 624.62,989.67 625.07,989.67 625.52,989.68 625.97,989.68 626.41,989.68 626.86,989.69 627.31,989.69 627.76,989.69 628.21,989.70 628.66,989.70 629.10,989.71 629.55,989.71 630.00,989.71"/>
<polyline fill="none" stroke="#a34747" stroke-width="1.1" stroke-linejoin="round" points="92.20,981.15 92.65,981.23 93.10,981.31 93.54,981.39 93.99,981.47 94.44,981.55 94.89,981.63 95.34,981.71 95.79,981.78 96.23,981.86 96.68,981.93 97.13,982.00 97.58,982.06 98.03,982.12 98.47,982.17 98.92,982.22 99.37,982.27 99.82,982.31 100.27,982.34 100.72,982.36 101.16,982.38 101.61,982.39 102.06,982.39 102.51,982.39 102.96,982.37 103.40,982.36 103.85,982.34 104.30,982.32 104.75,982.30 105.20,982.27 105.65,982.24 106.09,982.20 106.54,982.16 106.99,982.11 107.44,982.06 107.89,982.00 108.33,981.93 108.78,981.85 109.23,981.76 109.68,981.65 110.13,981.54 110.57,981.41 111.02,981.27 111.47,981.11 111.92,980.94 112.37,980.75 112.82,980.55 113.26,980.33 113.71,980.09 114.16,979.85 114.61,979.58 115.06,979.31 115.50,979.03 115.95,978.74 116.40,978.44 116.85,978.15 117.30,977.86 117.75,977.58 118.19,977.31 118.64,977.06 119.09,976.83 119.54,976.63 119.99,976.46 120.43,976.33 120.88,976.25 121.33,976.20 121.78,976.20 122.23,976.24 122.68,976.31 123.12,976.43 123.57,976.58 124.02,976.75 124.47,976.94 124.92,977.15 125.36,977.37 125.81,977.60 126.26,977.83 126.71,978.05 127.16,978.28 127.61,978.49 128.05,978.70 128.50,978.89 128.95,979.07 129.40,979.24 129.85,979.39 130.29,979.52 130.74,979.63 131.19,979.72 131.64,979.79 132.09,979.83 132.53,979.86 132.98,979.87 133.43,979.86 133.88,979.84 134.33,979.80 134.78,979.75 135.22,979.69 135.67,979.62 136.12,979.54 136.57,979.45 137.02,979.36 137.46,979.26 137.91,979.15 138.36,979.05 138.81,978.94 139.26,978.82 139.71,978.71 140.15,978.60 140.60,978.48 141.05,978.37 141.50,978.26 141.95,978.15 142.39,978.04 142.84,977.93 143.29,977.83 143.74,977.73 144.19,977.63 144.64,977.54 145.08,977.45 145.53,977.37 145.98,977.29 146.43,977.22 146.88,977.16 147.32,977.10 147.77,977.05 148.22,977.01 148.67,976.97 149.12,976.94 149.57,976.93 150.01,976.92 150.46,976.92 150.91,976.93 151.36,976.95 151.81,976.98 152.25,977.01 152.70,977.05 153.15,977.09 153.60,977.14 154.05,977.20 154.50,977.25 154.94,977.31 155.39,977.37 155.84,977.43 156.29,977.49 156.74,977.55 157.18,977.61 157.63,977.67 158.08,977.72 158.53,977.77 158.98,977.81 159.43,977.85 159.87,977.88 160.32,977.91 160.77,977.92 161.22,977.93 161.67,977.93 162.11,977.92 162.56,977.90 163.01,977.88 163.46,977.86 163.91,977.83 164.35,977.80 164.80,977.77 165.25,977.74 165.70,977.70 166.15,977.66 166.60,977.62 167.04,977.57 167.49,977.51 167.94,977.45 168.39,977.39 168.84,977.31 169.28,977.23 169.73,977.13 170.18,977.03 170.63,976.92 171.08,976.79 171.53,976.66 171.97,976.50 172.42,976.34 172.87,976.16 173.32,975.96 173.77,975.74 174.21,975.51 174.66,975.26 175.11,974.99 175.56,974.70 176.01,974.39 176.46,974.05 176.90,973.70 177.35,973.33 177.80,972.94 178.25,972.52 178.70,972.09 179.14,971.65 179.59,971.18 180.04,970.71 180.49,970.22 180.94,969.72 181.39,969.21 181.83,968.70 182.28,968.19 182.73,967.68 183.18,967.18 183.63,966.69 184.07,966.22 184.52,965.76 184.97,965.33 185.42,964.93 185.87,964.57 186.31,964.24 186.76,963.97 187.21,963.74 187.66,963.56 188.11,963.44 188.56,963.37 189.00,963.37 189.45,963.42 189.90,963.53 190.35,963.70 190.80,963.91 191.24,964.18 191.69,964.49 192.14,964.84 192.59,965.22 193.04,965.63 193.49,966.07 193.93,966.53 194.38,966.99 194.83,967.47 195.28,967.96 195.73,968.45 196.17,968.93 196.62,969.41 197.07,969.89 197.52,970.35 197.97,970.80 198.42,971.23 198.86,971.63 199.31,971.99 199.76,972.31 200.21,972.60 200.66,972.86 201.10,973.08 201.55,973.27 202.00,973.42 202.45,973.54 202.90,973.64 203.35,973.70 203.79,973.74 204.24,973.75 204.69,973.74 205.14,973.71 205.59,973.66 206.03,973.59 206.48,973.51 206.93,973.42 207.38,973.31 207.83,973.19 208.28,973.07 208.72,972.93 209.17,972.80 209.62,972.66 210.07,972.52 210.52,972.38 210.96,972.24 211.41,972.10 211.86,971.97 212.31,971.84 212.76,971.72 213.20,971.60 213.65,971.49 214.10,971.38 214.55,971.28 215.00,971.18 215.45,971.09 215.89,970.97 216.34,970.84 216.79,970.69 217.24,970.51 217.69,970.31 218.13,970.08 218.58,969.81 219.03,969.51 219.48,969.18 219.93,968.80 220.38,968.38 220.82,967.91 221.27,967.39 221.72,966.81 222.17,966.19 222.62,965.51 223.06,964.77 223.51,963.97 223.96,963.12 224.41,962.22 224.86,961.26 225.31,960.26 225.75,959.21 226.20,958.13 226.65,957.02 227.10,955.89 227.55,954.75 227.99,953.61 228.44,952.48 228.89,951.38 229.34,950.32 229.79,949.32 230.24,948.40 230.68,947.57 231.13,946.84 231.58,946.24 232.03,945.78 232.48,945.47 232.92,945.31 233.37,945.31 233.82,945.48 234.27,945.79 234.72,946.26 235.17,946.85 235.61,947.57 236.06,948.38 236.51,949.27 236.96,950.23 237.41,951.24 237.85,952.27 238.30,953.32 238.75,954.36 239.20,955.39 239.65,956.39 240.10,957.34 240.54,958.24 240.99,959.08 241.44,959.86 241.89,960.55 242.34,961.17 242.78,961.71 243.23,962.15 243.68,962.52 244.13,962.79 244.58,962.99 245.02,963.10 245.47,963.14 245.92,963.11 246.37,963.01 246.82,962.87 247.27,962.68 247.71,962.46 248.16,962.21 248.61,961.96 249.06,961.70 249.51,961.47 249.95,961.26 250.40,961.09 250.85,960.98 251.30,960.93 251.75,960.96 252.20,961.05 252.64,961.23 253.09,961.48 253.54,961.79 253.99,962.17 254.44,962.61 254.88,963.09 255.33,963.60 255.78,964.14 256.23,964.69 256.68,965.25 257.13,965.81 257.57,966.37 258.02,966.91 258.47,967.43 258.92,967.93 259.37,968.41 259.81,968.85 260.26,969.27 260.71,969.66 261.16,970.01 261.61,970.34 262.06,970.63 262.50,970.90 262.95,971.13 263.40,971.34 263.85,971.53 264.30,971.70 264.74,971.84 265.19,971.96 265.64,972.07 266.09,972.17 266.54,972.25 266.99,972.32 267.43,972.38 267.88,972.43 268.33,972.47 268.78,972.51 269.23,972.54 269.67,972.56 270.12,972.59 270.57,972.60 271.02,972.62 271.47,972.63 271.91,972.64 272.36,972.64 272.81,972.65 273.26,972.65 273.71,972.64 274.16,972.64 274.60,972.63 275.05,972.62 275.50,972.61 275.95,972.60 276.40,972.58 276.84,972.56 277.29,972.53 277.74,972.50 278.19,972.46 278.64,972.42 279.09,972.37 279.53,972.31 279.98,972.24 280.43,972.16 280.88,972.07 281.33,971.96 281.77,971.84 282.22,971.70 282.67,971.53 283.12,971.34 283.57,971.12 284.02,970.87 284.46,970.59 284.91,970.28 285.36,969.92 285.81,969.52 286.26,969.08 286.70,968.59 287.15,968.05 287.60,967.46 288.05,966.82 288.50,966.13 288.95,965.39 289.39,964.60 289.84,963.76 290.29,962.88 290.74,961.97 291.19,961.02 291.63,960.06 292.08,959.07 292.53,958.08 292.98,957.10 293.43,956.14 293.88,955.21 294.32,954.32 294.77,953.50 295.22,952.76 295.67,952.12 296.12,951.59 296.56,951.18 297.01,950.90 297.46,950.77 297.91,950.79 298.36,950.95 298.80,951.26 299.25,951.69 299.70,952.26 300.15,952.92 300.60,953.68 301.05,954.52 301.49,955.42 301.94,956.36 302.39,957.33 302.84,958.31 303.29,959.30 303.73,960.29 304.18,961.25 304.63,962.19 305.08,963.10 305.53,963.97 305.98,964.79 306.42,965.57 306.87,966.30 307.32,966.97 307.77,967.60 308.22,968.17 308.66,968.69 309.11,969.16 309.56,969.58 310.01,969.96 310.46,970.29 310.91,970.58 311.35,970.83 311.80,971.05 312.25,971.23 312.70,971.39 313.15,971.51 313.59,971.62 314.04,971.69 314.49,971.75 314.94,971.79 315.39,971.81 315.84,971.81 316.28,971.79 316.73,971.76 317.18,971.72 317.63,971.67 318.08,971.60 318.52,971.51 318.97,971.42 319.42,971.31 319.87,971.19 320.32,971.05 320.76,970.90 321.21,970.72 321.66,970.52 322.11,970.30 322.56,970.06 323.01,969.80 323.45,969.52 323.90,969.20 324.35,968.87 324.80,968.50 325.25,968.11 325.69,967.68 326.14,967.22 326.59,966.72 327.04,966.18 327.49,965.59 327.94,964.96 328.38,964.26 328.83,963.51 329.28,962.68 329.73,961.78 330.18,960.80 330.62,959.73 331.07,958.57 331.52,957.31 331.97,955.95 332.42,954.47 332.87,952.89 333.31,951.20 333.76,949.41 334.21,947.51 334.66,945.52 335.11,943.45 335.55,941.31 336.00,939.11 336.45,936.89 336.90,934.65 337.35,932.43 337.80,930.26 338.24,928.16 338.69,926.16 339.14,924.29 339.59,922.58 340.04,921.06 340.48,919.75 340.93,918.67 341.38,917.85 341.83,917.28 342.28,916.99 342.73,917.04 343.17,917.47 343.62,918.27 344.07,919.43 344.52,920.91 344.97,922.68 345.41,924.69 345.86,926.90 346.31,929.27 346.76,931.74 347.21,934.26 347.66,936.81 348.10,939.33 348.55,941.78 349.00,944.14 349.45,946.39 349.90,948.50 350.34,950.45 350.79,952.25 351.24,953.87 351.69,955.34 352.14,956.64 352.58,957.78 353.03,958.78 353.48,959.64 353.93,960.38 354.38,961.00 354.83,961.53 355.27,961.96 355.72,962.33 356.17,962.62 356.62,962.86 357.07,963.05 357.51,963.21 357.96,963.33 358.41,963.43 358.86,963.50 359.31,963.57 359.76,963.62 360.20,963.66 360.65,963.71 361.10,963.76 361.55,963.82 362.00,963.90 362.44,963.99 362.89,964.09 363.34,964.21 363.79,964.33 364.24,964.46 364.69,964.59 365.13,964.73 365.58,964.87 366.03,965.01 366.48,965.14 366.93,965.27 367.37,965.39 367.82,965.50 368.27,965.61 368.72,965.71 369.17,965.81 369.62,965.91 370.06,966.01 370.51,966.10 370.96,966.20 371.41,966.30 371.86,966.40 372.30,966.51 372.75,966.61 373.20,966.72 373.65,966.84 374.10,966.96 374.55,967.08 374.99,967.21 375.44,967.35 375.89,967.50 376.34,967.67 376.79,967.85 377.23,968.06 377.68,968.29 378.13,968.54 378.58,968.81 379.03,969.09 379.47,969.38 379.92,969.69 380.37,970.02 380.82,970.35 381.27,970.69 381.72,971.03 382.16,971.38 382.61,971.74 383.06,972.10 383.51,972.46 383.96,972.82 384.40,973.17 384.85,973.53 385.30,973.87 385.75,974.21 386.20,974.54 386.65,974.87 387.09,975.17 387.54,975.47 387.99,975.75 388.44,976.02 388.89,976.26 389.33,976.48 389.78,976.69 390.23,976.87 390.68,977.02 391.13,977.14 391.58,977.24 392.02,977.30 392.47,977.34 392.92,977.38 393.37,977.40 393.82,977.42 394.26,977.43 394.71,977.43 395.16,977.42 395.61,977.40 396.06,977.37 396.51,977.32 396.95,977.26 397.40,977.19 397.85,977.11 398.30,977.01 398.75,976.89 399.19,976.76 399.64,976.62 400.09,976.46 400.54,976.28 400.99,976.09 401.44,975.89 401.88,975.67 402.33,975.44 402.78,975.20 403.23,974.95 403.68,974.69 404.12,974.42 404.57,974.14 405.02,973.86 405.47,973.58 405.92,973.30 406.36,973.03 406.81,972.76 407.26,972.50 407.71,972.25 408.16,972.02 408.61,971.81 409.05,971.62 409.50,971.46 409.95,971.33 410.40,971.23 410.85,971.16 411.29,971.14 411.74,971.15 412.19,971.20 412.64,971.31 413.09,971.48 413.54,971.70 413.98,971.97 414.43,972.29 414.88,972.64 415.33,973.02 415.78,973.43 416.22,973.86 416.67,974.30 417.12,974.75 417.57,975.20 418.02,975.65 418.47,976.10 418.91,976.54 419.36,976.96 419.81,977.37 420.26,977.76 420.71,978.13 421.15,978.49 421.60,978.82 422.05,979.13 422.50,979.42 422.95,979.68 423.40,979.93 423.84,980.15 424.29,980.35 424.74,980.54 425.19,980.70 425.64,980.85 426.08,980.98 426.53,981.10 426.98,981.20 427.43,981.29 427.88,981.37 428.32,981.44 428.77,981.50 429.22,981.54 429.67,981.58 430.12,981.62 430.57,981.64 431.01,981.66 431.46,981.67 431.91,981.67 432.36,981.67 432.81,981.67 433.25,981.65 433.70,981.64 434.15,981.61 434.60,981.58 435.05,981.54 435.50,981.49 435.94,981.44 436.39,981.37 436.84,981.29 437.29,981.20 437.74,981.10 438.18,980.98 438.63,980.84 439.08,980.68 439.53,980.50 439.98,980.29 440.43,980.05 440.87,979.79 441.32,979.49 441.77,979.16 442.22,978.79 442.67,978.38 443.11,977.92 443.56,977.41 444.01,976.86 444.46,976.26 444.91,975.60 445.36,974.89 445.80,974.13 446.25,973.31 446.70,972.43 447.15,971.50 447.60,970.52 448.04,969.50 448.49,968.42 448.94,967.31 449.39,966.17 449.84,964.99 450.29,963.80 450.73,962.60 451.18,961.40 451.63,960.21 452.08,959.04 452.53,957.91 452.97,956.83 453.42,955.81 453.87,954.87 454.32,954.03 454.77,953.30 455.21,952.70 455.66,952.23 456.11,951.91 456.56,951.74 457.01,951.73 457.46,951.87 457.90,952.18 458.35,952.63 458.80,953.22 459.25,953.93 459.70,954.76 460.14,955.69 460.59,956.70 461.04,957.78 461.49,958.92 461.94,960.09 462.39,961.29 462.83,962.50 463.28,963.71 463.73,964.92 464.18,966.11 464.63,967.27 465.07,968.40 465.52,969.49 465.97,970.54 466.42,971.54 466.87,972.49 467.32,973.39 467.76,974.24 468.21,975.03 468.66,975.76 469.11,976.44 469.56,977.07 470.00,977.65 470.45,978.18 470.90,978.66 471.35,979.09 471.80,979.49 472.25,979.85 472.69,980.17 473.14,980.45 473.59,980.71 474.04,980.94 474.49,981.14 474.93,981.32 475.38,981.48 475.83,981.62 476.28,981.75 476.73,981.85 477.18,981.95 477.62,982.03 478.07,982.10 478.52,982.16 478.97,982.21 479.42,982.25 479.86,982.28 480.31,982.30 480.76,982.31 481.21,982.31 481.66,982.30 482.11,982.27 482.55,982.24 483.00,982.18 483.45,982.12 483.90,982.03 484.35,981.93 484.79,981.82 485.24,981.68 485.69,981.52 486.14,981.35 486.59,981.15 487.03,980.93 487.48,980.70 487.93,980.45 488.38,980.18 488.83,979.89 489.28,979.60 489.72,979.30 490.17,978.99 490.62,978.68 491.07,978.38 491.52,978.09 491.96,977.82 492.41,977.57 492.86,977.35 493.31,977.17 493.76,977.03 494.21,976.94 494.65,976.91 495.10,976.93 495.55,977.01 496.00,977.14 496.45,977.32 496.89,977.56 497.34,977.83 497.79,978.14 498.24,978.47 498.69,978.83 499.14,979.20 499.58,979.59 500.03,979.97 500.48,980.35 500.93,980.73 501.38,981.10 501.82,981.45 502.27,981.80 502.72,982.12 503.17,982.43 503.62,982.71 504.07,982.98 504.51,983.23 504.96,983.46 505.41,983.67 505.86,983.86 506.31,984.04 506.75,984.20 507.20,984.34 507.65,984.47 508.10,984.59 508.55,984.70 509.00,984.80 509.44,984.89 509.89,984.98 510.34,985.06 510.79,985.13 511.24,985.19 511.68,985.26 512.13,985.32 512.58,985.38 513.03,985.43 513.48,985.48 513.92,985.53 514.37,985.58 514.82,985.63 515.27,985.68 515.72,985.72 516.17,985.77 516.61,985.81 517.06,985.86 517.51,985.90 517.96,985.94 518.41,985.99 518.85,986.03 519.30,986.08 519.75,986.12 520.20,986.17 520.65,986.22 521.10,986.27 521.54,986.32 521.99,986.37 522.44,986.42 522.89,986.47 523.34,986.53 523.78,986.58 524.23,986.63 524.68,986.69 525.13,986.74 525.58,986.80 526.03,986.85 526.47,986.90 526.92,986.96 527.37,987.01 527.82,987.07 528.27,987.12 528.71,987.17 529.16,987.23 529.61,987.28 530.06,987.33 530.51,987.38 530.96,987.44 531.40,987.49 531.85,987.54 532.30,987.58 532.75,987.63 533.20,987.68 533.64,987.73 534.09,987.77 534.54,987.81 534.99,987.86 535.44,987.90 535.88,987.94 536.33,987.98 536.78,988.01 537.23,988.05 537.68,988.08 538.13,988.12 538.57,988.15 539.02,988.17 539.47,988.20 539.92,988.22 540.37,988.25 540.81,988.27 541.26,988.29 541.71,988.30 542.16,988.32 542.61,988.33 543.06,988.35 543.50,988.37 543.95,988.38 544.40,988.40 544.85,988.41 545.30,988.43 545.74,988.44 546.19,988.45 546.64,988.47 547.09,988.48 547.54,988.49 547.99,988.51 548.43,988.52 548.88,988.53 549.33,988.54 549.78,988.56 550.23,988.57 550.67,988.58 551.12,988.59 551.57,988.60 552.02,988.61 552.47,988.62 552.92,988.64 553.36,988.65 553.81,988.66 554.26,988.67 554.71,988.68 555.16,988.69 555.60,988.70 556.05,988.71 556.50,988.71 556.95,988.72 557.40,988.73 557.85,988.74 558.29,988.75 558.74,988.76 559.19,988.77 559.64,988.78 560.09,988.78 560.53,988.79 560.98,988.80 561.43,988.81 561.88,988.82 562.33,988.82 562.77,988.83 563.22,988.84 563.67,988.85 564.12,988.86 564.57,988.86 565.02,988.87 565.46,988.88 565.91,988.88 566.36,988.89 566.81,988.90 567.26,988.91 567.70,988.91 568.15,988.92 568.60,988.93 569.05,988.93 569.50,988.94 569.95,988.95 570.39,988.96 570.84,988.96 571.29,988.97 571.74,988.98 572.19,988.98 572.63,988.99 573.08,989.00 573.53,989.00 573.98,989.01 574.43,989.02 574.88,989.02 575.32,989.03 575.77,989.04 576.22,989.05 576.67,989.05 577.12,989.06 577.56,989.07 578.01,989.08 578.46,989.08 578.91,989.09 579.36,989.10 579.81,989.10 580.25,989.11 580.70,989.12 581.15,989.12 581.60,989.13 582.05,989.14 582.49,989.15 582.94,989.15 583.39,989.16 583.84,989.17 584.29,989.17 584.74,989.18 585.18,989.19 585.63,989.19 586.08,989.20 586.53,989.21 586.98,989.21 587.42,989.22 587.87,989.23 588.32,989.23 588.77,989.24 589.22,989.25 589.67,989.25 590.11,989.26 590.56,989.27 591.01,989.27 591.46,989.28 591.91,989.29 592.35,989.29 592.80,989.30 593.25,989.31 593.70,989.31 594.15,989.32 594.59,989.32 595.04,989.33 595.49,989.34 595.94,989.34 596.39,989.35 596.84,989.36 597.28,989.36 597.73,989.37 598.18,989.37 598.63,989.38 599.08,989.39 599.52,989.39 599.97,989.40 600.42,989.40 600.87,989.41 601.32,989.42 601.77,989.42 602.21,989.43 602.66,989.43 603.11,989.44 603.56,989.44 604.01,989.45 604.45,989.46 604.90,989.46 605.35,989.47 605.80,989.47 606.25,989.48 606.70,989.48 607.14,989.49 607.59,989.49 608.04,989.50 608.49,989.50 608.94,989.51 609.38,989.51 609.83,989.52 610.28,989.53 610.73,989.53 611.18,989.54 611.63,989.54 612.07,989.55 612.52,989.55 612.97,989.56 613.42,989.56 613.87,989.57 614.31,989.57 614.76,989.57 615.21,989.58 615.66,989.58 616.11,989.59 616.56,989.59 617.00,989.60 617.45,989.60 617.90,989.61 618.35,989.61 618.80,989.62 619.24,989.62 619.69,989.62 620.14,989.63 620.59,989.63 621.04,989.64 621.48,989.64 621.93,989.65 622.38,989.65 622.83,989.65 623.28,989.66 623.73,989.66 624.17,989.67 624.62,989.67 625.07,989.67 625.52,989.68 625.97,989.68 626.41,989.68 626.86,989.69 627.31,989.69 627.76,989.70 628.21,989.70 628.66,989.70 629.10,989.71 629.55,989.71 630.00,989.71"/>
<path d="M92.3,563.21 V996.80 H630.60" fill="none" stroke="#000" stroke-width="1.3"/>
<path d="M84.2,991.90H92.3 M88.2,968.12H92.3 M84.2,944.34H92.3 M88.2,920.56H92.3 M84.2,896.78H92.3 M88.2,873.00H92.3 M84.2,849.22H92.3 M88.2,825.44H92.3 M84.2,801.66H92.3 M88.2,777.88H92.3 M84.2,754.10H92.3 M88.2,730.32H92.3 M84.2,706.54H92.3 M88.2,682.76H92.3 M84.2,658.98H92.3 M88.2,635.20H92.3 M84.2,611.42H92.3 M88.2,587.64H92.3 M84.2,563.86H92.3 M92.20,996.80V1001.00 M119.09,996.80V1005.00 M145.98,996.80V1001.00 M172.87,996.80V1005.00 M199.76,996.80V1001.00 M226.65,996.80V1005.00 M253.54,996.80V1001.00 M280.43,996.80V1005.00 M307.32,996.80V1001.00 M334.21,996.80V1005.00 M361.10,996.80V1001.00 M387.99,996.80V1005.00 M414.88,996.80V1001.00 M441.77,996.80V1005.00 M468.66,996.80V1001.00 M495.55,996.80V1005.00 M522.44,996.80V1001.00 M549.33,996.80V1005.00 M576.22,996.80V1001.00 M603.11,996.80V1005.00 M630.00,996.80V1001.00" stroke="#000" stroke-width="1.3" fill="none"/>
<text x="79.3" y="998.75" text-anchor="end" font-size="22.8">0</text>
<text x="79.3" y="951.36" text-anchor="end" font-size="22.8">100</text>
<text x="79.3" y="903.97" text-anchor="end" font-size="22.8">200</text>
<text x="79.3" y="856.58" text-anchor="end" font-size="22.8">300</text>
<text x="79.3" y="809.19" text-anchor="end" font-size="22.8">400</text>
<text x="79.3" y="761.80" text-anchor="end" font-size="22.8">500</text>
<text x="79.3" y="714.41" text-anchor="end" font-size="22.8">600</text>
<text x="79.3" y="667.02" text-anchor="end" font-size="22.8">700</text>
<text x="79.3" y="619.63" text-anchor="end" font-size="22.8">800</text>
<text x="79.3" y="572.24" text-anchor="end" font-size="22.8">900</text>
<text x="119.65" y="1030.10" text-anchor="middle" font-size="22.8">6</text>
<text x="173.16" y="1030.10" text-anchor="middle" font-size="22.8">8</text>
<text x="226.67" y="1030.10" text-anchor="middle" font-size="22.8">10</text>
<text x="280.19" y="1030.10" text-anchor="middle" font-size="22.8">12</text>
<text x="333.70" y="1030.10" text-anchor="middle" font-size="22.8">14</text>
<text x="387.21" y="1030.10" text-anchor="middle" font-size="22.8">16</text>
<text x="440.72" y="1030.10" text-anchor="middle" font-size="22.8">18</text>
<text x="494.23" y="1030.10" text-anchor="middle" font-size="22.8">20</text>
<text x="547.75" y="1030.10" text-anchor="middle" font-size="22.8">22</text>
<text x="601.26" y="1030.10" text-anchor="middle" font-size="22.8">24</text>
<text x="360" y="1060.10" text-anchor="middle" font-size="22.3">Time (min)</text>
<text transform="translate(18.0,772.60) rotate(-90)" text-anchor="middle" font-size="22.3">Intensity (mAu)</text>
<text x="-0.5" y="563.1" font-size="27" font-weight="bold">b</text>
<rect x="94.5" y="563.70" width="311.00" height="42.5" fill="none" stroke="#6e6e6e" stroke-width="1.1"/>
<text x="256.3" y="593.10" text-anchor="middle" font-size="22.3">Acidic variants</text>
<rect x="408.6" y="563.70" width="71.70" height="42.5" fill="none" stroke="#6e6e6e" stroke-width="1.1"/>
<text x="441.6" y="593.10" text-anchor="middle" font-size="22.3">Main</text>
<rect x="483.4" y="563.70" width="154.60" height="42.5" fill="none" stroke="#6e6e6e" stroke-width="1.1"/>
<text x="559.4" y="593.10" text-anchor="middle" font-size="22.3">Basic variants</text>
<rect x="486.1" y="608.80" width="151.9" height="115.4" fill="none" stroke="#6e6e6e" stroke-width="1.1"/>
<line x1="488.7" y1="621.85" x2="530" y2="621.85" stroke="#5858ff" stroke-width="1.0"/>
<text x="541.6" y="628.65" font-size="19">1 day</text>
<line x1="488.7" y1="644.47" x2="530" y2="644.47" stroke="#58b558" stroke-width="1.0"/>
<text x="541.6" y="651.27" font-size="19">7 days</text>
<line x1="488.7" y1="667.09" x2="530" y2="667.09" stroke="#f5a266" stroke-width="1.0"/>
<text x="541.6" y="673.89" font-size="19">12 days</text>
<line x1="488.7" y1="689.71" x2="530" y2="689.71" stroke="#a34747" stroke-width="1.0"/>
<text x="541.6" y="696.51" font-size="19">15 days</text>
<line x1="488.7" y1="712.33" x2="530" y2="712.33" stroke="#9a9a9a" stroke-width="1.0"/>
<text x="541.6" y="719.13" font-size="19">Blank</text>
<rect x="486.1" y="727.60" width="152.3" height="79.7" fill="none" stroke="#6e6e6e" stroke-width="1.1"/>
<circle cx="498.3" cy="740.60" r="3.5" fill="#d6249a" stroke="#c01f8a" stroke-width="0.6"/>
<text x="505.5" y="745.50" font-size="12.6">LC-Asn30-deam</text>
<circle cx="498.3" cy="758.35" r="3.5" fill="#fcc12c" stroke="#ee9a1e" stroke-width="0.6"/>
<text x="505.5" y="763.25" font-size="12.6">HC-isoAsp102</text>
<circle cx="498.3" cy="776.10" r="3.5" fill="#19b51e" stroke="#14a018" stroke-width="0.6"/>
<text x="505.5" y="781.00" font-size="12.6">HC-Asn55-deam</text>
<circle cx="498.3" cy="793.85" r="3.5" fill="#0000ff" stroke="#0000d8" stroke-width="0.6"/>
<text x="505.5" y="798.75" font-size="12.6">HC-Asn387,392-deam</text>
<line x1="186.50" y1="927.35" x2="186.50" y2="952.20" stroke="#828282" stroke-width="3.0" stroke-linecap="round"/>
<line x1="191.20" y1="927.35" x2="191.20" y2="952.20" stroke="#828282" stroke-width="3.0" stroke-linecap="round"/>
<line x1="173.75" y1="909.65" x2="186.25" y2="921.35" stroke="#828282" stroke-width="3.0" stroke-linecap="round"/>
<line x1="170.25" y1="913.55" x2="179.95" y2="922.75" stroke="#828282" stroke-width="3.0" stroke-linecap="round"/>
<line x1="181.45" y1="921.55" x2="183.25" y2="919.75" stroke="#444" stroke-width="0.8" stroke-linecap="butt"/>
<line x1="203.95" y1="909.65" x2="191.45" y2="921.35" stroke="#828282" stroke-width="3.0" stroke-linecap="round"/>
<line x1="207.45" y1="913.55" x2="197.75" y2="922.75" stroke="#828282" stroke-width="3.0" stroke-linecap="round"/>
<line x1="196.25" y1="921.55" x2="194.45" y2="919.75" stroke="#444" stroke-width="0.8" stroke-linecap="butt"/>
<rect x="187.10" y="923.15" width="3.5" height="2.5" fill="#fff" stroke="#555" stroke-width="0.7"/>
<circle cx="169.30" cy="916.30" r="3.75" fill="#d6249a" stroke="#c01f8a" stroke-width="0.6"/>
<circle cx="209.10" cy="916.70" r="3.75" fill="#d6249a" stroke="#c01f8a" stroke-width="0.6"/>
<circle cx="183.00" cy="949.40" r="3.75" fill="#0000ff" stroke="#0000d8" stroke-width="0.6"/>
<text x="187.30" y="896.75" text-anchor="middle" font-size="16">A1</text>
<line x1="231.55" y1="888.50" x2="231.55" y2="911.10" stroke="#828282" stroke-width="3.0" stroke-linecap="round"/>
<line x1="236.25" y1="888.50" x2="236.25" y2="911.10" stroke="#828282" stroke-width="3.0" stroke-linecap="round"/>
<line x1="220.30" y1="872.20" x2="231.30" y2="882.50" stroke="#828282" stroke-width="3.0" stroke-linecap="round"/>
<line x1="216.46" y1="875.80" x2="225.00" y2="883.90" stroke="#828282" stroke-width="3.0" stroke-linecap="round"/>
<line x1="226.50" y1="882.70" x2="228.30" y2="880.90" stroke="#444" stroke-width="0.8" stroke-linecap="butt"/>
<line x1="247.50" y1="872.20" x2="236.50" y2="882.50" stroke="#828282" stroke-width="3.0" stroke-linecap="round"/>
<line x1="251.34" y1="875.80" x2="242.80" y2="883.90" stroke="#828282" stroke-width="3.0" stroke-linecap="round"/>
<line x1="241.30" y1="882.70" x2="239.50" y2="880.90" stroke="#444" stroke-width="0.8" stroke-linecap="butt"/>
<rect x="232.15" y="884.30" width="3.5" height="2.5" fill="#fff" stroke="#555" stroke-width="0.7"/>
<circle cx="215.80" cy="878.50" r="3.75" fill="#d6249a" stroke="#c01f8a" stroke-width="0.6"/>
<circle cx="251.90" cy="878.50" r="3.75" fill="#d6249a" stroke="#c01f8a" stroke-width="0.6"/>
<text x="234.50" y="863.25" text-anchor="middle" font-size="16">A2</text>
<line x1="259.65" y1="927.35" x2="259.65" y2="950.35" stroke="#828282" stroke-width="3.0" stroke-linecap="round"/>
<line x1="264.35" y1="927.35" x2="264.35" y2="950.35" stroke="#828282" stroke-width="3.0" stroke-linecap="round"/>
<line x1="247.78" y1="910.47" x2="259.40" y2="921.35" stroke="#828282" stroke-width="3.0" stroke-linecap="round"/>
<line x1="244.08" y1="914.19" x2="253.10" y2="922.75" stroke="#828282" stroke-width="3.0" stroke-linecap="round"/>
<line x1="254.60" y1="921.55" x2="256.40" y2="919.75" stroke="#444" stroke-width="0.8" stroke-linecap="butt"/>
<line x1="276.23" y1="910.47" x2="264.60" y2="921.35" stroke="#828282" stroke-width="3.0" stroke-linecap="round"/>
<line x1="279.92" y1="914.19" x2="270.90" y2="922.75" stroke="#828282" stroke-width="3.0" stroke-linecap="round"/>
<line x1="269.40" y1="921.55" x2="267.60" y2="919.75" stroke="#444" stroke-width="0.8" stroke-linecap="butt"/>
<rect x="260.25" y="923.15" width="3.5" height="2.5" fill="#fff" stroke="#555" stroke-width="0.7"/>
<circle cx="243.80" cy="917.50" r="3.75" fill="#d6249a" stroke="#c01f8a" stroke-width="0.6"/>
<circle cx="279.50" cy="917.50" r="3.75" fill="#d6249a" stroke="#c01f8a" stroke-width="0.6"/>
<circle cx="263.70" cy="917.95" r="3.75" fill="#fcc12c" stroke="#ee9a1e" stroke-width="0.6"/>
<text x="260.90" y="903.25" text-anchor="middle" font-size="16">A3</text>
<line x1="293.15" y1="892.35" x2="293.15" y2="915.35" stroke="#828282" stroke-width="3.0" stroke-linecap="round"/>
<line x1="297.85" y1="892.35" x2="297.85" y2="915.35" stroke="#828282" stroke-width="3.0" stroke-linecap="round"/>
<line x1="282.27" y1="876.40" x2="292.90" y2="886.35" stroke="#828282" stroke-width="3.0" stroke-linecap="round"/>
<line x1="278.36" y1="879.93" x2="286.60" y2="887.75" stroke="#828282" stroke-width="3.0" stroke-linecap="round"/>
<line x1="288.10" y1="886.55" x2="289.90" y2="884.75" stroke="#444" stroke-width="0.8" stroke-linecap="butt"/>
<line x1="308.73" y1="876.40" x2="298.10" y2="886.35" stroke="#828282" stroke-width="3.0" stroke-linecap="round"/>
<line x1="312.64" y1="879.93" x2="304.40" y2="887.75" stroke="#828282" stroke-width="3.0" stroke-linecap="round"/>
<line x1="302.90" y1="886.55" x2="301.10" y2="884.75" stroke="#444" stroke-width="0.8" stroke-linecap="butt"/>
<rect x="293.75" y="888.15" width="3.5" height="2.5" fill="#fff" stroke="#555" stroke-width="0.7"/>
<circle cx="289.50" cy="879.25" r="3.75" fill="#19b51e" stroke="#14a018" stroke-width="0.6"/>
<text x="298.10" y="865.75" text-anchor="middle" font-size="16">A4</text>
<line x1="339.35" y1="761.70" x2="339.35" y2="783.80" stroke="#828282" stroke-width="3.0" stroke-linecap="round"/>
<line x1="344.05" y1="761.70" x2="344.05" y2="783.80" stroke="#828282" stroke-width="3.0" stroke-linecap="round"/>
<line x1="327.72" y1="745.05" x2="339.10" y2="755.70" stroke="#828282" stroke-width="3.0" stroke-linecap="round"/>
<line x1="323.97" y1="748.73" x2="332.80" y2="757.10" stroke="#828282" stroke-width="3.0" stroke-linecap="round"/>
<line x1="334.30" y1="755.90" x2="336.10" y2="754.10" stroke="#444" stroke-width="0.8" stroke-linecap="butt"/>
<line x1="355.68" y1="745.05" x2="344.30" y2="755.70" stroke="#828282" stroke-width="3.0" stroke-linecap="round"/>
<line x1="359.43" y1="748.73" x2="350.60" y2="757.10" stroke="#828282" stroke-width="3.0" stroke-linecap="round"/>
<line x1="349.10" y1="755.90" x2="347.30" y2="754.10" stroke="#444" stroke-width="0.8" stroke-linecap="butt"/>
<rect x="339.95" y="757.50" width="3.5" height="2.5" fill="#fff" stroke="#555" stroke-width="0.7"/>
<circle cx="323.30" cy="752.00" r="3.75" fill="#d6249a" stroke="#c01f8a" stroke-width="0.6"/>
<text x="339.80" y="735.20" text-anchor="middle" font-size="16">A5</text>
<line x1="375.75" y1="914.35" x2="375.75" y2="937.35" stroke="#828282" stroke-width="3.0" stroke-linecap="round"/>
<line x1="380.45" y1="914.35" x2="380.45" y2="937.35" stroke="#828282" stroke-width="3.0" stroke-linecap="round"/>
<line x1="364.25" y1="897.82" x2="375.50" y2="908.35" stroke="#828282" stroke-width="3.0" stroke-linecap="round"/>
<line x1="360.47" y1="901.47" x2="369.20" y2="909.75" stroke="#828282" stroke-width="3.0" stroke-linecap="round"/>
<line x1="370.70" y1="908.55" x2="372.50" y2="906.75" stroke="#444" stroke-width="0.8" stroke-linecap="butt"/>
<line x1="391.95" y1="897.82" x2="380.70" y2="908.35" stroke="#828282" stroke-width="3.0" stroke-linecap="round"/>
<line x1="395.73" y1="901.47" x2="387.00" y2="909.75" stroke="#828282" stroke-width="3.0" stroke-linecap="round"/>
<line x1="385.50" y1="908.55" x2="383.70" y2="906.75" stroke="#444" stroke-width="0.8" stroke-linecap="butt"/>
<rect x="376.35" y="910.15" width="3.5" height="2.5" fill="#fff" stroke="#555" stroke-width="0.7"/>
<circle cx="360.00" cy="904.00" r="3.75" fill="#d6249a" stroke="#c01f8a" stroke-width="0.6"/>
<circle cx="379.80" cy="904.95" r="3.75" fill="#fcc12c" stroke="#ee9a1e" stroke-width="0.6"/>
<text x="379.20" y="890.60" text-anchor="middle" font-size="16">A6</text>
<line x1="454.25" y1="629.35" x2="454.25" y2="654.10" stroke="#828282" stroke-width="3.0" stroke-linecap="round"/>
<line x1="458.95" y1="629.35" x2="458.95" y2="654.10" stroke="#828282" stroke-width="3.0" stroke-linecap="round"/>
<line x1="442.12" y1="612.24" x2="454.00" y2="623.35" stroke="#828282" stroke-width="3.0" stroke-linecap="round"/>
<line x1="438.49" y1="616.01" x2="447.70" y2="624.75" stroke="#828282" stroke-width="3.0" stroke-linecap="round"/>
<line x1="449.20" y1="623.55" x2="451.00" y2="621.75" stroke="#444" stroke-width="0.8" stroke-linecap="butt"/>
<line x1="471.08" y1="612.24" x2="459.20" y2="623.35" stroke="#828282" stroke-width="3.0" stroke-linecap="round"/>
<line x1="474.72" y1="616.01" x2="465.50" y2="624.75" stroke="#828282" stroke-width="3.0" stroke-linecap="round"/>
<line x1="464.00" y1="623.55" x2="462.20" y2="621.75" stroke="#444" stroke-width="0.8" stroke-linecap="butt"/>
<rect x="454.85" y="625.15" width="3.5" height="2.5" fill="#fff" stroke="#555" stroke-width="0.7"/>
<line x1="491.85" y1="917.30" x2="491.85" y2="940.00" stroke="#828282" stroke-width="3.0" stroke-linecap="round"/>
<line x1="496.55" y1="917.30" x2="496.55" y2="940.00" stroke="#828282" stroke-width="3.0" stroke-linecap="round"/>
<line x1="480.72" y1="901.12" x2="491.60" y2="911.30" stroke="#828282" stroke-width="3.0" stroke-linecap="round"/>
<line x1="476.86" y1="904.70" x2="485.30" y2="912.70" stroke="#828282" stroke-width="3.0" stroke-linecap="round"/>
<line x1="486.80" y1="911.50" x2="488.60" y2="909.70" stroke="#444" stroke-width="0.8" stroke-linecap="butt"/>
<line x1="507.68" y1="901.12" x2="496.80" y2="911.30" stroke="#828282" stroke-width="3.0" stroke-linecap="round"/>
<line x1="511.54" y1="904.70" x2="503.10" y2="912.70" stroke="#828282" stroke-width="3.0" stroke-linecap="round"/>
<line x1="501.60" y1="911.50" x2="499.80" y2="909.70" stroke="#444" stroke-width="0.8" stroke-linecap="butt"/>
<rect x="492.45" y="913.10" width="3.5" height="2.5" fill="#fff" stroke="#555" stroke-width="0.7"/>
<circle cx="495.90" cy="907.90" r="3.75" fill="#fcc12c" stroke="#ee9a1e" stroke-width="0.6"/>
<text x="494.90" y="888.90" text-anchor="middle" font-size="16">B1</text>
<g id="nofoot" fill="#fff"><rect x="42.12" y="399.80" width="4.81" height="3.20"/><rect x="49.05" y="399.80" width="4.64" height="3.20"/><rect x="214.86" y="478.15" width="4.81" height="3.20"/><rect x="221.79" y="478.15" width="4.64" height="3.20"/><rect x="268.38" y="478.15" width="4.81" height="3.20"/><rect x="275.31" y="478.15" width="4.64" height="3.20"/><rect x="321.89" y="478.15" width="4.81" height="3.20"/><rect x="328.82" y="478.15" width="4.64" height="3.20"/><rect x="375.40" y="478.15" width="4.81" height="3.20"/><rect x="382.33" y="478.15" width="4.64" height="3.20"/><rect x="428.91" y="478.15" width="4.81" height="3.20"/><rect x="435.84" y="478.15" width="4.64" height="3.20"/><rect x="542.19" y="77.08" width="4.14" height="2.92"/><rect x="548.11" y="77.08" width="3.99" height="2.92"/><rect x="542.19" y="122.32" width="4.14" height="2.92"/><rect x="548.11" y="122.32" width="3.99" height="2.92"/><rect x="542.19" y="144.94" width="4.14" height="2.92"/><rect x="548.11" y="144.94" width="3.99" height="2.92"/><rect x="565.79" y="212.16" width="3.00" height="2.44"/><rect x="570.00" y="212.16" width="2.90" height="2.44"/><rect x="182.55" y="357.45" width="3.60" height="2.70"/><rect x="187.67" y="357.45" width="3.48" height="2.70"/><rect x="498.85" y="355.25" width="3.60" height="2.70"/><rect x="503.97" y="355.25" width="3.48" height="2.70"/><rect x="42.12" y="948.81" width="4.81" height="3.20"/><rect x="49.05" y="948.81" width="4.64" height="3.20"/><rect x="214.86" y="1027.55" width="4.81" height="3.20"/><rect x="221.79" y="1027.55" width="4.64" height="3.20"/><rect x="268.38" y="1027.55" width="4.81" height="3.20"/><rect x="275.31" y="1027.55" width="4.64" height="3.20"/><rect x="321.89" y="1027.55" width="4.81" height="3.20"/><rect x="328.82" y="1027.55" width="4.64" height="3.20"/><rect x="375.40" y="1027.55" width="4.81" height="3.20"/><rect x="382.33" y="1027.55" width="4.64" height="3.20"/><rect x="428.91" y="1027.55" width="4.81" height="3.20"/><rect x="435.84" y="1027.55" width="4.64" height="3.20"/><rect x="542.19" y="626.38" width="4.14" height="2.92"/><rect x="548.11" y="626.38" width="3.99" height="2.92"/><rect x="542.19" y="671.62" width="4.14" height="2.92"/><rect x="548.11" y="671.62" width="3.99" height="2.92"/><rect x="542.19" y="694.24" width="4.14" height="2.92"/><rect x="548.11" y="694.24" width="3.99" height="2.92"/><rect x="565.79" y="761.46" width="3.00" height="2.44"/><rect x="570.00" y="761.46" width="2.90" height="2.44"/><rect x="188.55" y="894.70" width="3.60" height="2.70"/><rect x="193.67" y="894.70" width="3.48" height="2.70"/><rect x="496.15" y="886.85" width="3.60" height="2.70"/><rect x="501.27" y="886.85" width="3.48" height="2.70"/></g>
</svg>
</body></html>
